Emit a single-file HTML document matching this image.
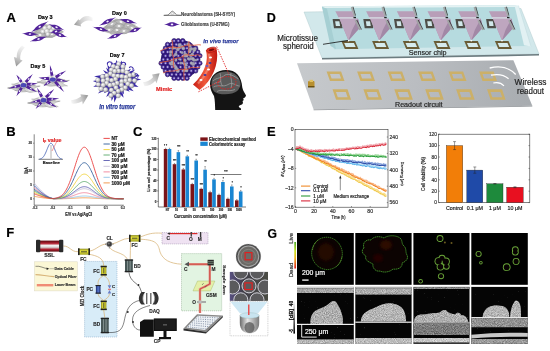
<!DOCTYPE html>
<html><head><meta charset="utf-8"><style>html,body{margin:0;padding:0;background:#fff;}svg{display:block;}</style></head>
<body><svg width="550" height="351" viewBox="0 0 550 351" font-family="Liberation Sans, Arial, sans-serif">
<rect width="550" height="351" fill="#fff"/>
<defs>
<radialGradient id="sph" cx="0.38" cy="0.35" r="0.7"><stop offset="0" stop-color="#ffffff"/><stop offset="0.55" stop-color="#cfcfcf"/><stop offset="1" stop-color="#8a8a8a"/></radialGradient>
<linearGradient id="arrowg" x1="0" y1="0" x2="1" y2="1"><stop offset="0" stop-color="#f4f4f4"/><stop offset="1" stop-color="#a8a8a8"/></linearGradient>
<linearGradient id="livedead" x1="0" y1="0" x2="0" y2="1"><stop offset="0" stop-color="#4caf2a"/><stop offset="0.35" stop-color="#c8e01e"/><stop offset="0.6" stop-color="#f0b81a"/><stop offset="1" stop-color="#e01818"/></linearGradient>
<linearGradient id="dbbar" x1="0" y1="0" x2="0" y2="1"><stop offset="0" stop-color="#ffffff"/><stop offset="1" stop-color="#000"/></linearGradient>
<linearGradient id="vessel" x1="0" y1="0" x2="1" y2="0"><stop offset="0" stop-color="#c81e14"/><stop offset="0.5" stop-color="#f05a3c"/><stop offset="1" stop-color="#c01810"/></linearGradient>
<radialGradient id="headg" cx="0.45" cy="0.35" r="0.7"><stop offset="0" stop-color="#6a6a6a"/><stop offset="0.6" stop-color="#2a2a2a"/><stop offset="1" stop-color="#0a0a0a"/></radialGradient>
<linearGradient id="cupg" x1="0" y1="0" x2="1" y2="0"><stop offset="0" stop-color="#6a6a6a"/><stop offset="0.4" stop-color="#e8e8e8"/><stop offset="1" stop-color="#7a7a7a"/></linearGradient>
<linearGradient id="ssl" x1="0" y1="0" x2="0" y2="1"><stop offset="0" stop-color="#5a0a10"/><stop offset="0.25" stop-color="#b02030"/><stop offset="0.45" stop-color="#f4f4f4"/><stop offset="0.6" stop-color="#d8d8d8"/><stop offset="0.8" stop-color="#b02030"/><stop offset="1" stop-color="#5a0a10"/></linearGradient>
<linearGradient id="fcg" x1="0" y1="0" x2="0" y2="1"><stop offset="0" stop-color="#8a8a20"/><stop offset="0.4" stop-color="#f4f040"/><stop offset="1" stop-color="#a0a020"/></linearGradient>
<linearGradient id="fcv" x1="0" y1="0" x2="1" y2="0"><stop offset="0" stop-color="#8a8a20"/><stop offset="0.4" stop-color="#f4f040"/><stop offset="1" stop-color="#a0a020"/></linearGradient>
<linearGradient id="bdg" x1="0" y1="0" x2="1" y2="0"><stop offset="0" stop-color="#3a4a4a"/><stop offset="0.5" stop-color="#a4b2b0"/><stop offset="1" stop-color="#3a4a4a"/></linearGradient>
<linearGradient id="pcg" x1="0" y1="0" x2="1" y2="0"><stop offset="0" stop-color="#1a2a6a"/><stop offset="0.5" stop-color="#5a7ad0"/><stop offset="1" stop-color="#1a2a6a"/></linearGradient>
</defs>
<text x="6.4" y="21.7" font-size="13" font-weight="bold" fill="#000" text-anchor="start" stroke="#000" stroke-width="0.18" >A</text>
<text x="37.9" y="18.8" font-size="5.6" font-weight="bold" fill="#000" text-anchor="start" textLength="14.7" lengthAdjust="spacingAndGlyphs" stroke="#000" stroke-width="0.18" >Day 3</text>
<text x="112" y="14.5" font-size="5.6" font-weight="bold" fill="#000" text-anchor="start" textLength="14.7" lengthAdjust="spacingAndGlyphs" stroke="#000" stroke-width="0.18" >Day 0</text>
<text x="30.5" y="68.1" font-size="5.6" font-weight="bold" fill="#000" text-anchor="start" textLength="14.7" lengthAdjust="spacingAndGlyphs" stroke="#000" stroke-width="0.18" >Day 5</text>
<text x="109.8" y="56.5" font-size="5.6" font-weight="bold" fill="#000" text-anchor="start" textLength="14.7" lengthAdjust="spacingAndGlyphs" stroke="#000" stroke-width="0.18" >Day 7</text>
<defs><linearGradient id="ag1" gradientUnits="userSpaceOnUse" x1="92" y1="18" x2="75" y2="25"><stop offset="0" stop-color="#f6f6f6"/><stop offset="0.6" stop-color="#cfcfcf"/><stop offset="1" stop-color="#9c9c9c"/></linearGradient></defs>
<path d="M 92.5 17.8 C 88.5 14.6 83 15.6 79.6 20.2 L 78.4 19.3 L 74 24.8 L 81.2 26.6 L 80.6 24.6 C 84 20.6 88.5 19.8 92.5 21.2 Z" fill="url(#ag1)"/>
<defs><linearGradient id="ag2" gradientUnits="userSpaceOnUse" x1="23" y1="46" x2="16" y2="65"><stop offset="0" stop-color="#f6f6f6"/><stop offset="0.6" stop-color="#cfcfcf"/><stop offset="1" stop-color="#9c9c9c"/></linearGradient></defs>
<path d="M 22 45.5 C 18.5 48.5 16.5 52.5 16.8 57.8 L 13.9 56.9 L 16.2 66.4 L 22.6 60.5 L 20.2 59.6 C 19.8 54.5 21.5 50.5 24.8 47.5 Z" fill="url(#ag2)"/>
<defs><linearGradient id="ag3" gradientUnits="userSpaceOnUse" x1="71" y1="102" x2="87" y2="97"><stop offset="0" stop-color="#f6f6f6"/><stop offset="0.6" stop-color="#cfcfcf"/><stop offset="1" stop-color="#9c9c9c"/></linearGradient></defs>
<path d="M 71 100.3 C 75 100 78.5 98.5 81 96.6 L 80.4 94.3 L 88.3 95.2 L 82.8 104.6 L 82.2 101.2 C 79 103 75.5 104 71.5 103.6 Z" fill="url(#ag3)"/>
<defs><linearGradient id="ag4" gradientUnits="userSpaceOnUse" x1="143" y1="85" x2="159" y2="74"><stop offset="0" stop-color="#f6f6f6"/><stop offset="0.6" stop-color="#cfcfcf"/><stop offset="1" stop-color="#9c9c9c"/></linearGradient></defs>
<path d="M 143 82.3 C 147 81.8 150.5 80 153 77.2 L 152.1 74.5 L 159.6 73.2 L 156.5 83.4 L 155.3 80.8 C 152.5 84 148.5 86.2 144.5 86.2 Z" fill="url(#ag4)"/>
<polygon points="103,27.5 116,18.5 127,21 139,27.5 126,34 111,34.5" fill="#b4b4b4"/>
<g transform="translate(112.00,24.00) rotate(-25.0)"><path d="M -8.00 0 C -4.00 -0.4 -3.20 -2.80 0 -2.80 C 3.20 -2.80 4.00 -0.4 8.00 0 C 4.00 0.4 3.20 2.80 0 2.80 C -3.20 2.80 -4.00 0.4 -8.00 0 Z" fill="#bababa" stroke="#888" stroke-width="0.3"/><ellipse cx="0" cy="0" rx="1.5" ry="0.9" fill="#f6f6f6"/></g>
<g transform="translate(121.00,22.00) rotate(8.0)"><path d="M -7.50 0 C -3.75 -0.4 -3.00 -2.80 0 -2.80 C 3.00 -2.80 3.75 -0.4 7.50 0 C 3.75 0.4 3.00 2.80 0 2.80 C -3.00 2.80 -3.75 0.4 -7.50 0 Z" fill="#bababa" stroke="#888" stroke-width="0.3"/><ellipse cx="0" cy="0" rx="1.5" ry="0.9" fill="#f6f6f6"/></g>
<g transform="translate(128.00,26.00) rotate(-8.0)"><path d="M -7.50 0 C -3.75 -0.4 -3.00 -2.80 0 -2.80 C 3.00 -2.80 3.75 -0.4 7.50 0 C 3.75 0.4 3.00 2.80 0 2.80 C -3.00 2.80 -3.75 0.4 -7.50 0 Z" fill="#bababa" stroke="#888" stroke-width="0.3"/><ellipse cx="0" cy="0" rx="1.5" ry="0.9" fill="#f6f6f6"/></g>
<g transform="translate(117.00,30.00) rotate(12.0)"><path d="M -8.00 0 C -4.00 -0.4 -3.20 -2.80 0 -2.80 C 3.20 -2.80 4.00 -0.4 8.00 0 C 4.00 0.4 3.20 2.80 0 2.80 C -3.20 2.80 -4.00 0.4 -8.00 0 Z" fill="#bababa" stroke="#888" stroke-width="0.3"/><ellipse cx="0" cy="0" rx="1.5" ry="0.9" fill="#f6f6f6"/></g>
<g transform="translate(124.00,31.00) rotate(-5.0)"><path d="M -7.00 0 C -3.50 -0.4 -2.80 -2.80 0 -2.80 C 2.80 -2.80 3.50 -0.4 7.00 0 C 3.50 0.4 2.80 2.80 0 2.80 C -2.80 2.80 -3.50 0.4 -7.00 0 Z" fill="#bababa" stroke="#888" stroke-width="0.3"/><ellipse cx="0" cy="0" rx="1.5" ry="0.9" fill="#f6f6f6"/></g>
<g transform="translate(132.00,28.00) rotate(18.0)"><path d="M -6.00 0 C -3.00 -0.4 -2.40 -2.80 0 -2.80 C 2.40 -2.80 3.00 -0.4 6.00 0 C 3.00 0.4 2.40 2.80 0 2.80 C -2.40 2.80 -3.00 0.4 -6.00 0 Z" fill="#bababa" stroke="#888" stroke-width="0.3"/><ellipse cx="0" cy="0" rx="1.5" ry="0.9" fill="#f6f6f6"/></g>
<g transform="translate(109.00,30.00) rotate(-12.0)"><path d="M -6.50 0 C -3.25 -0.4 -2.60 -2.80 0 -2.80 C 2.60 -2.80 3.25 -0.4 6.50 0 C 3.25 0.4 2.60 2.80 0 2.80 C -2.60 2.80 -3.25 0.4 -6.50 0 Z" fill="#bababa" stroke="#888" stroke-width="0.3"/><ellipse cx="0" cy="0" rx="1.5" ry="0.9" fill="#f6f6f6"/></g>
<g transform="translate(119.00,26.00) rotate(0.0)"><path d="M -6.00 0 C -3.00 -0.4 -2.40 -2.80 0 -2.80 C 2.40 -2.80 3.00 -0.4 6.00 0 C 3.00 0.4 2.40 2.80 0 2.80 C -2.40 2.80 -3.00 0.4 -6.00 0 Z" fill="#bababa" stroke="#888" stroke-width="0.3"/><ellipse cx="0" cy="0" rx="1.5" ry="0.9" fill="#f6f6f6"/></g>
<g transform="translate(107.50,21.50) rotate(-27.0)"><path d="M -9.50 0 C -4.75 -0.3 -3.80 -1.90 0 -1.90 C 3.80 -1.90 4.75 -0.3 9.50 0 C 4.75 0.3 3.80 1.90 0 1.90 C -3.80 1.90 -4.75 0.3 -9.50 0 Z" fill="#52239a"/><ellipse cx="0" cy="0" rx="1.3" ry="0.85" fill="#f4f0ff"/></g>
<g transform="translate(128.00,21.20) rotate(14.0)"><path d="M -9.50 0 C -4.75 -0.3 -3.80 -1.90 0 -1.90 C 3.80 -1.90 4.75 -0.3 9.50 0 C 4.75 0.3 3.80 1.90 0 1.90 C -3.80 1.90 -4.75 0.3 -9.50 0 Z" fill="#52239a"/><ellipse cx="0" cy="0" rx="1.3" ry="0.85" fill="#f4f0ff"/></g>
<g transform="translate(101.00,29.20) rotate(15.0)"><path d="M -9.00 0 C -4.50 -0.3 -3.60 -1.90 0 -1.90 C 3.60 -1.90 4.50 -0.3 9.00 0 C 4.50 0.3 3.60 1.90 0 1.90 C -3.60 1.90 -4.50 0.3 -9.00 0 Z" fill="#52239a"/><ellipse cx="0" cy="0" rx="1.3" ry="0.85" fill="#f4f0ff"/></g>
<g transform="translate(115.00,36.00) rotate(-20.0)"><path d="M -9.00 0 C -4.50 -0.3 -3.60 -1.90 0 -1.90 C 3.60 -1.90 4.50 -0.3 9.00 0 C 4.50 0.3 3.60 1.90 0 1.90 C -3.60 1.90 -4.50 0.3 -9.00 0 Z" fill="#52239a"/><ellipse cx="0" cy="0" rx="1.3" ry="0.85" fill="#f4f0ff"/></g>
<g transform="translate(135.00,30.00) rotate(-20.0)"><path d="M -7.50 0 C -3.75 -0.3 -3.00 -1.90 0 -1.90 C 3.00 -1.90 3.75 -0.3 7.50 0 C 3.75 0.3 3.00 1.90 0 1.90 C -3.00 1.90 -3.75 0.3 -7.50 0 Z" fill="#52239a"/><ellipse cx="0" cy="0" rx="1.3" ry="0.85" fill="#f4f0ff"/></g>
<polygon points="32,33 44,24 56,26 64,32 52,38 38,38" fill="#b4b4b4"/>
<g transform="translate(42.00,31.00) rotate(-15.0)"><path d="M -9.00 0 C -4.50 -0.4 -3.60 -2.80 0 -2.80 C 3.60 -2.80 4.50 -0.4 9.00 0 C 4.50 0.4 3.60 2.80 0 2.80 C -3.60 2.80 -4.50 0.4 -9.00 0 Z" fill="#bababa" stroke="#888" stroke-width="0.3"/><ellipse cx="0" cy="0" rx="1.5" ry="0.9" fill="#f6f6f6"/></g>
<g transform="translate(50.00,29.00) rotate(10.0)"><path d="M -8.00 0 C -4.00 -0.4 -3.20 -2.80 0 -2.80 C 3.20 -2.80 4.00 -0.4 8.00 0 C 4.00 0.4 3.20 2.80 0 2.80 C -3.20 2.80 -4.00 0.4 -8.00 0 Z" fill="#bababa" stroke="#888" stroke-width="0.3"/><ellipse cx="0" cy="0" rx="1.5" ry="0.9" fill="#f6f6f6"/></g>
<g transform="translate(40.00,35.00) rotate(5.0)"><path d="M -8.00 0 C -4.00 -0.4 -3.20 -2.80 0 -2.80 C 3.20 -2.80 4.00 -0.4 8.00 0 C 4.00 0.4 3.20 2.80 0 2.80 C -3.20 2.80 -4.00 0.4 -8.00 0 Z" fill="#bababa" stroke="#888" stroke-width="0.3"/><ellipse cx="0" cy="0" rx="1.5" ry="0.9" fill="#f6f6f6"/></g>
<g transform="translate(52.00,34.00) rotate(-10.0)"><path d="M -7.50 0 C -3.75 -0.4 -3.00 -2.80 0 -2.80 C 3.00 -2.80 3.75 -0.4 7.50 0 C 3.75 0.4 3.00 2.80 0 2.80 C -3.00 2.80 -3.75 0.4 -7.50 0 Z" fill="#bababa" stroke="#888" stroke-width="0.3"/><ellipse cx="0" cy="0" rx="1.5" ry="0.9" fill="#f6f6f6"/></g>
<circle cx="45" cy="28.5" r="2.5" fill="url(#sph)"/>
<circle cx="49.5" cy="27.5" r="2.4" fill="url(#sph)"/>
<circle cx="47" cy="31.5" r="2.6" fill="url(#sph)"/>
<circle cx="51.5" cy="31.5" r="2.3" fill="url(#sph)"/>
<circle cx="43" cy="32" r="2.2" fill="url(#sph)"/>
<circle cx="48" cy="34.5" r="2.2" fill="url(#sph)"/>
<circle cx="53.5" cy="28.5" r="2" fill="url(#sph)"/>
<g transform="translate(39.70,26.70) rotate(-33.0)"><path d="M -11.00 0 C -5.50 -0.3 -4.40 -1.90 0 -1.90 C 4.40 -1.90 5.50 -0.3 11.00 0 C 5.50 0.3 4.40 1.90 0 1.90 C -4.40 1.90 -5.50 0.3 -11.00 0 Z" fill="#52239a"/><ellipse cx="0" cy="0" rx="1.3" ry="0.85" fill="#f4f0ff"/></g>
<g transform="translate(30.00,34.00) rotate(3.0)"><path d="M -8.50 0 C -4.25 -0.3 -3.40 -1.90 0 -1.90 C 3.40 -1.90 4.25 -0.3 8.50 0 C 4.25 0.3 3.40 1.90 0 1.90 C -3.40 1.90 -4.25 0.3 -8.50 0 Z" fill="#52239a"/><ellipse cx="0" cy="0" rx="1.3" ry="0.85" fill="#f4f0ff"/></g>
<g transform="translate(56.50,27.20) rotate(20.0)"><path d="M -9.00 0 C -4.50 -0.3 -3.60 -1.90 0 -1.90 C 3.60 -1.90 4.50 -0.3 9.00 0 C 4.50 0.3 3.60 1.90 0 1.90 C -3.60 1.90 -4.50 0.3 -9.00 0 Z" fill="#52239a"/><ellipse cx="0" cy="0" rx="1.3" ry="0.85" fill="#f4f0ff"/></g>
<g transform="translate(60.00,35.00) rotate(16.0)"><path d="M -8.00 0 C -4.00 -0.3 -3.20 -1.90 0 -1.90 C 3.20 -1.90 4.00 -0.3 8.00 0 C 4.00 0.3 3.20 1.90 0 1.90 C -3.20 1.90 -4.00 0.3 -8.00 0 Z" fill="#52239a"/><ellipse cx="0" cy="0" rx="1.3" ry="0.85" fill="#f4f0ff"/></g>
<g transform="translate(38.50,39.00) rotate(-16.0)"><path d="M -9.50 0 C -4.75 -0.3 -3.80 -1.90 0 -1.90 C 3.80 -1.90 4.75 -0.3 9.50 0 C 4.75 0.3 3.80 1.90 0 1.90 C -3.80 1.90 -4.75 0.3 -9.50 0 Z" fill="#52239a"/><ellipse cx="0" cy="0" rx="1.3" ry="0.85" fill="#f4f0ff"/></g>
<g transform="translate(56.00,31.50) rotate(-12.0)"><path d="M -6.50 0 C -3.25 -0.3 -2.60 -1.90 0 -1.90 C 2.60 -1.90 3.25 -0.3 6.50 0 C 3.25 0.3 2.60 1.90 0 1.90 C -2.60 1.90 -3.25 0.3 -6.50 0 Z" fill="#52239a"/><ellipse cx="0" cy="0" rx="1.3" ry="0.85" fill="#f4f0ff"/></g>
<g transform="translate(23.50,87.30) rotate(-4.0)"><path d="M -16.00 0 C -8.00 -0.4 -6.40 -2.60 0 -2.60 C 6.40 -2.60 8.00 -0.4 16.00 0 C 8.00 0.4 6.40 2.60 0 2.60 C -6.40 2.60 -8.00 0.4 -16.00 0 Z" fill="#d4d4d4" stroke="#888" stroke-width="0.3"/><ellipse cx="0" cy="0" rx="1.5" ry="0.9" fill="#f6f6f6"/></g>
<g transform="translate(20.50,89.30) rotate(8.0)"><path d="M -13.00 0 C -6.50 -0.4 -5.20 -2.60 0 -2.60 C 5.20 -2.60 6.50 -0.4 13.00 0 C 6.50 0.4 5.20 2.60 0 2.60 C -5.20 2.60 -6.50 0.4 -13.00 0 Z" fill="#d4d4d4" stroke="#888" stroke-width="0.3"/><ellipse cx="0" cy="0" rx="1.5" ry="0.9" fill="#f6f6f6"/></g>
<g transform="translate(27.50,88.30) rotate(-10.0)"><path d="M -13.00 0 C -6.50 -0.4 -5.20 -2.60 0 -2.60 C 5.20 -2.60 6.50 -0.4 13.00 0 C 6.50 0.4 5.20 2.60 0 2.60 C -5.20 2.60 -6.50 0.4 -13.00 0 Z" fill="#d4d4d4" stroke="#888" stroke-width="0.3"/><ellipse cx="0" cy="0" rx="1.5" ry="0.9" fill="#f6f6f6"/></g>
<g transform="translate(23.50,84.80) rotate(3.0)"><path d="M -12.00 0 C -6.00 -0.4 -4.80 -2.60 0 -2.60 C 4.80 -2.60 6.00 -0.4 12.00 0 C 6.00 0.4 4.80 2.60 0 2.60 C -4.80 2.60 -6.00 0.4 -12.00 0 Z" fill="#d4d4d4" stroke="#888" stroke-width="0.3"/><ellipse cx="0" cy="0" rx="1.5" ry="0.9" fill="#f6f6f6"/></g>
<g transform="translate(17.50,85.80) rotate(-15.0)"><path d="M -9.00 0 C -4.50 -0.4 -3.60 -2.60 0 -2.60 C 3.60 -2.60 4.50 -0.4 9.00 0 C 4.50 0.4 3.60 2.60 0 2.60 C -3.60 2.60 -4.50 0.4 -9.00 0 Z" fill="#d4d4d4" stroke="#888" stroke-width="0.3"/><ellipse cx="0" cy="0" rx="1.5" ry="0.9" fill="#f6f6f6"/></g>
<g transform="translate(29.50,89.80) rotate(12.0)"><path d="M -9.00 0 C -4.50 -0.4 -3.60 -2.60 0 -2.60 C 3.60 -2.60 4.50 -0.4 9.00 0 C 4.50 0.4 3.60 2.60 0 2.60 C -3.60 2.60 -4.50 0.4 -9.00 0 Z" fill="#d4d4d4" stroke="#888" stroke-width="0.3"/><ellipse cx="0" cy="0" rx="1.5" ry="0.9" fill="#f6f6f6"/></g>
<circle cx="20.5" cy="83.8" r="2.5" fill="url(#sph)"/>
<circle cx="25.5" cy="82.8" r="2.5" fill="url(#sph)"/>
<circle cx="23.5" cy="86.3" r="2.7" fill="url(#sph)"/>
<circle cx="18.0" cy="86.8" r="2.2" fill="url(#sph)"/>
<circle cx="29.0" cy="85.8" r="2.2" fill="url(#sph)"/>
<ellipse cx="23.5" cy="85.3" rx="3" ry="2.2" fill="#3a36b0" opacity="0.9"/>
<g transform="translate(23.5,84.8) rotate(-125.4)"><path d="M 3.5 -1.4 C 6.1 -1.7 9.2 -0.6 12.3 0 C 9.2 0.6 6.1 1.7 3.5 1.4 Z" fill="#52239a"/><ellipse cx="6.7" cy="0" rx="1.1" ry="0.65" fill="#f4f0ff"/></g>
<g transform="translate(23.5,84.8) rotate(-49.0)"><path d="M 3.5 -1.4 C 7.1 -1.7 10.6 -0.6 14.2 0 C 10.6 0.6 7.1 1.7 3.5 1.4 Z" fill="#52239a"/><ellipse cx="7.8" cy="0" rx="1.1" ry="0.65" fill="#f4f0ff"/></g>
<g transform="translate(23.5,84.8) rotate(-5.6)"><path d="M 3.5 -1.4 C 7.2 -1.7 10.8 -0.6 14.4 0 C 10.8 0.6 7.2 1.7 3.5 1.4 Z" fill="#52239a"/><ellipse cx="7.9" cy="0" rx="1.1" ry="0.65" fill="#f4f0ff"/></g>
<g transform="translate(23.5,84.8) rotate(28.1)"><path d="M 3.5 -1.4 C 7.7 -1.7 11.5 -0.6 15.3 0 C 11.5 0.6 7.7 1.7 3.5 1.4 Z" fill="#52239a"/><ellipse cx="8.4" cy="0" rx="1.1" ry="0.65" fill="#f4f0ff"/></g>
<g transform="translate(23.5,84.8) rotate(166.4)"><path d="M 3.5 -1.4 C 7.7 -1.7 11.5 -0.6 15.3 0 C 11.5 0.6 7.7 1.7 3.5 1.4 Z" fill="#52239a"/><ellipse cx="8.4" cy="0" rx="1.1" ry="0.65" fill="#f4f0ff"/></g>
<g transform="translate(23.5,84.8) rotate(121.9)"><path d="M 3.5 -1.4 C 6.7 -1.7 10.1 -0.6 13.4 0 C 10.1 0.6 6.7 1.7 3.5 1.4 Z" fill="#52239a"/><ellipse cx="7.4" cy="0" rx="1.1" ry="0.65" fill="#f4f0ff"/></g>
<g transform="translate(52.80,81.60) rotate(-4.0)"><path d="M -16.00 0 C -8.00 -0.4 -6.40 -2.60 0 -2.60 C 6.40 -2.60 8.00 -0.4 16.00 0 C 8.00 0.4 6.40 2.60 0 2.60 C -6.40 2.60 -8.00 0.4 -16.00 0 Z" fill="#d4d4d4" stroke="#888" stroke-width="0.3"/><ellipse cx="0" cy="0" rx="1.5" ry="0.9" fill="#f6f6f6"/></g>
<g transform="translate(49.80,83.60) rotate(8.0)"><path d="M -13.00 0 C -6.50 -0.4 -5.20 -2.60 0 -2.60 C 5.20 -2.60 6.50 -0.4 13.00 0 C 6.50 0.4 5.20 2.60 0 2.60 C -5.20 2.60 -6.50 0.4 -13.00 0 Z" fill="#d4d4d4" stroke="#888" stroke-width="0.3"/><ellipse cx="0" cy="0" rx="1.5" ry="0.9" fill="#f6f6f6"/></g>
<g transform="translate(56.80,82.60) rotate(-10.0)"><path d="M -13.00 0 C -6.50 -0.4 -5.20 -2.60 0 -2.60 C 5.20 -2.60 6.50 -0.4 13.00 0 C 6.50 0.4 5.20 2.60 0 2.60 C -5.20 2.60 -6.50 0.4 -13.00 0 Z" fill="#d4d4d4" stroke="#888" stroke-width="0.3"/><ellipse cx="0" cy="0" rx="1.5" ry="0.9" fill="#f6f6f6"/></g>
<g transform="translate(52.80,79.10) rotate(3.0)"><path d="M -12.00 0 C -6.00 -0.4 -4.80 -2.60 0 -2.60 C 4.80 -2.60 6.00 -0.4 12.00 0 C 6.00 0.4 4.80 2.60 0 2.60 C -4.80 2.60 -6.00 0.4 -12.00 0 Z" fill="#d4d4d4" stroke="#888" stroke-width="0.3"/><ellipse cx="0" cy="0" rx="1.5" ry="0.9" fill="#f6f6f6"/></g>
<g transform="translate(46.80,80.10) rotate(-15.0)"><path d="M -9.00 0 C -4.50 -0.4 -3.60 -2.60 0 -2.60 C 3.60 -2.60 4.50 -0.4 9.00 0 C 4.50 0.4 3.60 2.60 0 2.60 C -3.60 2.60 -4.50 0.4 -9.00 0 Z" fill="#d4d4d4" stroke="#888" stroke-width="0.3"/><ellipse cx="0" cy="0" rx="1.5" ry="0.9" fill="#f6f6f6"/></g>
<g transform="translate(58.80,84.10) rotate(12.0)"><path d="M -9.00 0 C -4.50 -0.4 -3.60 -2.60 0 -2.60 C 3.60 -2.60 4.50 -0.4 9.00 0 C 4.50 0.4 3.60 2.60 0 2.60 C -3.60 2.60 -4.50 0.4 -9.00 0 Z" fill="#d4d4d4" stroke="#888" stroke-width="0.3"/><ellipse cx="0" cy="0" rx="1.5" ry="0.9" fill="#f6f6f6"/></g>
<circle cx="49.8" cy="78.1" r="2.5" fill="url(#sph)"/>
<circle cx="54.8" cy="77.1" r="2.5" fill="url(#sph)"/>
<circle cx="52.8" cy="80.6" r="2.7" fill="url(#sph)"/>
<circle cx="47.3" cy="81.1" r="2.2" fill="url(#sph)"/>
<circle cx="58.3" cy="80.1" r="2.2" fill="url(#sph)"/>
<ellipse cx="52.8" cy="79.6" rx="3" ry="2.2" fill="#3a36b0" opacity="0.9"/>
<g transform="translate(52.8,79.1) rotate(-101.5)"><path d="M 3.5 -1.4 C 7.2 -1.7 10.9 -0.6 14.5 0 C 10.9 0.6 7.2 1.7 3.5 1.4 Z" fill="#52239a"/><ellipse cx="8.0" cy="0" rx="1.1" ry="0.65" fill="#f4f0ff"/></g>
<g transform="translate(52.8,79.1) rotate(-32.2)"><path d="M 3.5 -1.4 C 8.0 -1.7 12.0 -0.6 16.0 0 C 12.0 0.6 8.0 1.7 3.5 1.4 Z" fill="#52239a"/><ellipse cx="8.8" cy="0" rx="1.1" ry="0.65" fill="#f4f0ff"/></g>
<g transform="translate(52.8,79.1) rotate(10.5)"><path d="M 3.5 -1.4 C 7.9 -1.7 11.9 -0.6 15.9 0 C 11.9 0.6 7.9 1.7 3.5 1.4 Z" fill="#52239a"/><ellipse cx="8.7" cy="0" rx="1.1" ry="0.65" fill="#f4f0ff"/></g>
<g transform="translate(52.8,79.1) rotate(48.5)"><path d="M 3.5 -1.4 C 8.6 -1.7 12.9 -0.6 17.2 0 C 12.9 0.6 8.6 1.7 3.5 1.4 Z" fill="#52239a"/><ellipse cx="9.5" cy="0" rx="1.1" ry="0.65" fill="#f4f0ff"/></g>
<g transform="translate(52.8,79.1) rotate(-174.4)"><path d="M 3.5 -1.4 C 7.2 -1.7 10.8 -0.6 14.4 0 C 10.8 0.6 7.2 1.7 3.5 1.4 Z" fill="#52239a"/><ellipse cx="7.9" cy="0" rx="1.1" ry="0.65" fill="#f4f0ff"/></g>
<g transform="translate(52.8,79.1) rotate(142.6)"><path d="M 3.5 -1.4 C 5.9 -1.7 8.8 -0.6 11.7 0 C 8.8 0.6 5.9 1.7 3.5 1.4 Z" fill="#52239a"/><ellipse cx="6.4" cy="0" rx="1.1" ry="0.65" fill="#f4f0ff"/></g>
<g transform="translate(43.50,102.30) rotate(-4.0)"><path d="M -16.00 0 C -8.00 -0.4 -6.40 -2.60 0 -2.60 C 6.40 -2.60 8.00 -0.4 16.00 0 C 8.00 0.4 6.40 2.60 0 2.60 C -6.40 2.60 -8.00 0.4 -16.00 0 Z" fill="#d4d4d4" stroke="#888" stroke-width="0.3"/><ellipse cx="0" cy="0" rx="1.5" ry="0.9" fill="#f6f6f6"/></g>
<g transform="translate(40.50,104.30) rotate(8.0)"><path d="M -13.00 0 C -6.50 -0.4 -5.20 -2.60 0 -2.60 C 5.20 -2.60 6.50 -0.4 13.00 0 C 6.50 0.4 5.20 2.60 0 2.60 C -5.20 2.60 -6.50 0.4 -13.00 0 Z" fill="#d4d4d4" stroke="#888" stroke-width="0.3"/><ellipse cx="0" cy="0" rx="1.5" ry="0.9" fill="#f6f6f6"/></g>
<g transform="translate(47.50,103.30) rotate(-10.0)"><path d="M -13.00 0 C -6.50 -0.4 -5.20 -2.60 0 -2.60 C 5.20 -2.60 6.50 -0.4 13.00 0 C 6.50 0.4 5.20 2.60 0 2.60 C -5.20 2.60 -6.50 0.4 -13.00 0 Z" fill="#d4d4d4" stroke="#888" stroke-width="0.3"/><ellipse cx="0" cy="0" rx="1.5" ry="0.9" fill="#f6f6f6"/></g>
<g transform="translate(43.50,99.80) rotate(3.0)"><path d="M -12.00 0 C -6.00 -0.4 -4.80 -2.60 0 -2.60 C 4.80 -2.60 6.00 -0.4 12.00 0 C 6.00 0.4 4.80 2.60 0 2.60 C -4.80 2.60 -6.00 0.4 -12.00 0 Z" fill="#d4d4d4" stroke="#888" stroke-width="0.3"/><ellipse cx="0" cy="0" rx="1.5" ry="0.9" fill="#f6f6f6"/></g>
<g transform="translate(37.50,100.80) rotate(-15.0)"><path d="M -9.00 0 C -4.50 -0.4 -3.60 -2.60 0 -2.60 C 3.60 -2.60 4.50 -0.4 9.00 0 C 4.50 0.4 3.60 2.60 0 2.60 C -3.60 2.60 -4.50 0.4 -9.00 0 Z" fill="#d4d4d4" stroke="#888" stroke-width="0.3"/><ellipse cx="0" cy="0" rx="1.5" ry="0.9" fill="#f6f6f6"/></g>
<g transform="translate(49.50,104.80) rotate(12.0)"><path d="M -9.00 0 C -4.50 -0.4 -3.60 -2.60 0 -2.60 C 3.60 -2.60 4.50 -0.4 9.00 0 C 4.50 0.4 3.60 2.60 0 2.60 C -3.60 2.60 -4.50 0.4 -9.00 0 Z" fill="#d4d4d4" stroke="#888" stroke-width="0.3"/><ellipse cx="0" cy="0" rx="1.5" ry="0.9" fill="#f6f6f6"/></g>
<circle cx="40.5" cy="98.8" r="2.5" fill="url(#sph)"/>
<circle cx="45.5" cy="97.8" r="2.5" fill="url(#sph)"/>
<circle cx="43.5" cy="101.3" r="2.7" fill="url(#sph)"/>
<circle cx="38.0" cy="101.8" r="2.2" fill="url(#sph)"/>
<circle cx="49.0" cy="100.8" r="2.2" fill="url(#sph)"/>
<ellipse cx="43.5" cy="100.3" rx="3" ry="2.2" fill="#3a36b0" opacity="0.9"/>
<g transform="translate(43.5,99.8) rotate(-118.2)"><path d="M 3.5 -1.4 C 6.9 -1.7 10.3 -0.6 13.7 0 C 10.3 0.6 6.9 1.7 3.5 1.4 Z" fill="#52239a"/><ellipse cx="7.6" cy="0" rx="1.1" ry="0.65" fill="#f4f0ff"/></g>
<g transform="translate(43.5,99.8) rotate(-45.3)"><path d="M 3.5 -1.4 C 7.6 -1.7 11.4 -0.6 15.2 0 C 11.4 0.6 7.6 1.7 3.5 1.4 Z" fill="#52239a"/><ellipse cx="8.4" cy="0" rx="1.1" ry="0.65" fill="#f4f0ff"/></g>
<g transform="translate(43.5,99.8) rotate(-5.1)"><path d="M 3.5 -1.4 C 7.9 -1.7 11.8 -0.6 15.8 0 C 11.8 0.6 7.9 1.7 3.5 1.4 Z" fill="#52239a"/><ellipse cx="8.7" cy="0" rx="1.1" ry="0.65" fill="#f4f0ff"/></g>
<g transform="translate(43.5,99.8) rotate(30.0)"><path d="M 3.5 -1.4 C 7.8 -1.7 11.7 -0.6 15.6 0 C 11.7 0.6 7.8 1.7 3.5 1.4 Z" fill="#52239a"/><ellipse cx="8.6" cy="0" rx="1.1" ry="0.65" fill="#f4f0ff"/></g>
<g transform="translate(43.5,99.8) rotate(168.3)"><path d="M 3.5 -1.4 C 6.9 -1.7 10.3 -0.6 13.8 0 C 10.3 0.6 6.9 1.7 3.5 1.4 Z" fill="#52239a"/><ellipse cx="7.6" cy="0" rx="1.1" ry="0.65" fill="#f4f0ff"/></g>
<g transform="translate(43.5,99.8) rotate(130.7)"><path d="M 3.5 -1.4 C 6.1 -1.7 9.1 -0.6 12.1 0 C 9.1 0.6 6.1 1.7 3.5 1.4 Z" fill="#52239a"/><ellipse cx="6.7" cy="0" rx="1.1" ry="0.65" fill="#f4f0ff"/></g>
<g transform="translate(137.5,79.3) rotate(-3)"><path d="M -2.5 -1.6 L 3.7 0.3 L -2.5 1.6 Z" fill="#3a2aa8"/></g>
<g transform="translate(135.9,85.5) rotate(15)"><path d="M -2.5 -1.6 L 2.9 0.7 L -2.5 1.6 Z" fill="#3a2aa8"/></g>
<g transform="translate(130.8,89.5) rotate(33)"><path d="M -2.5 -1.6 L 3.4 0.0 L -2.5 1.6 Z" fill="#3a2aa8"/></g>
<g transform="translate(127.7,90.3) rotate(42)"><path d="M -2.5 -1.6 L 2.5 -0.3 L -2.5 1.6 Z" fill="#3a2aa8"/></g>
<g transform="translate(123.3,91.9) rotate(61)"><path d="M -2.5 -1.6 L 2.6 0.7 L -2.5 1.6 Z" fill="#3a2aa8"/></g>
<g transform="translate(121.7,95.3) rotate(72)"><path d="M -2.5 -1.6 L 2.9 -1.1 L -2.5 1.6 Z" fill="#3a2aa8"/></g>
<g transform="translate(115.4,98.9) rotate(95)"><path d="M -2.5 -1.6 L 3.8 0.9 L -2.5 1.6 Z" fill="#3a2aa8"/></g>
<g transform="translate(111.9,98.3) rotate(106)"><path d="M -2.5 -1.6 L 2.6 -0.4 L -2.5 1.6 Z" fill="#3a2aa8"/></g>
<g transform="translate(108.5,95.2) rotate(120)"><path d="M -2.5 -1.6 L 2.7 1.1 L -2.5 1.6 Z" fill="#3a2aa8"/></g>
<g transform="translate(106.3,91.7) rotate(134)"><path d="M -2.5 -1.6 L 2.8 0.8 L -2.5 1.6 Z" fill="#3a2aa8"/></g>
<g transform="translate(101.2,91.1) rotate(146)"><path d="M -2.5 -1.6 L 4.1 -0.1 L -2.5 1.6 Z" fill="#3a2aa8"/></g>
<g transform="translate(96.2,85.9) rotate(166)"><path d="M -2.5 -1.6 L 3.1 -0.0 L -2.5 1.6 Z" fill="#3a2aa8"/></g>
<g transform="translate(95.5,81.7) rotate(177)"><path d="M -2.5 -1.6 L 2.6 0.9 L -2.5 1.6 Z" fill="#3a2aa8"/></g>
<g transform="translate(98.0,76.3) rotate(192)"><path d="M -2.5 -1.6 L 3.8 -0.7 L -2.5 1.6 Z" fill="#3a2aa8"/></g>
<g transform="translate(105.9,72.8) rotate(215)"><path d="M -2.5 -1.6 L 4.0 0.6 L -2.5 1.6 Z" fill="#3a2aa8"/></g>
<g transform="translate(107.9,70.5) rotate(228)"><path d="M -2.5 -1.6 L 3.5 0.6 L -2.5 1.6 Z" fill="#3a2aa8"/></g>
<g transform="translate(108.4,67.6) rotate(236)"><path d="M -2.5 -1.6 L 3.3 0.8 L -2.5 1.6 Z" fill="#3a2aa8"/></g>
<g transform="translate(111.4,63.4) rotate(252)"><path d="M -2.5 -1.6 L 2.0 0.9 L -2.5 1.6 Z" fill="#3a2aa8"/></g>
<g transform="translate(116.7,61.5) rotate(269)"><path d="M -2.5 -1.6 L 1.6 -0.1 L -2.5 1.6 Z" fill="#3a2aa8"/></g>
<g transform="translate(121.4,62.5) rotate(284)"><path d="M -2.5 -1.6 L 2.1 -0.3 L -2.5 1.6 Z" fill="#3a2aa8"/></g>
<g transform="translate(124.3,65.1) rotate(295)"><path d="M -2.5 -1.6 L 1.3 0.5 L -2.5 1.6 Z" fill="#3a2aa8"/></g>
<g transform="translate(128.5,70.8) rotate(320)"><path d="M -2.5 -1.6 L 3.3 -0.0 L -2.5 1.6 Z" fill="#3a2aa8"/></g>
<g transform="translate(132.2,71.9) rotate(331)"><path d="M -2.5 -1.6 L 3.8 -0.7 L -2.5 1.6 Z" fill="#3a2aa8"/></g>
<g transform="translate(136.4,75.7) rotate(346)"><path d="M -2.5 -1.6 L 3.4 0.3 L -2.5 1.6 Z" fill="#3a2aa8"/></g>
<circle cx="105.3" cy="82.3" r="8.250000000000002" fill="#3a2aa8"/>
<circle cx="117.0" cy="70.6" r="7.8" fill="#3a2aa8"/>
<circle cx="127.8" cy="80.5" r="8.250000000000002" fill="#3a2aa8"/>
<circle cx="115.2" cy="90.4" r="6.8999999999999995" fill="#3a2aa8"/>
<circle cx="117.0" cy="80.5" r="6.8999999999999995" fill="#3a2aa8"/>
<circle cx="118.6" cy="64.1" r="2.45" fill="url(#sph)" stroke="#7a7a8a" stroke-width="0.25"/>
<circle cx="113.3" cy="66.5" r="2.45" fill="url(#sph)" stroke="#7a7a8a" stroke-width="0.25"/>
<circle cx="122.9" cy="66.7" r="2.45" fill="url(#sph)" stroke="#7a7a8a" stroke-width="0.25"/>
<circle cx="117.2" cy="67.6" r="2.45" fill="url(#sph)" stroke="#7a7a8a" stroke-width="0.25"/>
<circle cx="111.3" cy="69.9" r="2.45" fill="url(#sph)" stroke="#7a7a8a" stroke-width="0.25"/>
<circle cx="122.8" cy="71.0" r="2.45" fill="url(#sph)" stroke="#7a7a8a" stroke-width="0.25"/>
<circle cx="118.6" cy="71.1" r="2.45" fill="url(#sph)" stroke="#7a7a8a" stroke-width="0.25"/>
<circle cx="114.8" cy="71.3" r="2.45" fill="url(#sph)" stroke="#7a7a8a" stroke-width="0.25"/>
<circle cx="126.9" cy="72.6" r="2.45" fill="url(#sph)" stroke="#7a7a8a" stroke-width="0.25"/>
<circle cx="110.4" cy="73.7" r="2.45" fill="url(#sph)" stroke="#7a7a8a" stroke-width="0.25"/>
<circle cx="133.5" cy="74.7" r="2.45" fill="url(#sph)" stroke="#7a7a8a" stroke-width="0.25"/>
<circle cx="129.7" cy="75.5" r="2.45" fill="url(#sph)" stroke="#7a7a8a" stroke-width="0.25"/>
<circle cx="113.8" cy="75.6" r="2.45" fill="url(#sph)" stroke="#7a7a8a" stroke-width="0.25"/>
<circle cx="106.8" cy="75.7" r="2.45" fill="url(#sph)" stroke="#7a7a8a" stroke-width="0.25"/>
<circle cx="117.8" cy="76.1" r="2.45" fill="url(#sph)" stroke="#7a7a8a" stroke-width="0.25"/>
<circle cx="121.9" cy="76.5" r="2.45" fill="url(#sph)" stroke="#7a7a8a" stroke-width="0.25"/>
<circle cx="102.6" cy="76.7" r="2.45" fill="url(#sph)" stroke="#7a7a8a" stroke-width="0.25"/>
<circle cx="126.0" cy="77.2" r="2.45" fill="url(#sph)" stroke="#7a7a8a" stroke-width="0.25"/>
<circle cx="115.5" cy="79.2" r="2.45" fill="url(#sph)" stroke="#7a7a8a" stroke-width="0.25"/>
<circle cx="107.5" cy="79.5" r="2.45" fill="url(#sph)" stroke="#7a7a8a" stroke-width="0.25"/>
<circle cx="97.9" cy="80.1" r="2.45" fill="url(#sph)" stroke="#7a7a8a" stroke-width="0.25"/>
<circle cx="129.6" cy="80.3" r="2.45" fill="url(#sph)" stroke="#7a7a8a" stroke-width="0.25"/>
<circle cx="111.7" cy="80.4" r="2.45" fill="url(#sph)" stroke="#7a7a8a" stroke-width="0.25"/>
<circle cx="134.6" cy="80.6" r="2.45" fill="url(#sph)" stroke="#7a7a8a" stroke-width="0.25"/>
<circle cx="103.1" cy="80.8" r="2.45" fill="url(#sph)" stroke="#7a7a8a" stroke-width="0.25"/>
<circle cx="125.5" cy="81.0" r="2.45" fill="url(#sph)" stroke="#7a7a8a" stroke-width="0.25"/>
<circle cx="121.7" cy="81.4" r="2.45" fill="url(#sph)" stroke="#7a7a8a" stroke-width="0.25"/>
<circle cx="117.1" cy="83.2" r="2.45" fill="url(#sph)" stroke="#7a7a8a" stroke-width="0.25"/>
<circle cx="106.7" cy="83.2" r="2.45" fill="url(#sph)" stroke="#7a7a8a" stroke-width="0.25"/>
<circle cx="127.8" cy="84.0" r="2.45" fill="url(#sph)" stroke="#7a7a8a" stroke-width="0.25"/>
<circle cx="113.6" cy="84.6" r="2.45" fill="url(#sph)" stroke="#7a7a8a" stroke-width="0.25"/>
<circle cx="98.3" cy="84.6" r="2.45" fill="url(#sph)" stroke="#7a7a8a" stroke-width="0.25"/>
<circle cx="109.9" cy="85.3" r="2.45" fill="url(#sph)" stroke="#7a7a8a" stroke-width="0.25"/>
<circle cx="121.5" cy="85.3" r="2.45" fill="url(#sph)" stroke="#7a7a8a" stroke-width="0.25"/>
<circle cx="103.2" cy="85.3" r="2.45" fill="url(#sph)" stroke="#7a7a8a" stroke-width="0.25"/>
<circle cx="131.5" cy="85.7" r="2.45" fill="url(#sph)" stroke="#7a7a8a" stroke-width="0.25"/>
<circle cx="125.3" cy="87.7" r="2.45" fill="url(#sph)" stroke="#7a7a8a" stroke-width="0.25"/>
<circle cx="116.0" cy="87.8" r="2.45" fill="url(#sph)" stroke="#7a7a8a" stroke-width="0.25"/>
<circle cx="101.1" cy="89.0" r="2.45" fill="url(#sph)" stroke="#7a7a8a" stroke-width="0.25"/>
<circle cx="121.8" cy="89.6" r="2.45" fill="url(#sph)" stroke="#7a7a8a" stroke-width="0.25"/>
<circle cx="105.6" cy="89.7" r="2.45" fill="url(#sph)" stroke="#7a7a8a" stroke-width="0.25"/>
<circle cx="111.4" cy="90.2" r="2.45" fill="url(#sph)" stroke="#7a7a8a" stroke-width="0.25"/>
<circle cx="118.2" cy="91.1" r="2.45" fill="url(#sph)" stroke="#7a7a8a" stroke-width="0.25"/>
<circle cx="114.2" cy="93.1" r="2.45" fill="url(#sph)" stroke="#7a7a8a" stroke-width="0.25"/>
<circle cx="111.0" cy="95.4" r="2.45" fill="url(#sph)" stroke="#7a7a8a" stroke-width="0.25"/>
<circle cx="118.2" cy="95.6" r="2.45" fill="url(#sph)" stroke="#7a7a8a" stroke-width="0.25"/>
<g transform="translate(123.5,64.5) rotate(200)"><path d="M -2.6 0 A 2.6 2.6 0 0 0 2.6 0 L 1.6 0 A 1.6 1.6 0 0 1 -1.6 0 Z" fill="#3a2aa8"/></g>
<g transform="translate(131,69) rotate(210)"><path d="M -2.6 0 A 2.6 2.6 0 0 0 2.6 0 L 1.6 0 A 1.6 1.6 0 0 1 -1.6 0 Z" fill="#3a2aa8"/></g>
<g transform="translate(109.5,64) rotate(160)"><path d="M -2.6 0 A 2.6 2.6 0 0 0 2.6 0 L 1.6 0 A 1.6 1.6 0 0 1 -1.6 0 Z" fill="#3a2aa8"/></g>
<g transform="translate(136,76) rotate(230)"><path d="M -2.6 0 A 2.6 2.6 0 0 0 2.6 0 L 1.6 0 A 1.6 1.6 0 0 1 -1.6 0 Z" fill="#3a2aa8"/></g>
<text x="99.2" y="109.1" font-size="6.4" font-weight="bold" fill="#2a3a9a" text-anchor="start" textLength="36" lengthAdjust="spacingAndGlyphs" font-style="italic" stroke="#2a3a9a" stroke-width="0.25" >In vitro tumor</text>
<path d="M 163.8 15.4 L 168 15.1 C 169.8 13.8 170.8 11.4 172.4 11.2 C 174 11.4 175 13.8 176.8 15.1 L 181 15.4 Z" fill="#f4f4f4" stroke="#6a6a6a" stroke-width="0.85" stroke-linejoin="round"/>
<ellipse cx="172.4" cy="13.6" rx="1.5" ry="0.9" fill="#fff" stroke="#888" stroke-width="0.4"/>
<text x="181.1" y="15.9" font-size="5.0" font-weight="bold" fill="#333" text-anchor="start" textLength="54" lengthAdjust="spacingAndGlyphs" stroke="#333" stroke-width="0.1" >Neuroblastoma (SH-SY5Y)</text>
<g transform="translate(172.00,24.40) rotate(0.0)"><path d="M -8.00 0 C -4.00 -0.3 -3.20 -2.10 0 -2.10 C 3.20 -2.10 4.00 -0.3 8.00 0 C 4.00 0.3 3.20 2.10 0 2.10 C -3.20 2.10 -4.00 0.3 -8.00 0 Z" fill="#52239a"/><ellipse cx="0" cy="0" rx="1.3" ry="0.85" fill="#f4f0ff"/></g>
<text x="181.1" y="26.2" font-size="5.0" font-weight="bold" fill="#333" text-anchor="start" textLength="48.3" lengthAdjust="spacingAndGlyphs" stroke="#333" stroke-width="0.1" >Glioblastoma (U-87MG)</text>
<circle cx="180.5" cy="59.5" r="19.5" fill="#2e1a78"/>
<circle cx="174.1" cy="40.8" r="2.3" fill="#46299c" stroke="#24125e" stroke-width="0.6"/>
<circle cx="174.1" cy="40.8" r="0.9" fill="#b8b4dc"/>
<circle cx="178.3" cy="40.8" r="2.3" fill="#46299c" stroke="#24125e" stroke-width="0.6"/>
<circle cx="178.3" cy="40.8" r="0.9" fill="#b8b4dc"/>
<circle cx="182.7" cy="40.8" r="2.3" fill="#46299c" stroke="#24125e" stroke-width="0.6"/>
<circle cx="182.7" cy="40.8" r="0.9" fill="#b8b4dc"/>
<circle cx="167.6" cy="44.5" r="2.3" fill="#46299c" stroke="#24125e" stroke-width="0.6"/>
<circle cx="167.6" cy="44.5" r="0.9" fill="#b8b4dc"/>
<circle cx="171.9" cy="44.5" r="2.3" fill="#46299c" stroke="#24125e" stroke-width="0.6"/>
<circle cx="171.9" cy="44.5" r="0.9" fill="#b8b4dc"/>
<circle cx="176.2" cy="44.5" r="2.3" fill="#46299c" stroke="#24125e" stroke-width="0.6"/>
<circle cx="176.2" cy="44.5" r="0.9" fill="#b8b4dc"/>
<circle cx="180.5" cy="44.5" r="2.3" fill="#46299c" stroke="#24125e" stroke-width="0.6"/>
<circle cx="180.5" cy="44.5" r="0.9" fill="#b8b4dc"/>
<circle cx="184.8" cy="44.5" r="2.3" fill="#46299c" stroke="#24125e" stroke-width="0.6"/>
<circle cx="184.8" cy="44.5" r="0.9" fill="#b8b4dc"/>
<circle cx="189.1" cy="44.5" r="2.3" fill="#46299c" stroke="#24125e" stroke-width="0.6"/>
<circle cx="189.1" cy="44.5" r="0.9" fill="#b8b4dc"/>
<circle cx="165.5" cy="48.2" r="2.3" fill="#46299c" stroke="#24125e" stroke-width="0.6"/>
<circle cx="165.5" cy="48.2" r="0.9" fill="#b8b4dc"/>
<circle cx="169.8" cy="48.2" r="2.3" fill="#46299c" stroke="#24125e" stroke-width="0.6"/>
<circle cx="169.8" cy="48.2" r="0.9" fill="#b8b4dc"/>
<circle cx="174.1" cy="48.2" r="2.3" fill="#46299c" stroke="#24125e" stroke-width="0.6"/>
<circle cx="174.1" cy="48.2" r="0.9" fill="#b8b4dc"/>
<circle cx="178.3" cy="48.2" r="2.3" fill="#46299c" stroke="#24125e" stroke-width="0.6"/>
<circle cx="178.3" cy="48.2" r="0.9" fill="#b8b4dc"/>
<circle cx="182.7" cy="48.2" r="2.3" fill="#46299c" stroke="#24125e" stroke-width="0.6"/>
<circle cx="182.7" cy="48.2" r="0.9" fill="#b8b4dc"/>
<circle cx="187.0" cy="48.2" r="2.3" fill="#46299c" stroke="#24125e" stroke-width="0.6"/>
<circle cx="187.0" cy="48.2" r="0.9" fill="#b8b4dc"/>
<circle cx="191.2" cy="48.2" r="2.3" fill="#46299c" stroke="#24125e" stroke-width="0.6"/>
<circle cx="191.2" cy="48.2" r="0.9" fill="#b8b4dc"/>
<circle cx="195.6" cy="48.2" r="2.3" fill="#46299c" stroke="#24125e" stroke-width="0.6"/>
<circle cx="195.6" cy="48.2" r="0.9" fill="#b8b4dc"/>
<circle cx="163.3" cy="52.0" r="2.3" fill="#46299c" stroke="#24125e" stroke-width="0.6"/>
<circle cx="163.3" cy="52.0" r="0.9" fill="#b8b4dc"/>
<circle cx="167.6" cy="52.0" r="2.3" fill="#46299c" stroke="#24125e" stroke-width="0.6"/>
<circle cx="167.6" cy="52.0" r="0.9" fill="#b8b4dc"/>
<circle cx="171.9" cy="52.0" r="2.3" fill="#46299c" stroke="#24125e" stroke-width="0.6"/>
<circle cx="171.9" cy="52.0" r="0.9" fill="#b8b4dc"/>
<circle cx="176.2" cy="52.0" r="2.3" fill="#46299c" stroke="#24125e" stroke-width="0.6"/>
<circle cx="176.2" cy="52.0" r="0.9" fill="#b8b4dc"/>
<circle cx="180.5" cy="52.0" r="2.3" fill="#46299c" stroke="#24125e" stroke-width="0.6"/>
<circle cx="180.5" cy="52.0" r="0.9" fill="#b8b4dc"/>
<circle cx="184.8" cy="52.0" r="2.3" fill="#46299c" stroke="#24125e" stroke-width="0.6"/>
<circle cx="184.8" cy="52.0" r="0.9" fill="#b8b4dc"/>
<circle cx="189.1" cy="52.0" r="2.3" fill="#46299c" stroke="#24125e" stroke-width="0.6"/>
<circle cx="189.1" cy="52.0" r="0.9" fill="#b8b4dc"/>
<circle cx="193.4" cy="52.0" r="2.3" fill="#46299c" stroke="#24125e" stroke-width="0.6"/>
<circle cx="193.4" cy="52.0" r="0.9" fill="#b8b4dc"/>
<circle cx="197.7" cy="52.0" r="2.3" fill="#46299c" stroke="#24125e" stroke-width="0.6"/>
<circle cx="197.7" cy="52.0" r="0.9" fill="#b8b4dc"/>
<circle cx="165.5" cy="55.8" r="2.3" fill="#46299c" stroke="#24125e" stroke-width="0.6"/>
<circle cx="165.5" cy="55.8" r="0.9" fill="#b8b4dc"/>
<circle cx="169.8" cy="55.8" r="2.3" fill="#46299c" stroke="#24125e" stroke-width="0.6"/>
<circle cx="169.8" cy="55.8" r="0.9" fill="#b8b4dc"/>
<circle cx="174.1" cy="55.8" r="2.3" fill="#46299c" stroke="#24125e" stroke-width="0.6"/>
<circle cx="174.1" cy="55.8" r="0.9" fill="#b8b4dc"/>
<circle cx="178.3" cy="55.8" r="2.3" fill="#46299c" stroke="#24125e" stroke-width="0.6"/>
<circle cx="178.3" cy="55.8" r="0.9" fill="#b8b4dc"/>
<circle cx="182.7" cy="55.8" r="2.3" fill="#46299c" stroke="#24125e" stroke-width="0.6"/>
<circle cx="182.7" cy="55.8" r="0.9" fill="#b8b4dc"/>
<circle cx="187.0" cy="55.8" r="2.3" fill="#46299c" stroke="#24125e" stroke-width="0.6"/>
<circle cx="187.0" cy="55.8" r="0.9" fill="#b8b4dc"/>
<circle cx="191.2" cy="55.8" r="2.3" fill="#46299c" stroke="#24125e" stroke-width="0.6"/>
<circle cx="191.2" cy="55.8" r="0.9" fill="#b8b4dc"/>
<circle cx="195.6" cy="55.8" r="2.3" fill="#46299c" stroke="#24125e" stroke-width="0.6"/>
<circle cx="195.6" cy="55.8" r="0.9" fill="#b8b4dc"/>
<circle cx="199.8" cy="55.8" r="2.3" fill="#46299c" stroke="#24125e" stroke-width="0.6"/>
<circle cx="199.8" cy="55.8" r="0.9" fill="#b8b4dc"/>
<circle cx="163.3" cy="59.5" r="2.3" fill="#46299c" stroke="#24125e" stroke-width="0.6"/>
<circle cx="163.3" cy="59.5" r="0.9" fill="#b8b4dc"/>
<circle cx="167.6" cy="59.5" r="2.3" fill="#46299c" stroke="#24125e" stroke-width="0.6"/>
<circle cx="167.6" cy="59.5" r="0.9" fill="#b8b4dc"/>
<circle cx="171.9" cy="59.5" r="2.3" fill="#46299c" stroke="#24125e" stroke-width="0.6"/>
<circle cx="171.9" cy="59.5" r="0.9" fill="#b8b4dc"/>
<circle cx="176.2" cy="59.5" r="2.3" fill="#46299c" stroke="#24125e" stroke-width="0.6"/>
<circle cx="176.2" cy="59.5" r="0.9" fill="#b8b4dc"/>
<circle cx="180.5" cy="59.5" r="2.3" fill="#46299c" stroke="#24125e" stroke-width="0.6"/>
<circle cx="180.5" cy="59.5" r="0.9" fill="#b8b4dc"/>
<circle cx="184.8" cy="59.5" r="2.3" fill="#46299c" stroke="#24125e" stroke-width="0.6"/>
<circle cx="184.8" cy="59.5" r="0.9" fill="#b8b4dc"/>
<circle cx="189.1" cy="59.5" r="2.3" fill="#46299c" stroke="#24125e" stroke-width="0.6"/>
<circle cx="189.1" cy="59.5" r="0.9" fill="#b8b4dc"/>
<circle cx="193.4" cy="59.5" r="2.3" fill="#46299c" stroke="#24125e" stroke-width="0.6"/>
<circle cx="193.4" cy="59.5" r="0.9" fill="#b8b4dc"/>
<circle cx="197.7" cy="59.5" r="2.3" fill="#46299c" stroke="#24125e" stroke-width="0.6"/>
<circle cx="197.7" cy="59.5" r="0.9" fill="#b8b4dc"/>
<circle cx="161.2" cy="63.2" r="2.3" fill="#46299c" stroke="#24125e" stroke-width="0.6"/>
<circle cx="161.2" cy="63.2" r="0.9" fill="#b8b4dc"/>
<circle cx="165.5" cy="63.2" r="2.3" fill="#46299c" stroke="#24125e" stroke-width="0.6"/>
<circle cx="165.5" cy="63.2" r="0.9" fill="#b8b4dc"/>
<circle cx="169.8" cy="63.2" r="2.3" fill="#46299c" stroke="#24125e" stroke-width="0.6"/>
<circle cx="169.8" cy="63.2" r="0.9" fill="#b8b4dc"/>
<circle cx="174.1" cy="63.2" r="2.3" fill="#46299c" stroke="#24125e" stroke-width="0.6"/>
<circle cx="174.1" cy="63.2" r="0.9" fill="#b8b4dc"/>
<circle cx="178.3" cy="63.2" r="2.3" fill="#46299c" stroke="#24125e" stroke-width="0.6"/>
<circle cx="178.3" cy="63.2" r="0.9" fill="#b8b4dc"/>
<circle cx="182.7" cy="63.2" r="2.3" fill="#46299c" stroke="#24125e" stroke-width="0.6"/>
<circle cx="182.7" cy="63.2" r="0.9" fill="#b8b4dc"/>
<circle cx="187.0" cy="63.2" r="2.3" fill="#46299c" stroke="#24125e" stroke-width="0.6"/>
<circle cx="187.0" cy="63.2" r="0.9" fill="#b8b4dc"/>
<circle cx="191.2" cy="63.2" r="2.3" fill="#46299c" stroke="#24125e" stroke-width="0.6"/>
<circle cx="191.2" cy="63.2" r="0.9" fill="#b8b4dc"/>
<circle cx="195.6" cy="63.2" r="2.3" fill="#46299c" stroke="#24125e" stroke-width="0.6"/>
<circle cx="195.6" cy="63.2" r="0.9" fill="#b8b4dc"/>
<circle cx="199.8" cy="63.2" r="2.3" fill="#46299c" stroke="#24125e" stroke-width="0.6"/>
<circle cx="199.8" cy="63.2" r="0.9" fill="#b8b4dc"/>
<circle cx="163.3" cy="67.0" r="2.3" fill="#46299c" stroke="#24125e" stroke-width="0.6"/>
<circle cx="163.3" cy="67.0" r="0.9" fill="#b8b4dc"/>
<circle cx="167.6" cy="67.0" r="2.3" fill="#46299c" stroke="#24125e" stroke-width="0.6"/>
<circle cx="167.6" cy="67.0" r="0.9" fill="#b8b4dc"/>
<circle cx="171.9" cy="67.0" r="2.3" fill="#46299c" stroke="#24125e" stroke-width="0.6"/>
<circle cx="171.9" cy="67.0" r="0.9" fill="#b8b4dc"/>
<circle cx="176.2" cy="67.0" r="2.3" fill="#46299c" stroke="#24125e" stroke-width="0.6"/>
<circle cx="176.2" cy="67.0" r="0.9" fill="#b8b4dc"/>
<circle cx="180.5" cy="67.0" r="2.3" fill="#46299c" stroke="#24125e" stroke-width="0.6"/>
<circle cx="180.5" cy="67.0" r="0.9" fill="#b8b4dc"/>
<circle cx="184.8" cy="67.0" r="2.3" fill="#46299c" stroke="#24125e" stroke-width="0.6"/>
<circle cx="184.8" cy="67.0" r="0.9" fill="#b8b4dc"/>
<circle cx="189.1" cy="67.0" r="2.3" fill="#46299c" stroke="#24125e" stroke-width="0.6"/>
<circle cx="189.1" cy="67.0" r="0.9" fill="#b8b4dc"/>
<circle cx="193.4" cy="67.0" r="2.3" fill="#46299c" stroke="#24125e" stroke-width="0.6"/>
<circle cx="193.4" cy="67.0" r="0.9" fill="#b8b4dc"/>
<circle cx="197.7" cy="67.0" r="2.3" fill="#46299c" stroke="#24125e" stroke-width="0.6"/>
<circle cx="197.7" cy="67.0" r="0.9" fill="#b8b4dc"/>
<circle cx="165.5" cy="70.8" r="2.3" fill="#46299c" stroke="#24125e" stroke-width="0.6"/>
<circle cx="165.5" cy="70.8" r="0.9" fill="#b8b4dc"/>
<circle cx="169.8" cy="70.8" r="2.3" fill="#46299c" stroke="#24125e" stroke-width="0.6"/>
<circle cx="169.8" cy="70.8" r="0.9" fill="#b8b4dc"/>
<circle cx="174.1" cy="70.8" r="2.3" fill="#46299c" stroke="#24125e" stroke-width="0.6"/>
<circle cx="174.1" cy="70.8" r="0.9" fill="#b8b4dc"/>
<circle cx="178.3" cy="70.8" r="2.3" fill="#46299c" stroke="#24125e" stroke-width="0.6"/>
<circle cx="178.3" cy="70.8" r="0.9" fill="#b8b4dc"/>
<circle cx="182.7" cy="70.8" r="2.3" fill="#46299c" stroke="#24125e" stroke-width="0.6"/>
<circle cx="182.7" cy="70.8" r="0.9" fill="#b8b4dc"/>
<circle cx="187.0" cy="70.8" r="2.3" fill="#46299c" stroke="#24125e" stroke-width="0.6"/>
<circle cx="187.0" cy="70.8" r="0.9" fill="#b8b4dc"/>
<circle cx="191.2" cy="70.8" r="2.3" fill="#46299c" stroke="#24125e" stroke-width="0.6"/>
<circle cx="191.2" cy="70.8" r="0.9" fill="#b8b4dc"/>
<circle cx="195.6" cy="70.8" r="2.3" fill="#46299c" stroke="#24125e" stroke-width="0.6"/>
<circle cx="195.6" cy="70.8" r="0.9" fill="#b8b4dc"/>
<circle cx="167.6" cy="74.5" r="2.3" fill="#46299c" stroke="#24125e" stroke-width="0.6"/>
<circle cx="167.6" cy="74.5" r="0.9" fill="#b8b4dc"/>
<circle cx="171.9" cy="74.5" r="2.3" fill="#46299c" stroke="#24125e" stroke-width="0.6"/>
<circle cx="171.9" cy="74.5" r="0.9" fill="#b8b4dc"/>
<circle cx="176.2" cy="74.5" r="2.3" fill="#46299c" stroke="#24125e" stroke-width="0.6"/>
<circle cx="176.2" cy="74.5" r="0.9" fill="#b8b4dc"/>
<circle cx="180.5" cy="74.5" r="2.3" fill="#46299c" stroke="#24125e" stroke-width="0.6"/>
<circle cx="180.5" cy="74.5" r="0.9" fill="#b8b4dc"/>
<circle cx="184.8" cy="74.5" r="2.3" fill="#46299c" stroke="#24125e" stroke-width="0.6"/>
<circle cx="184.8" cy="74.5" r="0.9" fill="#b8b4dc"/>
<circle cx="189.1" cy="74.5" r="2.3" fill="#46299c" stroke="#24125e" stroke-width="0.6"/>
<circle cx="189.1" cy="74.5" r="0.9" fill="#b8b4dc"/>
<circle cx="174.1" cy="78.2" r="2.3" fill="#46299c" stroke="#24125e" stroke-width="0.6"/>
<circle cx="174.1" cy="78.2" r="0.9" fill="#b8b4dc"/>
<circle cx="178.3" cy="78.2" r="2.3" fill="#46299c" stroke="#24125e" stroke-width="0.6"/>
<circle cx="178.3" cy="78.2" r="0.9" fill="#b8b4dc"/>
<circle cx="182.7" cy="78.2" r="2.3" fill="#46299c" stroke="#24125e" stroke-width="0.6"/>
<circle cx="182.7" cy="78.2" r="0.9" fill="#b8b4dc"/>
<circle cx="187.0" cy="78.2" r="2.3" fill="#46299c" stroke="#24125e" stroke-width="0.6"/>
<circle cx="187.0" cy="78.2" r="0.9" fill="#b8b4dc"/>
<circle cx="179.3" cy="45.0" r="1.8" fill="#b0b0b8" stroke="#8a8a98" stroke-width="0.3" opacity="0.9"/>
<circle cx="175.8" cy="68.1" r="1.8" fill="#b0b0b8" stroke="#8a8a98" stroke-width="0.3" opacity="0.9"/>
<circle cx="189.5" cy="50.9" r="1.7" fill="#b0b0b8" stroke="#8a8a98" stroke-width="0.3" opacity="0.9"/>
<circle cx="190.2" cy="49.3" r="1.6" fill="#b0b0b8" stroke="#8a8a98" stroke-width="0.3" opacity="0.9"/>
<circle cx="174.8" cy="65.8" r="1.5" fill="#b0b0b8" stroke="#8a8a98" stroke-width="0.3" opacity="0.9"/>
<circle cx="193.2" cy="63.9" r="1.9" fill="#b0b0b8" stroke="#8a8a98" stroke-width="0.3" opacity="0.9"/>
<circle cx="192.0" cy="49.1" r="1.3" fill="#b0b0b8" stroke="#8a8a98" stroke-width="0.3" opacity="0.9"/>
<circle cx="182.0" cy="46.4" r="1.4" fill="#b0b0b8" stroke="#8a8a98" stroke-width="0.3" opacity="0.9"/>
<circle cx="185.2" cy="54.3" r="1.7" fill="#b0b0b8" stroke="#8a8a98" stroke-width="0.3" opacity="0.9"/>
<circle cx="194.0" cy="60.2" r="1.4" fill="#b0b0b8" stroke="#8a8a98" stroke-width="0.3" opacity="0.9"/>
<circle cx="184.5" cy="70.6" r="1.4" fill="#b0b0b8" stroke="#8a8a98" stroke-width="0.3" opacity="0.9"/>
<circle cx="172.5" cy="48.4" r="1.2" fill="#b0b0b8" stroke="#8a8a98" stroke-width="0.3" opacity="0.9"/>
<circle cx="190.9" cy="58.6" r="1.6" fill="#b0b0b8" stroke="#8a8a98" stroke-width="0.3" opacity="0.9"/>
<circle cx="184.8" cy="64.0" r="1.8" fill="#b0b0b8" stroke="#8a8a98" stroke-width="0.3" opacity="0.9"/>
<circle cx="177.8" cy="49.5" r="1.8" fill="#b0b0b8" stroke="#8a8a98" stroke-width="0.3" opacity="0.9"/>
<circle cx="177.5" cy="69.0" r="1.2" fill="#b0b0b8" stroke="#8a8a98" stroke-width="0.3" opacity="0.9"/>
<circle cx="171.2" cy="63.8" r="1.8" fill="#b0b0b8" stroke="#8a8a98" stroke-width="0.3" opacity="0.9"/>
<circle cx="189.6" cy="51.5" r="1.5" fill="#b0b0b8" stroke="#8a8a98" stroke-width="0.3" opacity="0.9"/>
<circle cx="180.8" cy="63.1" r="1.4" fill="#b0b0b8" stroke="#8a8a98" stroke-width="0.3" opacity="0.9"/>
<circle cx="189.9" cy="46.0" r="1.6" fill="#b0b0b8" stroke="#8a8a98" stroke-width="0.3" opacity="0.9"/>
<circle cx="190.3" cy="55.5" r="1.2" fill="#b0b0b8" stroke="#8a8a98" stroke-width="0.3" opacity="0.9"/>
<circle cx="175.8" cy="60.4" r="1.2" fill="#b0b0b8" stroke="#8a8a98" stroke-width="0.3" opacity="0.9"/>
<circle cx="173.2" cy="64.2" r="1.4" fill="#b0b0b8" stroke="#8a8a98" stroke-width="0.3" opacity="0.9"/>
<circle cx="177.7" cy="70.8" r="1.9" fill="#b0b0b8" stroke="#8a8a98" stroke-width="0.3" opacity="0.9"/>
<circle cx="179.2" cy="59.2" r="1.0" fill="#b0b0b8" stroke="#8a8a98" stroke-width="0.3" opacity="0.9"/>
<circle cx="185.1" cy="55.8" r="1.6" fill="#b0b0b8" stroke="#8a8a98" stroke-width="0.3" opacity="0.9"/>
<circle cx="175.7" cy="54.4" r="1.7" fill="#b0b0b8" stroke="#8a8a98" stroke-width="0.3" opacity="0.9"/>
<circle cx="188.3" cy="58.7" r="1.4" fill="#b0b0b8" stroke="#8a8a98" stroke-width="0.3" opacity="0.9"/>
<circle cx="196.0" cy="60.1" r="1.2" fill="#b0b0b8" stroke="#8a8a98" stroke-width="0.3" opacity="0.9"/>
<circle cx="185.0" cy="60.6" r="1.6" fill="#b0b0b8" stroke="#8a8a98" stroke-width="0.3" opacity="0.9"/>
<circle cx="172.1" cy="62.0" r="1.6" fill="#b0b0b8" stroke="#8a8a98" stroke-width="0.3" opacity="0.9"/>
<circle cx="188.0" cy="44.1" r="1.6" fill="#b0b0b8" stroke="#8a8a98" stroke-width="0.3" opacity="0.9"/>
<circle cx="186.1" cy="68.0" r="1.2" fill="#b0b0b8" stroke="#8a8a98" stroke-width="0.3" opacity="0.9"/>
<circle cx="192.9" cy="58.7" r="1.6" fill="#b0b0b8" stroke="#8a8a98" stroke-width="0.3" opacity="0.9"/>
<circle cx="186.3" cy="65.2" r="1.3" fill="#b0b0b8" stroke="#8a8a98" stroke-width="0.3" opacity="0.9"/>
<circle cx="179.6" cy="47.6" r="1.6" fill="#b0b0b8" stroke="#8a8a98" stroke-width="0.3" opacity="0.9"/>
<circle cx="183.4" cy="48.5" r="1.7" fill="#b0b0b8" stroke="#8a8a98" stroke-width="0.3" opacity="0.9"/>
<circle cx="186.6" cy="55.5" r="1.8" fill="#b0b0b8" stroke="#8a8a98" stroke-width="0.3" opacity="0.9"/>
<circle cx="182.1" cy="52.6" r="1.4" fill="#b0b0b8" stroke="#8a8a98" stroke-width="0.3" opacity="0.9"/>
<circle cx="173.3" cy="47.7" r="1.3" fill="#b0b0b8" stroke="#8a8a98" stroke-width="0.3" opacity="0.9"/>
<circle cx="170.7" cy="52.0" r="1.7" fill="#b0b0b8" stroke="#8a8a98" stroke-width="0.3" opacity="0.9"/>
<circle cx="192.3" cy="54.4" r="1.6" fill="#b0b0b8" stroke="#8a8a98" stroke-width="0.3" opacity="0.9"/>
<circle cx="186.4" cy="70.4" r="1.7" fill="#b0b0b8" stroke="#8a8a98" stroke-width="0.3" opacity="0.9"/>
<circle cx="175.3" cy="48.0" r="1.2" fill="#b0b0b8" stroke="#8a8a98" stroke-width="0.3" opacity="0.9"/>
<circle cx="194.6" cy="49.1" r="1.9" fill="#b0b0b8" stroke="#8a8a98" stroke-width="0.3" opacity="0.9"/>
<circle cx="170.5" cy="54.9" r="1.3" fill="#b0b0b8" stroke="#8a8a98" stroke-width="0.3" opacity="0.9"/>
<circle cx="194.3" cy="50.5" r="1.3" fill="#b0b0b8" stroke="#8a8a98" stroke-width="0.3" opacity="0.9"/>
<circle cx="191.4" cy="63.0" r="1.5" fill="#b0b0b8" stroke="#8a8a98" stroke-width="0.3" opacity="0.9"/>
<path d="M 160 51 C 165 49 170 46 175 47.5 C 180 49 186 44 191 45 C 195 46 198 44 201 45" fill="none" stroke="#e8603c" stroke-width="0.8"/>
<path d="M 159.5 63 C 164 61 168 62 172 60 C 176 57 180 59 183 56 C 187 53 191 57 196 55 C 198 54 200 56 201.5 56" fill="none" stroke="#e8603c" stroke-width="0.8"/>
<path d="M 163 73 C 168 70 173 72 178 70 C 183 68 186 71 190 68 C 194 66 197 69 200 67" fill="none" stroke="#e8603c" stroke-width="0.8"/>
<path d="M 172 40 C 174 46 171 51 173 56 C 175 60 172 64 174 68" fill="none" stroke="#e8603c" stroke-width="0.8"/>
<path d="M 189 41 C 188 46 190 50 188 55" fill="none" stroke="#e8603c" stroke-width="0.8"/>
<path d="M 183 56 C 183 62 186 66 184 71 C 183 75 185 78 184 81" fill="none" stroke="#e8603c" stroke-width="0.8"/>
<path d="M 205.8 50 C 209 60 205 73 193 84.5 L 199.5 90 C 212.5 80.5 219 64 216.8 50 Z" fill="url(#vessel)"/>
<path d="M 209 54 C 211 63 207.5 74 198 83.5" fill="none" stroke="#f4a088" stroke-width="2.2" opacity="0.55"/>
<ellipse cx="211.5" cy="49.8" rx="5" ry="2.4" transform="rotate(-12 211.5 49.8)" fill="#e83a28" stroke="#a01010" stroke-width="0.6"/>
<ellipse cx="211.5" cy="49.8" rx="3" ry="1.2" transform="rotate(-12 211.5 49.8)" fill="#7a0a0a"/>
<ellipse cx="210" cy="63" rx="1.5" ry="1.1" fill="#3a3aa0"/>
<ellipse cx="208.5" cy="69.5" rx="1.5" ry="1.1" fill="#ffffff"/>
<ellipse cx="205" cy="75" rx="1.5" ry="1.1" fill="#3a3aa0"/>
<ellipse cx="210.5" cy="57.5" rx="1.5" ry="1.1" fill="#ffffff"/>
<ellipse cx="201" cy="80" rx="1.5" ry="1.1" fill="#ffffff"/>
<ellipse cx="207" cy="66" rx="1.5" ry="1.1" fill="#6a5ac0"/>
<path d="M 226 70 C 217 70 210 76 210 84 C 210 89 212 93 214 96 C 215 100 215 105 215.2 110 L 241 110 L 240.8 108.3 C 238.5 107 238 106 240.5 105 C 243 104.6 243.5 102.5 242.5 101 C 244 100.5 244 99.5 243 98.5 C 244.5 97.8 246 96.5 246 95.4 C 245 93.5 243 91 242.3 87.5 C 241.5 76 236 70 226 70 Z" fill="#141414"/>
<path d="M 211.5 83 C 211.5 75.5 218 71.5 226 71.5 C 234 71.5 240 76.5 240.5 84 C 240.5 88 237.5 92 232 93.5 C 226 95 218 94.5 214 91.5 C 212 89 211.5 86 211.5 83 Z" fill="#5a5a5a"/>
<path d="M 213 81 C 217 77 221 79 225 75 C 229 73 234 76 238.5 79" fill="none" stroke="#b0b0b0" stroke-width="0.6"/>
<path d="M 213.5 87 C 219 84 223 88 229 84 C 233 82 236 86 239.5 86" fill="none" stroke="#b0b0b0" stroke-width="0.6"/>
<path d="M 217 91.5 C 222 88.5 228 92.5 235 89.5" fill="none" stroke="#b0b0b0" stroke-width="0.6"/>
<path d="M 220 73 C 221.5 78 219.5 82 222.5 86" fill="none" stroke="#b0b0b0" stroke-width="0.6"/>
<path d="M 231 73 C 230 78 233 82 231 88" fill="none" stroke="#b0b0b0" stroke-width="0.6"/>
<path d="M 214 84 C 216 82 219 83 221 81" fill="none" stroke="#b0b0b0" stroke-width="0.6"/>
<path d="M 218 82 C 220 76 230 75 235 79 C 238 84 234 89 226 89 C 220 89 217 86 218 82 Z" fill="none" stroke="#e02020" stroke-width="0.9" stroke-dasharray="1.4 1"/>
<path d="M 216.6 46.5 L 228.7 73.6" stroke="#e02a2a" stroke-width="0.9" stroke-dasharray="1.5 1.1"/>
<path d="M 198.4 91.8 L 220.3 80.9" stroke="#e02a2a" stroke-width="0.9" stroke-dasharray="1.5 1.1"/>
<text x="203.3" y="42.7" font-size="6.0" font-weight="bold" fill="#2a3a9a" text-anchor="start" textLength="35.1" lengthAdjust="spacingAndGlyphs" font-style="italic" stroke="#2a3a9a" stroke-width="0.25" >In vivo tumor</text>
<text x="156" y="91.2" font-size="5.8" font-weight="bold" fill="#e02020" text-anchor="start" textLength="16.3" lengthAdjust="spacingAndGlyphs" stroke="#e02020" stroke-width="0.18" >Mimic</text>
<text x="6.2" y="136.1" font-size="13" font-weight="bold" fill="#000" text-anchor="start" stroke="#000" stroke-width="0.18" >B</text>
<path d="M 34.2 134.3 L 34.2 205.2 L 123.8 205.2" fill="none" stroke="#333" stroke-width="0.6"/>
<line x1="33.0" y1="198.8" x2="34.2" y2="198.8" stroke="#333" stroke-width="0.5"/>
<text x="32.0" y="199.9" font-size="3.2" font-weight="bold" fill="#444" text-anchor="end" stroke="#444" stroke-width="0.18" >0</text>
<line x1="33.0" y1="184.9" x2="34.2" y2="184.9" stroke="#333" stroke-width="0.5"/>
<text x="32.0" y="186.0" font-size="3.2" font-weight="bold" fill="#444" text-anchor="end" stroke="#444" stroke-width="0.18" >5</text>
<line x1="33.0" y1="171.0" x2="34.2" y2="171.0" stroke="#333" stroke-width="0.5"/>
<text x="32.0" y="172.1" font-size="3.2" font-weight="bold" fill="#444" text-anchor="end" stroke="#444" stroke-width="0.18" >10</text>
<line x1="33.0" y1="157.1" x2="34.2" y2="157.1" stroke="#333" stroke-width="0.5"/>
<text x="32.0" y="158.20000000000002" font-size="3.2" font-weight="bold" fill="#444" text-anchor="end" stroke="#444" stroke-width="0.18" >15</text>
<line x1="33.0" y1="143.2" x2="34.2" y2="143.2" stroke="#333" stroke-width="0.5"/>
<text x="32.0" y="144.3" font-size="3.2" font-weight="bold" fill="#444" text-anchor="end" stroke="#444" stroke-width="0.18" >20</text>
<line x1="34.9" y1="205.2" x2="34.9" y2="206.29999999999998" stroke="#333" stroke-width="0.5"/>
<text x="34.9" y="209.2" font-size="3.0" font-weight="bold" fill="#444" text-anchor="middle" stroke="#444" stroke-width="0.18" >-0.3</text>
<line x1="52.7" y1="205.2" x2="52.7" y2="206.29999999999998" stroke="#333" stroke-width="0.5"/>
<text x="52.7" y="209.2" font-size="3.0" font-weight="bold" fill="#444" text-anchor="middle" stroke="#444" stroke-width="0.18" >-0.2</text>
<line x1="70.2" y1="205.2" x2="70.2" y2="206.29999999999998" stroke="#333" stroke-width="0.5"/>
<text x="70.2" y="209.2" font-size="3.0" font-weight="bold" fill="#444" text-anchor="middle" stroke="#444" stroke-width="0.18" >-0.1</text>
<line x1="88.0" y1="205.2" x2="88.0" y2="206.29999999999998" stroke="#333" stroke-width="0.5"/>
<text x="88.0" y="209.2" font-size="3.0" font-weight="bold" fill="#444" text-anchor="middle" stroke="#444" stroke-width="0.18" >0.0</text>
<line x1="105.8" y1="205.2" x2="105.8" y2="206.29999999999998" stroke="#333" stroke-width="0.5"/>
<text x="105.8" y="209.2" font-size="3.0" font-weight="bold" fill="#444" text-anchor="middle" stroke="#444" stroke-width="0.18" >0.1</text>
<line x1="122.8" y1="205.2" x2="122.8" y2="206.29999999999998" stroke="#333" stroke-width="0.5"/>
<text x="122.8" y="209.2" font-size="3.0" font-weight="bold" fill="#444" text-anchor="middle" stroke="#444" stroke-width="0.18" >0.2</text>
<text x="65.3" y="216.4" font-size="4.8" font-weight="bold" fill="#222" text-anchor="start" textLength="26.7" lengthAdjust="spacingAndGlyphs" stroke="#222" stroke-width="0.18" >E/V vs Ag/AgCl</text>
<text x="27.9" y="173.8" font-size="4.6" font-weight="bold" fill="#222" text-anchor="start" textLength="6.4" lengthAdjust="spacingAndGlyphs" stroke="#222" stroke-width="0.18" transform="rotate(-90 27.9 173.8)">I/μA</text>
<polyline points="34.2,196.30 34.8,196.42 35.4,196.54 36.0,196.65 36.6,196.76 37.2,196.87 37.8,196.98 38.4,197.09 39.0,197.19 39.6,197.29 40.2,197.39 40.8,197.48 41.4,197.58 42.0,197.67 42.6,197.75 43.2,197.84 43.8,197.92 44.4,198.00 45.0,198.08 45.6,198.15 46.2,198.22 46.8,198.29 47.4,198.35 48.0,198.42 48.6,198.47 49.2,198.53 49.8,198.58 50.4,198.62 51.0,198.66 51.6,198.70 52.2,198.73 52.8,198.76 53.4,198.78 54.0,198.79 54.6,198.79 55.2,198.79 55.8,198.79 56.4,198.78 57.0,198.78 57.6,198.78 58.2,198.77 58.8,198.77 59.4,198.76 60.0,198.76 60.6,198.75 61.2,198.74 61.8,198.73 62.4,198.72 63.0,198.71 63.6,198.70 64.2,198.68 64.8,198.67 65.4,198.65 66.0,198.63 66.6,198.61 67.2,198.59 67.8,198.56 68.4,198.54 69.0,198.51 69.6,198.48 70.2,198.45 70.8,198.42 71.4,198.39 72.0,198.35 72.6,198.32 73.2,198.28 73.8,198.24 74.4,198.21 75.0,198.17 75.6,198.13 76.2,198.09 76.8,198.06 77.4,198.02 78.0,197.99 78.6,197.96 79.2,197.93 79.8,197.90 80.4,197.88 81.0,197.86 81.6,197.84 82.2,197.82 82.8,197.81 83.4,197.80 84.0,197.80 84.6,197.80 85.2,197.80 85.8,197.81 86.4,197.82 87.0,197.84 87.6,197.86 88.2,197.88 88.8,197.90 89.4,197.93 90.0,197.96 90.6,197.99 91.2,198.02 91.8,198.06 92.4,198.09 93.0,198.13 93.6,198.17 94.2,198.21 94.8,198.24 95.4,198.28 96.0,198.32 96.6,198.35 97.2,198.39 97.8,198.42 98.4,198.45 99.0,198.48 99.6,198.51 100.2,198.54 100.8,198.56 101.4,198.59 102.0,198.61 102.6,198.63 103.2,198.65 103.8,198.67 104.4,198.68 105.0,198.70 105.6,198.71 106.2,198.72 106.8,198.73 107.4,198.74 108.0,198.75 108.6,198.76 109.2,198.76 109.8,198.77 110.4,198.77 111.0,198.78 111.6,198.78 112.2,198.78 112.8,198.79 113.4,198.79 114.0,198.79 114.6,198.79 115.2,198.79 115.8,198.79 116.4,198.80 117.0,198.80 117.6,198.80 118.2,198.80 118.8,198.80 119.4,198.80 120.0,198.80 120.6,198.80 121.2,198.80 121.8,198.80 122.4,198.80 123.0,198.80 123.6,198.80" fill="none" stroke="#f09040" stroke-width="0.85"/>
<polyline points="34.2,184.80 34.8,185.47 35.4,186.12 36.0,186.76 36.6,187.39 37.2,188.01 37.8,188.61 38.4,189.20 39.0,189.78 39.6,190.34 40.2,190.89 40.8,191.42 41.4,191.94 42.0,192.45 42.6,192.94 43.2,193.42 43.8,193.88 44.4,194.33 45.0,194.76 45.6,195.17 46.2,195.57 46.8,195.95 47.4,196.31 48.0,196.65 48.6,196.97 49.2,197.27 49.8,197.55 50.4,197.81 51.0,198.05 51.6,198.26 52.2,198.44 52.8,198.59 53.4,198.70 54.0,198.77 54.6,198.77 55.2,198.77 55.8,198.76 56.4,198.76 57.0,198.75 57.6,198.74 58.2,198.73 58.8,198.71 59.4,198.70 60.0,198.68 60.6,198.66 61.2,198.64 61.8,198.61 62.4,198.58 63.0,198.55 63.6,198.51 64.2,198.47 64.8,198.43 65.4,198.38 66.0,198.33 66.6,198.27 67.2,198.21 67.8,198.14 68.4,198.07 69.0,197.99 69.6,197.91 70.2,197.83 70.8,197.74 71.4,197.64 72.0,197.55 72.6,197.45 73.2,197.35 73.8,197.24 74.4,197.14 75.0,197.03 75.6,196.93 76.2,196.82 76.8,196.72 77.4,196.63 78.0,196.53 78.6,196.44 79.2,196.36 79.8,196.29 80.4,196.22 81.0,196.16 81.6,196.11 82.2,196.06 82.8,196.03 83.4,196.01 84.0,196.00 84.6,196.00 85.2,196.01 85.8,196.03 86.4,196.06 87.0,196.11 87.6,196.16 88.2,196.22 88.8,196.29 89.4,196.36 90.0,196.44 90.6,196.53 91.2,196.63 91.8,196.72 92.4,196.82 93.0,196.93 93.6,197.03 94.2,197.14 94.8,197.24 95.4,197.35 96.0,197.45 96.6,197.55 97.2,197.64 97.8,197.74 98.4,197.83 99.0,197.91 99.6,197.99 100.2,198.07 100.8,198.14 101.4,198.21 102.0,198.27 102.6,198.33 103.2,198.38 103.8,198.43 104.4,198.47 105.0,198.51 105.6,198.55 106.2,198.58 106.8,198.61 107.4,198.64 108.0,198.66 108.6,198.68 109.2,198.70 109.8,198.71 110.4,198.73 111.0,198.74 111.6,198.75 112.2,198.76 112.8,198.76 113.4,198.77 114.0,198.77 114.6,198.78 115.2,198.78 115.8,198.79 116.4,198.79 117.0,198.79 117.6,198.79 118.2,198.79 118.8,198.79 119.4,198.80 120.0,198.80 120.6,198.80 121.2,198.80 121.8,198.80 122.4,198.80 123.0,198.80 123.6,198.80" fill="none" stroke="#90c4e8" stroke-width="0.85"/>
<polyline points="34.2,187.80 34.8,188.32 35.4,188.84 36.0,189.34 36.6,189.83 37.2,190.32 37.8,190.79 38.4,191.26 39.0,191.71 39.6,192.15 40.2,192.58 40.8,193.00 41.4,193.41 42.0,193.81 42.6,194.20 43.2,194.57 43.8,194.94 44.4,195.29 45.0,195.62 45.6,195.95 46.2,196.26 46.8,196.56 47.4,196.84 48.0,197.11 48.6,197.36 49.2,197.59 49.8,197.81 50.4,198.01 51.0,198.20 51.6,198.36 52.2,198.50 52.8,198.61 53.4,198.70 54.0,198.75 54.6,198.74 55.2,198.73 55.8,198.72 56.4,198.70 57.0,198.68 57.6,198.66 58.2,198.64 58.8,198.61 59.4,198.57 60.0,198.54 60.6,198.49 61.2,198.44 61.8,198.39 62.4,198.32 63.0,198.25 63.6,198.17 64.2,198.09 64.8,197.99 65.4,197.89 66.0,197.77 66.6,197.65 67.2,197.51 67.8,197.36 68.4,197.21 69.0,197.04 69.6,196.87 70.2,196.68 70.8,196.48 71.4,196.28 72.0,196.07 72.6,195.85 73.2,195.63 73.8,195.40 74.4,195.18 75.0,194.95 75.6,194.72 76.2,194.50 76.8,194.28 77.4,194.06 78.0,193.86 78.6,193.67 79.2,193.49 79.8,193.32 80.4,193.17 81.0,193.04 81.6,192.93 82.2,192.84 82.8,192.77 83.4,192.73 84.0,192.70 84.6,192.70 85.2,192.73 85.8,192.77 86.4,192.84 87.0,192.93 87.6,193.04 88.2,193.17 88.8,193.32 89.4,193.49 90.0,193.67 90.6,193.86 91.2,194.06 91.8,194.28 92.4,194.50 93.0,194.72 93.6,194.95 94.2,195.18 94.8,195.40 95.4,195.63 96.0,195.85 96.6,196.07 97.2,196.28 97.8,196.48 98.4,196.68 99.0,196.87 99.6,197.04 100.2,197.21 100.8,197.36 101.4,197.51 102.0,197.65 102.6,197.77 103.2,197.89 103.8,197.99 104.4,198.09 105.0,198.17 105.6,198.25 106.2,198.32 106.8,198.39 107.4,198.44 108.0,198.49 108.6,198.54 109.2,198.57 109.8,198.61 110.4,198.64 111.0,198.66 111.6,198.68 112.2,198.70 112.8,198.72 113.4,198.73 114.0,198.74 114.6,198.75 115.2,198.76 115.8,198.77 116.4,198.77 117.0,198.78 117.6,198.78 118.2,198.79 118.8,198.79 119.4,198.79 120.0,198.79 120.6,198.79 121.2,198.80 121.8,198.80 122.4,198.80 123.0,198.80 123.6,198.80" fill="none" stroke="#f08098" stroke-width="0.85"/>
<polyline points="34.2,182.80 34.8,183.56 35.4,184.31 36.0,185.04 36.6,185.76 37.2,186.46 37.8,187.15 38.4,187.83 39.0,188.49 39.6,189.13 40.2,189.76 40.8,190.37 41.4,190.96 42.0,191.54 42.6,192.11 43.2,192.65 43.8,193.18 44.4,193.69 45.0,194.18 45.6,194.65 46.2,195.10 46.8,195.53 47.4,195.95 48.0,196.33 48.6,196.70 49.2,197.04 49.8,197.36 50.4,197.66 51.0,197.92 51.6,198.15 52.2,198.36 52.8,198.52 53.4,198.64 54.0,198.71 54.6,198.71 55.2,198.69 55.8,198.67 56.4,198.64 57.0,198.61 57.6,198.57 58.2,198.53 58.8,198.48 59.4,198.43 60.0,198.36 60.6,198.29 61.2,198.21 61.8,198.11 62.4,198.01 63.0,197.89 63.6,197.76 64.2,197.62 64.8,197.46 65.4,197.29 66.0,197.10 66.6,196.89 67.2,196.66 67.8,196.42 68.4,196.16 69.0,195.89 69.6,195.60 70.2,195.29 70.8,194.97 71.4,194.63 72.0,194.28 72.6,193.92 73.2,193.55 73.8,193.18 74.4,192.80 75.0,192.42 75.6,192.04 76.2,191.67 76.8,191.31 77.4,190.96 78.0,190.62 78.6,190.30 79.2,190.00 79.8,189.73 80.4,189.48 81.0,189.27 81.6,189.08 82.2,188.93 82.8,188.82 83.4,188.74 84.0,188.70 84.6,188.70 85.2,188.74 85.8,188.82 86.4,188.93 87.0,189.08 87.6,189.27 88.2,189.48 88.8,189.73 89.4,190.00 90.0,190.30 90.6,190.62 91.2,190.96 91.8,191.31 92.4,191.67 93.0,192.04 93.6,192.42 94.2,192.80 94.8,193.18 95.4,193.55 96.0,193.92 96.6,194.28 97.2,194.63 97.8,194.97 98.4,195.29 99.0,195.60 99.6,195.89 100.2,196.16 100.8,196.42 101.4,196.66 102.0,196.89 102.6,197.10 103.2,197.29 103.8,197.46 104.4,197.62 105.0,197.76 105.6,197.89 106.2,198.01 106.8,198.11 107.4,198.21 108.0,198.29 108.6,198.36 109.2,198.43 109.8,198.48 110.4,198.53 111.0,198.57 111.6,198.61 112.2,198.64 112.8,198.67 113.4,198.69 114.0,198.71 114.6,198.72 115.2,198.74 115.8,198.75 116.4,198.76 117.0,198.77 117.6,198.77 118.2,198.78 118.8,198.78 119.4,198.79 120.0,198.79 120.6,198.79 121.2,198.79 121.8,198.79 122.4,198.80 123.0,198.80 123.6,198.80" fill="none" stroke="#c4bcd6" stroke-width="0.85"/>
<polyline points="34.2,185.80 34.8,186.42 35.4,187.03 36.0,187.62 36.6,188.20 37.2,188.78 37.8,189.34 38.4,189.88 39.0,190.42 39.6,190.94 40.2,191.45 40.8,191.95 41.4,192.43 42.0,192.90 42.6,193.36 43.2,193.80 43.8,194.23 44.4,194.65 45.0,195.04 45.6,195.43 46.2,195.79 46.8,196.14 47.4,196.48 48.0,196.79 48.6,197.09 49.2,197.37 49.8,197.63 50.4,197.86 51.0,198.07 51.6,198.26 52.2,198.42 52.8,198.55 53.4,198.65 54.0,198.70 54.6,198.69 55.2,198.67 55.8,198.64 56.4,198.61 57.0,198.57 57.6,198.53 58.2,198.48 58.8,198.42 59.4,198.35 60.0,198.28 60.6,198.19 61.2,198.09 61.8,197.98 62.4,197.85 63.0,197.71 63.6,197.56 64.2,197.39 64.8,197.20 65.4,196.99 66.0,196.76 66.6,196.51 67.2,196.24 67.8,195.95 68.4,195.64 69.0,195.31 69.6,194.96 70.2,194.59 70.8,194.21 71.4,193.80 72.0,193.38 72.6,192.95 73.2,192.51 73.8,192.06 74.4,191.61 75.0,191.16 75.6,190.71 76.2,190.26 76.8,189.83 77.4,189.40 78.0,189.00 78.6,188.62 79.2,188.26 79.8,187.93 80.4,187.64 81.0,187.38 81.6,187.16 82.2,186.98 82.8,186.84 83.4,186.75 84.0,186.71 84.6,186.71 85.2,186.75 85.8,186.84 86.4,186.98 87.0,187.16 87.6,187.38 88.2,187.64 88.8,187.93 89.4,188.26 90.0,188.62 90.6,189.00 91.2,189.40 91.8,189.83 92.4,190.26 93.0,190.71 93.6,191.16 94.2,191.61 94.8,192.06 95.4,192.51 96.0,192.95 96.6,193.38 97.2,193.80 97.8,194.21 98.4,194.59 99.0,194.96 99.6,195.31 100.2,195.64 100.8,195.95 101.4,196.24 102.0,196.51 102.6,196.76 103.2,196.99 103.8,197.20 104.4,197.39 105.0,197.56 105.6,197.71 106.2,197.85 106.8,197.98 107.4,198.09 108.0,198.19 108.6,198.28 109.2,198.35 109.8,198.42 110.4,198.48 111.0,198.53 111.6,198.57 112.2,198.61 112.8,198.64 113.4,198.67 114.0,198.69 114.6,198.71 115.2,198.72 115.8,198.74 116.4,198.75 117.0,198.76 117.6,198.77 118.2,198.77 118.8,198.78 119.4,198.78 120.0,198.79 120.6,198.79 121.2,198.79 121.8,198.79 122.4,198.79 123.0,198.80 123.6,198.80" fill="none" stroke="#5a5ab0" stroke-width="0.85"/>
<polyline points="34.2,190.80 34.8,191.18 35.4,191.55 36.0,191.92 36.6,192.28 37.2,192.63 37.8,192.98 38.4,193.31 39.0,193.64 39.6,193.96 40.2,194.28 40.8,194.58 41.4,194.88 42.0,195.17 42.6,195.45 43.2,195.72 43.8,195.99 44.4,196.24 45.0,196.49 45.6,196.72 46.2,196.95 46.8,197.16 47.4,197.36 48.0,197.56 48.6,197.74 49.2,197.90 49.8,198.06 50.4,198.20 51.0,198.33 51.6,198.44 52.2,198.53 52.8,198.60 53.4,198.65 54.0,198.66 54.6,198.64 55.2,198.61 55.8,198.57 56.4,198.52 57.0,198.47 57.6,198.41 58.2,198.34 58.8,198.25 59.4,198.16 60.0,198.05 60.6,197.93 61.2,197.78 61.8,197.63 62.4,197.45 63.0,197.25 63.6,197.03 64.2,196.78 64.8,196.51 65.4,196.21 66.0,195.88 66.6,195.53 67.2,195.14 67.8,194.73 68.4,194.29 69.0,193.81 69.6,193.31 70.2,192.79 70.8,192.23 71.4,191.66 72.0,191.06 72.6,190.44 73.2,189.81 73.8,189.17 74.4,188.52 75.0,187.87 75.6,187.23 76.2,186.59 76.8,185.97 77.4,185.37 78.0,184.79 78.6,184.24 79.2,183.73 79.8,183.26 80.4,182.84 81.0,182.47 81.6,182.16 82.2,181.90 82.8,181.71 83.4,181.57 84.0,181.51 84.6,181.51 85.2,181.57 85.8,181.71 86.4,181.90 87.0,182.16 87.6,182.47 88.2,182.84 88.8,183.26 89.4,183.73 90.0,184.24 90.6,184.79 91.2,185.37 91.8,185.97 92.4,186.59 93.0,187.23 93.6,187.87 94.2,188.52 94.8,189.17 95.4,189.81 96.0,190.44 96.6,191.06 97.2,191.66 97.8,192.23 98.4,192.79 99.0,193.31 99.6,193.81 100.2,194.29 100.8,194.73 101.4,195.14 102.0,195.53 102.6,195.88 103.2,196.21 103.8,196.51 104.4,196.78 105.0,197.03 105.6,197.25 106.2,197.45 106.8,197.63 107.4,197.78 108.0,197.93 108.6,198.05 109.2,198.16 109.8,198.25 110.4,198.34 111.0,198.41 111.6,198.47 112.2,198.52 112.8,198.57 113.4,198.61 114.0,198.64 114.6,198.67 115.2,198.69 115.8,198.71 116.4,198.73 117.0,198.74 117.6,198.75 118.2,198.76 118.8,198.77 119.4,198.78 120.0,198.78 120.6,198.78 121.2,198.79 121.8,198.79 122.4,198.79 123.0,198.79 123.6,198.80" fill="none" stroke="#5aa86a" stroke-width="0.85"/>
<polyline points="34.2,192.30 34.8,192.61 35.4,192.91 36.0,193.21 36.6,193.50 37.2,193.79 37.8,194.07 38.4,194.34 39.0,194.61 39.6,194.87 40.2,195.13 40.8,195.37 41.4,195.62 42.0,195.85 42.6,196.08 43.2,196.30 43.8,196.51 44.4,196.72 45.0,196.92 45.6,197.11 46.2,197.29 46.8,197.46 47.4,197.63 48.0,197.78 48.6,197.92 49.2,198.06 49.8,198.18 50.4,198.29 51.0,198.39 51.6,198.47 52.2,198.53 52.8,198.58 53.4,198.61 54.0,198.61 54.6,198.57 55.2,198.53 55.8,198.47 56.4,198.41 57.0,198.33 57.6,198.24 58.2,198.14 58.8,198.02 59.4,197.88 60.0,197.73 60.6,197.55 61.2,197.35 61.8,197.12 62.4,196.87 63.0,196.58 63.6,196.27 64.2,195.91 64.8,195.53 65.4,195.10 66.0,194.63 66.6,194.13 67.2,193.58 67.8,192.99 68.4,192.35 69.0,191.68 69.6,190.97 70.2,190.21 70.8,189.42 71.4,188.60 72.0,187.75 72.6,186.87 73.2,185.97 73.8,185.05 74.4,184.13 75.0,183.20 75.6,182.28 76.2,181.37 76.8,180.48 77.4,179.62 78.0,178.80 78.6,178.02 79.2,177.29 79.8,176.62 80.4,176.02 81.0,175.49 81.6,175.04 82.2,174.67 82.8,174.39 83.4,174.21 84.0,174.11 84.6,174.11 85.2,174.21 85.8,174.39 86.4,174.67 87.0,175.04 87.6,175.49 88.2,176.02 88.8,176.62 89.4,177.29 90.0,178.02 90.6,178.80 91.2,179.62 91.8,180.48 92.4,181.37 93.0,182.28 93.6,183.20 94.2,184.13 94.8,185.05 95.4,185.97 96.0,186.87 96.6,187.75 97.2,188.60 97.8,189.42 98.4,190.21 99.0,190.97 99.6,191.68 100.2,192.35 100.8,192.99 101.4,193.58 102.0,194.13 102.6,194.63 103.2,195.10 103.8,195.53 104.4,195.91 105.0,196.27 105.6,196.58 106.2,196.87 106.8,197.12 107.4,197.35 108.0,197.55 108.6,197.73 109.2,197.88 109.8,198.02 110.4,198.14 111.0,198.24 111.6,198.33 112.2,198.41 112.8,198.47 113.4,198.53 114.0,198.57 114.6,198.61 115.2,198.65 115.8,198.67 116.4,198.70 117.0,198.72 117.6,198.73 118.2,198.74 118.8,198.76 119.4,198.76 120.0,198.77 120.6,198.78 121.2,198.78 121.8,198.79 122.4,198.79 123.0,198.79 123.6,198.79" fill="none" stroke="#f0d030" stroke-width="0.85"/>
<polyline points="34.2,189.30 34.8,189.75 35.4,190.20 36.0,190.63 36.6,191.06 37.2,191.47 37.8,191.88 38.4,192.28 39.0,192.68 39.6,193.06 40.2,193.43 40.8,193.79 41.4,194.15 42.0,194.49 42.6,194.82 43.2,195.15 43.8,195.46 44.4,195.76 45.0,196.05 45.6,196.33 46.2,196.59 46.8,196.84 47.4,197.08 48.0,197.31 48.6,197.52 49.2,197.71 49.8,197.89 50.4,198.05 51.0,198.19 51.6,198.31 52.2,198.41 52.8,198.48 53.4,198.52 54.0,198.52 54.6,198.47 55.2,198.40 55.8,198.32 56.4,198.22 57.0,198.11 57.6,197.98 58.2,197.83 58.8,197.66 59.4,197.46 60.0,197.23 60.6,196.98 61.2,196.68 61.8,196.35 62.4,195.98 63.0,195.56 63.6,195.10 64.2,194.58 64.8,194.01 65.4,193.39 66.0,192.71 66.6,191.97 67.2,191.17 67.8,190.30 68.4,189.38 69.0,188.39 69.6,187.35 70.2,186.25 70.8,185.09 71.4,183.89 72.0,182.64 72.6,181.36 73.2,180.04 73.8,178.71 74.4,177.36 75.0,176.00 75.6,174.66 76.2,173.33 76.8,172.03 77.4,170.77 78.0,169.56 78.6,168.42 79.2,167.36 79.8,166.38 80.4,165.50 81.0,164.73 81.6,164.07 82.2,163.54 82.8,163.13 83.4,162.86 84.0,162.72 84.6,162.72 85.2,162.86 85.8,163.13 86.4,163.54 87.0,164.07 87.6,164.73 88.2,165.50 88.8,166.38 89.4,167.36 90.0,168.42 90.6,169.56 91.2,170.77 91.8,172.03 92.4,173.33 93.0,174.66 93.6,176.00 94.2,177.36 94.8,178.71 95.4,180.04 96.0,181.36 96.6,182.64 97.2,183.89 97.8,185.09 98.4,186.25 99.0,187.35 99.6,188.39 100.2,189.38 100.8,190.30 101.4,191.17 102.0,191.97 102.6,192.71 103.2,193.39 103.8,194.01 104.4,194.58 105.0,195.10 105.6,195.56 106.2,195.98 106.8,196.35 107.4,196.68 108.0,196.98 108.6,197.23 109.2,197.46 109.8,197.66 110.4,197.83 111.0,197.98 111.6,198.11 112.2,198.22 112.8,198.32 113.4,198.40 114.0,198.47 114.6,198.53 115.2,198.57 115.8,198.61 116.4,198.65 117.0,198.68 117.6,198.70 118.2,198.72 118.8,198.74 119.4,198.75 120.0,198.76 120.6,198.77 121.2,198.77 121.8,198.78 122.4,198.78 123.0,198.79 123.6,198.79" fill="none" stroke="#2a5a98" stroke-width="0.85"/>
<polyline points="34.2,193.80 34.8,194.04 35.4,194.27 36.0,194.50 36.6,194.72 37.2,194.94 37.8,195.16 38.4,195.37 39.0,195.58 39.6,195.78 40.2,195.97 40.8,196.16 41.4,196.35 42.0,196.53 42.6,196.70 43.2,196.87 43.8,197.04 44.4,197.19 45.0,197.34 45.6,197.49 46.2,197.62 46.8,197.75 47.4,197.87 48.0,197.99 48.6,198.09 49.2,198.18 49.8,198.26 50.4,198.33 51.0,198.39 51.6,198.43 52.2,198.46 52.8,198.46 53.4,198.45 54.0,198.40 54.6,198.32 55.2,198.23 55.8,198.11 56.4,197.98 57.0,197.82 57.6,197.63 58.2,197.42 58.8,197.17 59.4,196.89 60.0,196.56 60.6,196.19 61.2,195.77 61.8,195.30 62.4,194.77 63.0,194.17 63.6,193.51 64.2,192.77 64.8,191.96 65.4,191.07 66.0,190.10 66.6,189.04 67.2,187.89 67.8,186.66 68.4,185.34 69.0,183.93 69.6,182.43 70.2,180.86 70.8,179.21 71.4,177.49 72.0,175.71 72.6,173.87 73.2,171.99 73.8,170.08 74.4,168.15 75.0,166.21 75.6,164.29 76.2,162.39 76.8,160.53 77.4,158.73 78.0,157.01 78.6,155.38 79.2,153.86 79.8,152.46 80.4,151.21 81.0,150.10 81.6,149.16 82.2,148.40 82.8,147.81 83.4,147.42 84.0,147.22 84.6,147.22 85.2,147.42 85.8,147.81 86.4,148.40 87.0,149.16 87.6,150.10 88.2,151.21 88.8,152.46 89.4,153.86 90.0,155.38 90.6,157.01 91.2,158.73 91.8,160.53 92.4,162.39 93.0,164.29 93.6,166.21 94.2,168.15 94.8,170.08 95.4,171.99 96.0,173.87 96.6,175.71 97.2,177.49 97.8,179.21 98.4,180.86 99.0,182.43 99.6,183.93 100.2,185.34 100.8,186.66 101.4,187.89 102.0,189.04 102.6,190.10 103.2,191.07 103.8,191.96 104.4,192.77 105.0,193.51 105.6,194.17 106.2,194.77 106.8,195.30 107.4,195.77 108.0,196.19 108.6,196.56 109.2,196.89 109.8,197.17 110.4,197.42 111.0,197.63 111.6,197.82 112.2,197.98 112.8,198.11 113.4,198.23 114.0,198.32 114.6,198.41 115.2,198.48 115.8,198.54 116.4,198.58 117.0,198.62 117.6,198.66 118.2,198.69 118.8,198.71 119.4,198.73 120.0,198.74 120.6,198.75 121.2,198.76 121.8,198.77 122.4,198.78 123.0,198.78 123.6,198.79" fill="none" stroke="#e83838" stroke-width="0.85"/>
<line x1="38.5" y1="159.3" x2="63" y2="159.3" stroke="#222" stroke-width="0.6"/>
<rect x="50.2" y="145" width="1.6" height="14.3" fill="#d0d0d0"/>
<polyline points="39.5,159.08 40.0,158.98 40.5,158.84 41.0,158.66 41.5,158.42 42.0,158.11 42.5,157.72 43.0,157.23 43.5,156.64 44.0,155.93 44.5,155.11 45.0,154.17 45.5,153.13 46.0,151.99 46.5,150.78 47.0,149.53 47.5,148.29 48.0,147.09 48.5,145.98 49.0,145.00 49.5,144.20 50.0,143.62 50.5,143.28 51.0,143.21 51.5,143.39 52.0,143.83 52.5,144.50 53.0,145.37 53.5,146.41 54.0,147.56 54.5,148.79 55.0,150.04 55.5,151.27 56.0,152.45 56.5,153.56 57.0,154.56 57.5,155.45 58.0,156.23 58.5,156.89 59.0,157.44 59.5,157.88 60.0,158.24 60.5,158.52 61.0,158.74 61.5,158.90 62.0,159.02" fill="none" stroke="#3a5ab0" stroke-width="0.75"/>
<line x1="52" y1="151" x2="56.5" y2="142" stroke="#e83838" stroke-width="0.5"/>
<text x="42.8" y="141.5" font-size="5.0" font-weight="bold" fill="#e02828" text-anchor="start" textLength="18.7" lengthAdjust="spacingAndGlyphs" stroke="#e02828" stroke-width="0.18" >I<tspan font-size="3" dy="0.8">p</tspan><tspan dy="-0.8"> value</tspan></text>
<text x="42.8" y="164.2" font-size="4.2" font-weight="bold" fill="#222" text-anchor="start" textLength="17" lengthAdjust="spacingAndGlyphs" stroke="#222" stroke-width="0.18" >Baseline</text>
<line x1="103.5" y1="138.4" x2="109.8" y2="138.4" stroke="#e83838" stroke-width="0.9"/>
<text x="111.4" y="140.1" font-size="4.7" font-weight="bold" fill="#1a1a1a" text-anchor="start" stroke="#1a1a1a" stroke-width="0.2">NT</text>
<line x1="103.5" y1="144.0" x2="109.8" y2="144.0" stroke="#2a5a98" stroke-width="0.9"/>
<text x="111.4" y="145.7" font-size="4.7" font-weight="bold" fill="#1a1a1a" text-anchor="start" stroke="#1a1a1a" stroke-width="0.2">30 μM</text>
<line x1="103.5" y1="149.6" x2="109.8" y2="149.6" stroke="#f0d030" stroke-width="0.9"/>
<text x="111.4" y="151.29999999999998" font-size="4.7" font-weight="bold" fill="#1a1a1a" text-anchor="start" stroke="#1a1a1a" stroke-width="0.2">50 μM</text>
<line x1="103.5" y1="155.0" x2="109.8" y2="155.0" stroke="#5aa86a" stroke-width="0.9"/>
<text x="111.4" y="156.7" font-size="4.7" font-weight="bold" fill="#1a1a1a" text-anchor="start" stroke="#1a1a1a" stroke-width="0.2">70 μM</text>
<line x1="103.5" y1="160.5" x2="109.8" y2="160.5" stroke="#5a5ab0" stroke-width="0.9"/>
<text x="111.4" y="162.2" font-size="4.7" font-weight="bold" fill="#1a1a1a" text-anchor="start" stroke="#1a1a1a" stroke-width="0.2">100 μM</text>
<line x1="103.5" y1="166.3" x2="109.8" y2="166.3" stroke="#c8c0d8" stroke-width="0.9"/>
<text x="111.4" y="168.0" font-size="4.7" font-weight="bold" fill="#1a1a1a" text-anchor="start" stroke="#1a1a1a" stroke-width="0.2">300 μM</text>
<line x1="103.5" y1="171.9" x2="109.8" y2="171.9" stroke="#f08098" stroke-width="0.9"/>
<text x="111.4" y="173.6" font-size="4.7" font-weight="bold" fill="#1a1a1a" text-anchor="start" stroke="#1a1a1a" stroke-width="0.2">500 μM</text>
<line x1="103.5" y1="177.3" x2="109.8" y2="177.3" stroke="#90c4e8" stroke-width="0.9"/>
<text x="111.4" y="179.0" font-size="4.7" font-weight="bold" fill="#1a1a1a" text-anchor="start" stroke="#1a1a1a" stroke-width="0.2">700 μM</text>
<line x1="103.5" y1="182.9" x2="109.8" y2="182.9" stroke="#f09040" stroke-width="0.9"/>
<text x="111.4" y="184.6" font-size="4.7" font-weight="bold" fill="#1a1a1a" text-anchor="start" stroke="#1a1a1a" stroke-width="0.2">1000 μM</text>
<text x="133.0" y="136.4" font-size="13" font-weight="bold" fill="#000" text-anchor="start" stroke="#000" stroke-width="0.18" >C</text>
<path d="M 158.3 137.7 L 158.3 207.0 L 246 207.0" fill="none" stroke="#222" stroke-width="0.6"/>
<line x1="157.10000000000002" y1="201.4" x2="158.3" y2="201.4" stroke="#222" stroke-width="0.5"/>
<text x="156.5" y="202.5" font-size="3.0" font-weight="bold" fill="#333" text-anchor="end" stroke="#333" stroke-width="0.18" >0</text>
<line x1="157.10000000000002" y1="190.9" x2="158.3" y2="190.9" stroke="#222" stroke-width="0.5"/>
<text x="156.5" y="192.02" font-size="3.0" font-weight="bold" fill="#333" text-anchor="end" stroke="#333" stroke-width="0.18" >20</text>
<line x1="157.10000000000002" y1="180.4" x2="158.3" y2="180.4" stroke="#222" stroke-width="0.5"/>
<text x="156.5" y="181.54" font-size="3.0" font-weight="bold" fill="#333" text-anchor="end" stroke="#333" stroke-width="0.18" >40</text>
<line x1="157.10000000000002" y1="170.0" x2="158.3" y2="170.0" stroke="#222" stroke-width="0.5"/>
<text x="156.5" y="171.06" font-size="3.0" font-weight="bold" fill="#333" text-anchor="end" stroke="#333" stroke-width="0.18" >60</text>
<line x1="157.10000000000002" y1="159.5" x2="158.3" y2="159.5" stroke="#222" stroke-width="0.5"/>
<text x="156.5" y="160.58" font-size="3.0" font-weight="bold" fill="#333" text-anchor="end" stroke="#333" stroke-width="0.18" >80</text>
<line x1="157.10000000000002" y1="149.0" x2="158.3" y2="149.0" stroke="#222" stroke-width="0.5"/>
<text x="156.5" y="150.1" font-size="3.0" font-weight="bold" fill="#333" text-anchor="end" stroke="#333" stroke-width="0.18" >100</text>
<line x1="157.10000000000002" y1="138.5" x2="158.3" y2="138.5" stroke="#222" stroke-width="0.5"/>
<text x="156.5" y="139.62" font-size="3.0" font-weight="bold" fill="#333" text-anchor="end" stroke="#333" stroke-width="0.18" >120</text>
<rect x="163.80" y="149.00" width="3.6" height="58.00" fill="#7b1418"/>
<rect x="167.70" y="149.00" width="3.6" height="58.00" fill="#1a86d2"/>
<path d="M 165.60 148.21 L 165.60 149.00 M 164.90 148.21 L 166.30 148.21" stroke="#222" stroke-width="0.35"/>
<path d="M 169.50 148.21 L 169.50 149.00 M 168.80 148.21 L 170.20 148.21" stroke="#222" stroke-width="0.35"/>
<text x="167.60000000000002" y="210.9" font-size="2.6" font-weight="bold" fill="#333" text-anchor="middle" stroke="#333" stroke-width="0.18" >NT</text>
<rect x="172.70" y="164.20" width="3.6" height="42.80" fill="#7b1418"/>
<rect x="176.60" y="152.14" width="3.6" height="54.86" fill="#1a86d2"/>
<path d="M 174.50 163.41 L 174.50 164.20 M 173.80 163.41 L 175.20 163.41" stroke="#222" stroke-width="0.35"/>
<path d="M 178.40 150.57 L 178.40 152.14 M 177.70 150.57 L 179.10 150.57" stroke="#222" stroke-width="0.35"/>
<text x="176.50000000000003" y="210.9" font-size="2.6" font-weight="bold" fill="#333" text-anchor="middle" stroke="#333" stroke-width="0.18" >10</text>
<rect x="181.60" y="169.44" width="3.6" height="37.56" fill="#7b1418"/>
<rect x="185.50" y="156.34" width="3.6" height="50.66" fill="#1a86d2"/>
<path d="M 183.40 168.39 L 183.40 169.44 M 182.70 168.39 L 184.10 168.39" stroke="#222" stroke-width="0.35"/>
<path d="M 187.30 155.29 L 187.30 156.34 M 186.60 155.29 L 188.00 155.29" stroke="#222" stroke-width="0.35"/>
<text x="185.40000000000003" y="210.9" font-size="2.6" font-weight="bold" fill="#333" text-anchor="middle" stroke="#333" stroke-width="0.18" >30</text>
<rect x="190.50" y="184.11" width="3.6" height="22.89" fill="#7b1418"/>
<rect x="194.40" y="160.53" width="3.6" height="46.47" fill="#1a86d2"/>
<path d="M 192.30 183.32 L 192.30 184.11 M 191.60 183.32 L 193.00 183.32" stroke="#222" stroke-width="0.35"/>
<path d="M 196.20 159.22 L 196.20 160.53 M 195.50 159.22 L 196.90 159.22" stroke="#222" stroke-width="0.35"/>
<text x="194.3" y="210.9" font-size="2.6" font-weight="bold" fill="#333" text-anchor="middle" stroke="#333" stroke-width="0.18" >50</text>
<rect x="199.40" y="188.82" width="3.6" height="18.18" fill="#7b1418"/>
<rect x="203.30" y="169.70" width="3.6" height="37.30" fill="#1a86d2"/>
<path d="M 201.20 188.04 L 201.20 188.82 M 200.50 188.04 L 201.90 188.04" stroke="#222" stroke-width="0.35"/>
<path d="M 205.10 166.55 L 205.10 169.70 M 204.40 166.55 L 205.80 166.55" stroke="#222" stroke-width="0.35"/>
<text x="203.20000000000002" y="210.9" font-size="2.6" font-weight="bold" fill="#333" text-anchor="middle" stroke="#333" stroke-width="0.18" >70</text>
<rect x="208.30" y="192.23" width="3.6" height="14.77" fill="#7b1418"/>
<rect x="212.20" y="179.39" width="3.6" height="27.61" fill="#1a86d2"/>
<path d="M 210.10 191.18 L 210.10 192.23 M 209.40 191.18 L 210.80 191.18" stroke="#222" stroke-width="0.35"/>
<path d="M 214.00 178.34 L 214.00 179.39 M 213.30 178.34 L 214.70 178.34" stroke="#222" stroke-width="0.35"/>
<text x="212.10000000000002" y="210.9" font-size="2.6" font-weight="bold" fill="#333" text-anchor="middle" stroke="#333" stroke-width="0.18" >100</text>
<rect x="217.20" y="194.85" width="3.6" height="12.15" fill="#7b1418"/>
<rect x="221.10" y="182.01" width="3.6" height="24.99" fill="#1a86d2"/>
<path d="M 219.00 194.06 L 219.00 194.85 M 218.30 194.06 L 219.70 194.06" stroke="#222" stroke-width="0.35"/>
<path d="M 222.90 180.44 L 222.90 182.01 M 222.20 180.44 L 223.60 180.44" stroke="#222" stroke-width="0.35"/>
<text x="221.00000000000003" y="210.9" font-size="2.6" font-weight="bold" fill="#333" text-anchor="middle" stroke="#333" stroke-width="0.18" >300</text>
<rect x="226.10" y="198.78" width="3.6" height="8.22" fill="#7b1418"/>
<rect x="230.00" y="186.47" width="3.6" height="20.53" fill="#1a86d2"/>
<path d="M 227.90 197.99 L 227.90 198.78 M 227.20 197.99 L 228.60 197.99" stroke="#222" stroke-width="0.35"/>
<path d="M 231.80 184.89 L 231.80 186.47 M 231.10 184.89 L 232.50 184.89" stroke="#222" stroke-width="0.35"/>
<text x="229.90000000000003" y="210.9" font-size="2.6" font-weight="bold" fill="#333" text-anchor="middle" stroke="#333" stroke-width="0.18" >500</text>
<rect x="235.00" y="200.35" width="3.6" height="6.65" fill="#7b1418"/>
<rect x="238.90" y="191.44" width="3.6" height="15.56" fill="#1a86d2"/>
<path d="M 236.80 199.57 L 236.80 200.35 M 236.10 199.57 L 237.50 199.57" stroke="#222" stroke-width="0.35"/>
<path d="M 240.70 190.40 L 240.70 191.44 M 240.00 190.40 L 241.40 190.40" stroke="#222" stroke-width="0.35"/>
<text x="238.8" y="210.9" font-size="2.6" font-weight="bold" fill="#333" text-anchor="middle" stroke="#333" stroke-width="0.18" >1000</text>
<text x="165.5" y="147" font-size="2.8" font-weight="bold" fill="#333" text-anchor="middle" stroke="#333" stroke-width="0.18" >* *</text>
<text x="178.8" y="148.4" font-size="2.8" font-weight="bold" fill="#333" text-anchor="middle" stroke="#333" stroke-width="0.18" >***</text>
<text x="174.6" y="161.5" font-size="2.8" font-weight="bold" fill="#333" text-anchor="middle" stroke="#333" stroke-width="0.18" >***</text>
<text x="187.7" y="152.8" font-size="2.8" font-weight="bold" fill="#333" text-anchor="middle" stroke="#333" stroke-width="0.18" >**</text>
<text x="183.5" y="166.8" font-size="2.8" font-weight="bold" fill="#333" text-anchor="middle" stroke="#333" stroke-width="0.18" >***</text>
<text x="196.6" y="157.4" font-size="2.8" font-weight="bold" fill="#333" text-anchor="middle" stroke="#333" stroke-width="0.18" >**</text>
<text x="192.4" y="181.4" font-size="2.8" font-weight="bold" fill="#333" text-anchor="middle" stroke="#333" stroke-width="0.18" >***</text>
<text x="205.5" y="163" font-size="2.8" font-weight="bold" fill="#333" text-anchor="middle" stroke="#333" stroke-width="0.18" >**</text>
<text x="201.3" y="186.2" font-size="2.8" font-weight="bold" fill="#333" text-anchor="middle" stroke="#333" stroke-width="0.18" >***</text>
<text x="214.4" y="176.6" font-size="2.8" font-weight="bold" fill="#333" text-anchor="middle" stroke="#333" stroke-width="0.18" >*</text>
<text x="223.3" y="179.6" font-size="2.8" font-weight="bold" fill="#333" text-anchor="middle" stroke="#333" stroke-width="0.18" >*</text>
<text x="232.2" y="184.3" font-size="2.8" font-weight="bold" fill="#333" text-anchor="middle" stroke="#333" stroke-width="0.18" >*</text>
<text x="241.1" y="189.2" font-size="2.8" font-weight="bold" fill="#333" text-anchor="middle" stroke="#333" stroke-width="0.18" >*</text>
<line x1="210.6" y1="174.5" x2="241.5" y2="174.5" stroke="#222" stroke-width="0.6"/>
<text x="226" y="173.2" font-size="2.8" font-weight="bold" fill="#333" text-anchor="middle" stroke="#333" stroke-width="0.18" >***</text>
<text x="200.6" y="218.0" font-size="4.8" font-weight="bold" fill="#222" text-anchor="middle" textLength="52.5" lengthAdjust="spacingAndGlyphs" stroke="#222" stroke-width="0.18" >Curcumin concentration (μM)</text>
<text x="149.6" y="170.2" font-size="4.0" font-weight="bold" fill="#222" text-anchor="middle" textLength="43" lengthAdjust="spacingAndGlyphs" stroke="#222" stroke-width="0.18" transform="rotate(-90 149.6 170.2)">Live cell percentage (%)</text>
<rect x="200.3" y="137.4" width="7.4" height="3.4" fill="#7b1418"/>
<rect x="200.3" y="141.7" width="7.4" height="4.2" fill="#1a86d2"/>
<text x="209" y="141.4" font-size="4.6" font-weight="bold" fill="#222" text-anchor="start" textLength="47.1" lengthAdjust="spacingAndGlyphs" stroke="#222" stroke-width="0.18" >Electrochemical method</text>
<text x="209" y="145.9" font-size="4.6" font-weight="bold" fill="#222" text-anchor="start" textLength="36.3" lengthAdjust="spacingAndGlyphs" stroke="#222" stroke-width="0.18" >Colorimetric assay</text>
<text x="266.8" y="21.5" font-size="12.6" font-weight="bold" fill="#000" text-anchor="start" stroke="#000" stroke-width="0.18" >D</text>
<defs><linearGradient id="boardg" gradientUnits="userSpaceOnUse" x1="300" y1="70" x2="530" y2="100"><stop offset="0" stop-color="#c6c9cc"/><stop offset="0.5" stop-color="#babdc1"/><stop offset="1" stop-color="#a8acb0"/></linearGradient></defs>
<polygon points="297,63.3 513.4,60.2 532.3,105.8 313.6,109.4" fill="url(#boardg)"/>
<polygon points="313.6,109.4 532.3,105.8 532.3,106.6 313.6,110.3" fill="#8a8e92"/>
<path d="M 326.6,71.5 341.1,71.5 344.5,81.0 330.0,81.0 Z M 329.99,74.00 339.49,74.00 341.11,78.50 331.61,78.50 Z" fill="#ccb068" fill-rule="evenodd"/>
<path d="M 332.5,89.3 347.5,89.3 351.1,99.8 336.1,99.8 Z M 335.99,91.90 345.79,91.90 347.61,97.20 337.81,97.20 Z" fill="#ccb068" fill-rule="evenodd"/>
<path d="M 357.1,71.5 371.6,71.5 375.0,81.0 360.5,81.0 Z M 360.49,74.00 369.99,74.00 371.61,78.50 362.11,78.50 Z" fill="#ccb068" fill-rule="evenodd"/>
<path d="M 363.4,89.3 378.4,89.3 382.0,99.8 367.0,99.8 Z M 366.89,91.90 376.69,91.90 378.51,97.20 368.71,97.20 Z" fill="#ccb068" fill-rule="evenodd"/>
<path d="M 387.6,71.5 402.1,71.5 405.5,81.0 391.0,81.0 Z M 390.99,74.00 400.49,74.00 402.11,78.50 392.61,78.50 Z" fill="#ccb068" fill-rule="evenodd"/>
<path d="M 394.3,89.3 409.3,89.3 412.90000000000003,99.8 397.90000000000003,99.8 Z M 397.79,91.90 407.59,91.90 409.41,97.20 399.61,97.20 Z" fill="#ccb068" fill-rule="evenodd"/>
<path d="M 418.1,71.5 432.6,71.5 436.0,81.0 421.5,81.0 Z M 421.49,74.00 430.99,74.00 432.61,78.50 423.11,78.50 Z" fill="#ccb068" fill-rule="evenodd"/>
<path d="M 425.2,89.3 440.2,89.3 443.8,99.8 428.8,99.8 Z M 428.69,91.90 438.49,91.90 440.31,97.20 430.51,97.20 Z" fill="#ccb068" fill-rule="evenodd"/>
<path d="M 448.6,71.5 463.1,71.5 466.5,81.0 452.0,81.0 Z M 451.99,74.00 461.49,74.00 463.11,78.50 453.61,78.50 Z" fill="#ccb068" fill-rule="evenodd"/>
<path d="M 456.1,89.3 471.1,89.3 474.70000000000005,99.8 459.70000000000005,99.8 Z M 459.59,91.90 469.39,91.90 471.21,97.20 461.41,97.20 Z" fill="#ccb068" fill-rule="evenodd"/>
<path d="M 479.1,71.5 493.6,71.5 497.0,81.0 482.5,81.0 Z M 482.49,74.00 491.99,74.00 493.61,78.50 484.11,78.50 Z" fill="#ccb068" fill-rule="evenodd"/>
<path d="M 487.0,89.3 502.0,89.3 505.6,99.8 490.6,99.8 Z M 490.49,91.90 500.29,91.90 502.11,97.20 492.31,97.20 Z" fill="#ccb068" fill-rule="evenodd"/>
<rect x="308" y="81" width="6.5" height="6" rx="1" fill="#b89030"/><rect x="309.5" y="79.8" width="3.5" height="2.2" fill="#e0c060"/><rect x="308" y="86" width="6.5" height="1.5" fill="#6a5010"/>
<path d="M 489.7 68 Q 506 64 515.7 74.5" fill="none" stroke="#ffffff" stroke-width="1.3"/>
<path d="M 491 75.2 Q 502 73 508.6 78.8" fill="none" stroke="#ffffff" stroke-width="1.2"/>
<path d="M 493.3 83 Q 500 81.5 504 85.8" fill="none" stroke="#ffffff" stroke-width="1.1"/>
<text x="514.6" y="84.5" font-size="8.2" font-weight="normal" fill="#222" text-anchor="start" textLength="31.9" lengthAdjust="spacingAndGlyphs" stroke="#222" stroke-width="0.18" >Wireless</text>
<text x="517" y="93.6" font-size="8.2" font-weight="normal" fill="#222" text-anchor="start" textLength="27" lengthAdjust="spacingAndGlyphs" stroke="#222" stroke-width="0.18" >readout</text>
<text x="395" y="106.6" font-size="7.2" font-weight="normal" fill="#222" text-anchor="start" textLength="47.5" lengthAdjust="spacingAndGlyphs" stroke="#222" stroke-width="0.18" >Readout circuit</text>
<polygon points="304,12 521,8.5 539,54 322,58" fill="#d2e8eb" stroke="#a8c4c8" stroke-width="0.4"/>
<polygon points="322,58 539,54 539,55.6 322,59.6" fill="#6c7c80"/>
<polygon points="322,6.2 516,5.2 530,46 334,49.2" fill="#b6dbdf"/>
<polygon points="322,6.2 516,5.2 517,7 323.6,8" fill="#e4f2f3"/>
<polygon points="321.9,6.7 327,8.8 336,49 330.5,46" fill="#a6cfd3"/>
<polygon points="514.5,5.2 518.5,5.6 531,46.5 524,45.2" fill="#e2f1f3"/>
<line x1="518.5" y1="5.6" x2="531" y2="46.5" stroke="#b8d4d8" stroke-width="0.4"/>
<polygon points="332.6,19.0 341.20000000000005,19.0 342.6,28.3 334.0,28.3" fill="#4e4e48"/><polygon points="335.13,21.20 339.33,21.20 340.07,26.10 335.87,26.10" fill="#d0e8ea"/>
<polygon points="350.8,7.2 352.6,6.8 355.2,15.8 353.4,16.6" fill="#a4a8a8"/>
<polygon points="352.6,6.8 353.4,6.8 355.9,15.6 355.2,15.8" fill="#3a3a3a"/>
<polygon points="335.4,11.2 352.0,11.2 354.2,17.6 338.5,17.6" fill="#b89eb8"/>
<polygon points="338.5,17.6 354.2,17.6 354.5,18.8 339.0,18.8" fill="#e8e0ea"/>
<polygon points="339.5,18.8 358.0,18.8 360.0,27.5 348.5,40.4" fill="#b094b2"/>
<polygon points="339.5,18.8 358.0,18.8 348.5,40.4" fill="#bea6bf"/>
<polygon points="358.0,18.8 360.0,27.5 348.5,40.4 352.0,30" fill="#a288a6"/>
<polygon points="353.5,16.8 356.0,16.8 356.0,18.2 353.5,18.2" fill="#222"/>
<polygon points="354.6,20.6 356.4,20.1 361.2,29.6 359.4,30.3" fill="#a0a4a4"/>
<polygon points="356.4,20.1 357.2,20.1 361.9,29.4 361.2,29.6" fill="#333"/>
<polygon points="341.4,41.1 355.0,41.1 358.4,49.0 344.79999999999995,49.0" fill="#6a5c36"/><polygon points="344.12,43.00 353.92,43.00 355.68,47.10 345.88,47.10" fill="#d6ecee"/>
<circle cx="348.5" cy="40.6" r="0.9" fill="#ffffff"/>
<polygon points="363.3,19.0 371.90000000000003,19.0 373.3,28.3 364.7,28.3" fill="#4e4e48"/><polygon points="365.83,21.20 370.03,21.20 370.77,26.10 366.57,26.10" fill="#d0e8ea"/>
<polygon points="381.5,7.2 383.3,6.8 385.9,15.8 384.09999999999997,16.6" fill="#a4a8a8"/>
<polygon points="383.3,6.8 384.09999999999997,6.8 386.59999999999997,15.6 385.9,15.8" fill="#3a3a3a"/>
<polygon points="366.09999999999997,11.2 382.7,11.2 384.9,17.6 369.2,17.6" fill="#b89eb8"/>
<polygon points="369.2,17.6 384.9,17.6 385.2,18.8 369.7,18.8" fill="#e8e0ea"/>
<polygon points="370.2,18.8 388.7,18.8 390.7,27.5 379.2,40.4" fill="#b094b2"/>
<polygon points="370.2,18.8 388.7,18.8 379.2,40.4" fill="#bea6bf"/>
<polygon points="388.7,18.8 390.7,27.5 379.2,40.4 382.7,30" fill="#a288a6"/>
<polygon points="384.2,16.8 386.7,16.8 386.7,18.2 384.2,18.2" fill="#222"/>
<polygon points="385.3,20.6 387.09999999999997,20.1 391.9,29.6 390.09999999999997,30.3" fill="#a0a4a4"/>
<polygon points="387.09999999999997,20.1 387.9,20.1 392.59999999999997,29.4 391.9,29.6" fill="#333"/>
<polygon points="372.09999999999997,41.1 385.7,41.1 389.09999999999997,49.0 375.49999999999994,49.0" fill="#6a5c36"/><polygon points="374.82,43.00 384.62,43.00 386.38,47.10 376.58,47.10" fill="#d6ecee"/>
<circle cx="379.2" cy="40.6" r="0.9" fill="#ffffff"/>
<polygon points="394.0,19.0 402.6,19.0 404.0,28.3 395.4,28.3" fill="#4e4e48"/><polygon points="396.53,21.20 400.73,21.20 401.47,26.10 397.27,26.10" fill="#d0e8ea"/>
<polygon points="412.2,7.2 414.0,6.8 416.59999999999997,15.8 414.79999999999995,16.6" fill="#a4a8a8"/>
<polygon points="414.0,6.8 414.79999999999995,6.8 417.29999999999995,15.6 416.59999999999997,15.8" fill="#3a3a3a"/>
<polygon points="396.79999999999995,11.2 413.4,11.2 415.59999999999997,17.6 399.9,17.6" fill="#b89eb8"/>
<polygon points="399.9,17.6 415.59999999999997,17.6 415.9,18.8 400.4,18.8" fill="#e8e0ea"/>
<polygon points="400.9,18.8 419.4,18.8 421.4,27.5 409.9,40.4" fill="#b094b2"/>
<polygon points="400.9,18.8 419.4,18.8 409.9,40.4" fill="#bea6bf"/>
<polygon points="419.4,18.8 421.4,27.5 409.9,40.4 413.4,30" fill="#a288a6"/>
<polygon points="414.9,16.8 417.4,16.8 417.4,18.2 414.9,18.2" fill="#222"/>
<polygon points="416.0,20.6 417.79999999999995,20.1 422.59999999999997,29.6 420.79999999999995,30.3" fill="#a0a4a4"/>
<polygon points="417.79999999999995,20.1 418.59999999999997,20.1 423.29999999999995,29.4 422.59999999999997,29.6" fill="#333"/>
<polygon points="402.79999999999995,41.1 416.4,41.1 419.79999999999995,49.0 406.19999999999993,49.0" fill="#6a5c36"/><polygon points="405.52,43.00 415.32,43.00 417.08,47.10 407.28,47.10" fill="#d6ecee"/>
<circle cx="409.9" cy="40.6" r="0.9" fill="#ffffff"/>
<polygon points="424.70000000000005,19.0 433.30000000000007,19.0 434.70000000000005,28.3 426.1,28.3" fill="#4e4e48"/><polygon points="427.23,21.20 431.43,21.20 432.17,26.10 427.97,26.10" fill="#d0e8ea"/>
<polygon points="442.90000000000003,7.2 444.70000000000005,6.8 447.3,15.8 445.5,16.6" fill="#a4a8a8"/>
<polygon points="444.70000000000005,6.8 445.5,6.8 448.0,15.6 447.3,15.8" fill="#3a3a3a"/>
<polygon points="427.5,11.2 444.1,11.2 446.3,17.6 430.6,17.6" fill="#b89eb8"/>
<polygon points="430.6,17.6 446.3,17.6 446.6,18.8 431.1,18.8" fill="#e8e0ea"/>
<polygon points="431.6,18.8 450.1,18.8 452.1,27.5 440.6,40.4" fill="#b094b2"/>
<polygon points="431.6,18.8 450.1,18.8 440.6,40.4" fill="#bea6bf"/>
<polygon points="450.1,18.8 452.1,27.5 440.6,40.4 444.1,30" fill="#a288a6"/>
<polygon points="445.6,16.8 448.1,16.8 448.1,18.2 445.6,18.2" fill="#222"/>
<polygon points="446.70000000000005,20.6 448.5,20.1 453.3,29.6 451.5,30.3" fill="#a0a4a4"/>
<polygon points="448.5,20.1 449.3,20.1 454.0,29.4 453.3,29.6" fill="#333"/>
<polygon points="433.5,41.1 447.1,41.1 450.5,49.0 436.9,49.0" fill="#6a5c36"/><polygon points="436.22,43.00 446.02,43.00 447.78,47.10 437.98,47.10" fill="#d6ecee"/>
<circle cx="440.6" cy="40.6" r="0.9" fill="#ffffff"/>
<polygon points="455.40000000000003,19.0 464.00000000000006,19.0 465.40000000000003,28.3 456.8,28.3" fill="#4e4e48"/><polygon points="457.93,21.20 462.13,21.20 462.87,26.10 458.67,26.10" fill="#d0e8ea"/>
<polygon points="473.6,7.2 475.40000000000003,6.8 478.0,15.8 476.2,16.6" fill="#a4a8a8"/>
<polygon points="475.40000000000003,6.8 476.2,6.8 478.7,15.6 478.0,15.8" fill="#3a3a3a"/>
<polygon points="458.2,11.2 474.8,11.2 477.0,17.6 461.3,17.6" fill="#b89eb8"/>
<polygon points="461.3,17.6 477.0,17.6 477.3,18.8 461.8,18.8" fill="#e8e0ea"/>
<polygon points="462.3,18.8 480.8,18.8 482.8,27.5 471.3,40.4" fill="#b094b2"/>
<polygon points="462.3,18.8 480.8,18.8 471.3,40.4" fill="#bea6bf"/>
<polygon points="480.8,18.8 482.8,27.5 471.3,40.4 474.8,30" fill="#a288a6"/>
<polygon points="476.3,16.8 478.8,16.8 478.8,18.2 476.3,18.2" fill="#222"/>
<polygon points="477.40000000000003,20.6 479.2,20.1 484.0,29.6 482.2,30.3" fill="#a0a4a4"/>
<polygon points="479.2,20.1 480.0,20.1 484.7,29.4 484.0,29.6" fill="#333"/>
<polygon points="464.2,41.1 477.8,41.1 481.2,49.0 467.59999999999997,49.0" fill="#6a5c36"/><polygon points="466.92,43.00 476.72,43.00 478.48,47.10 468.68,47.10" fill="#d6ecee"/>
<circle cx="471.3" cy="40.6" r="0.9" fill="#ffffff"/>
<polygon points="486.1,19.0 494.70000000000005,19.0 496.1,28.3 487.5,28.3" fill="#4e4e48"/><polygon points="488.63,21.20 492.83,21.20 493.57,26.10 489.37,26.10" fill="#d0e8ea"/>
<polygon points="504.3,7.2 506.1,6.8 508.7,15.8 506.9,16.6" fill="#a4a8a8"/>
<polygon points="506.1,6.8 506.9,6.8 509.4,15.6 508.7,15.8" fill="#3a3a3a"/>
<polygon points="488.9,11.2 505.5,11.2 507.7,17.6 492.0,17.6" fill="#b89eb8"/>
<polygon points="492.0,17.6 507.7,17.6 508.0,18.8 492.5,18.8" fill="#e8e0ea"/>
<polygon points="493.0,18.8 511.5,18.8 513.5,27.5 502.0,40.4" fill="#b094b2"/>
<polygon points="493.0,18.8 511.5,18.8 502.0,40.4" fill="#bea6bf"/>
<polygon points="511.5,18.8 513.5,27.5 502.0,40.4 505.5,30" fill="#a288a6"/>
<polygon points="507.0,16.8 509.5,16.8 509.5,18.2 507.0,18.2" fill="#222"/>
<polygon points="508.1,20.6 509.9,20.1 514.7,29.6 512.9,30.3" fill="#a0a4a4"/>
<polygon points="509.9,20.1 510.7,20.1 515.4,29.4 514.7,29.6" fill="#333"/>
<polygon points="494.9,41.1 508.5,41.1 511.9,49.0 498.29999999999995,49.0" fill="#6a5c36"/><polygon points="497.62,43.00 507.42,43.00 509.18,47.10 499.38,47.10" fill="#d6ecee"/>
<circle cx="502.0" cy="40.6" r="0.9" fill="#ffffff"/>
<line x1="323" y1="44.3" x2="348" y2="40.4" stroke="#111" stroke-width="0.8"/>
<text x="277.3" y="41.3" font-size="8.2" font-weight="normal" fill="#222" text-anchor="start" textLength="40.7" lengthAdjust="spacingAndGlyphs" stroke="#222" stroke-width="0.18" >Microtissue</text>
<text x="283" y="49.4" font-size="8.2" font-weight="normal" fill="#222" text-anchor="start" textLength="30.6" lengthAdjust="spacingAndGlyphs" stroke="#222" stroke-width="0.18" >spheroid</text>
<text x="408.8" y="55.3" font-size="7.4" font-weight="normal" fill="#222" text-anchor="start" textLength="37.8" lengthAdjust="spacingAndGlyphs" stroke="#222" stroke-width="0.18" >Sensor chip</text>
<text x="267.0" y="136.3" font-size="13" font-weight="bold" fill="#000" text-anchor="start" stroke="#000" stroke-width="0.18" >E</text>
<rect x="295.0" y="129.6" width="93.0" height="77.6" fill="none" stroke="#333" stroke-width="0.6"/>
<line x1="295.0" y1="129.6" x2="296.2" y2="129.6" stroke="#333" stroke-width="0.5"/>
<text x="293.7" y="131.4" font-size="5.2" font-weight="normal" fill="#333" text-anchor="end" stroke="#333" stroke-width="0.18" >0</text>
<line x1="295.0" y1="149.0" x2="296.2" y2="149.0" stroke="#333" stroke-width="0.5"/>
<text x="293.7" y="150.8" font-size="5.2" font-weight="normal" fill="#333" text-anchor="end" stroke="#333" stroke-width="0.18" >−4</text>
<line x1="295.0" y1="168.4" x2="296.2" y2="168.4" stroke="#333" stroke-width="0.5"/>
<text x="293.7" y="170.2" font-size="5.2" font-weight="normal" fill="#333" text-anchor="end" stroke="#333" stroke-width="0.18" >−8</text>
<line x1="295.0" y1="187.8" x2="296.2" y2="187.8" stroke="#333" stroke-width="0.5"/>
<text x="293.7" y="189.6" font-size="5.2" font-weight="normal" fill="#333" text-anchor="end" stroke="#333" stroke-width="0.18" >−12</text>
<line x1="295.0" y1="207.2" x2="296.2" y2="207.2" stroke="#333" stroke-width="0.5"/>
<text x="293.7" y="209.0" font-size="5.2" font-weight="normal" fill="#333" text-anchor="end" stroke="#333" stroke-width="0.18" >−16</text>
<line x1="295.4" y1="207.2" x2="295.4" y2="206.0" stroke="#333" stroke-width="0.5"/>
<text x="295.4" y="212.79999999999998" font-size="5.2" font-weight="normal" fill="#333" text-anchor="middle" stroke="#333" stroke-width="0.18" >0</text>
<line x1="314.1" y1="207.2" x2="314.1" y2="206.0" stroke="#333" stroke-width="0.5"/>
<text x="314.09999999999997" y="212.79999999999998" font-size="5.2" font-weight="normal" fill="#333" text-anchor="middle" stroke="#333" stroke-width="0.18" >20</text>
<line x1="332.8" y1="207.2" x2="332.8" y2="206.0" stroke="#333" stroke-width="0.5"/>
<text x="332.79999999999995" y="212.79999999999998" font-size="5.2" font-weight="normal" fill="#333" text-anchor="middle" stroke="#333" stroke-width="0.18" >40</text>
<line x1="351.5" y1="207.2" x2="351.5" y2="206.0" stroke="#333" stroke-width="0.5"/>
<text x="351.5" y="212.79999999999998" font-size="5.2" font-weight="normal" fill="#333" text-anchor="middle" stroke="#333" stroke-width="0.18" >60</text>
<line x1="370.2" y1="207.2" x2="370.2" y2="206.0" stroke="#333" stroke-width="0.5"/>
<text x="370.2" y="212.79999999999998" font-size="5.2" font-weight="normal" fill="#333" text-anchor="middle" stroke="#333" stroke-width="0.18" >80</text>
<line x1="386.8" y1="137.0" x2="388.0" y2="137.0" stroke="#333" stroke-width="0.5"/>
<text x="389.6" y="138.8" font-size="5.0" font-weight="normal" fill="#333" text-anchor="start" stroke="#333" stroke-width="0.18" >240</text>
<line x1="386.8" y1="153.4" x2="388.0" y2="153.4" stroke="#333" stroke-width="0.5"/>
<text x="389.6" y="155.20000000000002" font-size="5.0" font-weight="normal" fill="#333" text-anchor="start" stroke="#333" stroke-width="0.18" >320</text>
<line x1="386.8" y1="169.8" x2="388.0" y2="169.8" stroke="#333" stroke-width="0.5"/>
<text x="389.6" y="171.60000000000002" font-size="5.0" font-weight="normal" fill="#333" text-anchor="start" stroke="#333" stroke-width="0.18" >400</text>
<line x1="386.8" y1="186.2" x2="388.0" y2="186.2" stroke="#333" stroke-width="0.5"/>
<text x="389.6" y="188.0" font-size="5.0" font-weight="normal" fill="#333" text-anchor="start" stroke="#333" stroke-width="0.18" >480</text>
<line x1="386.8" y1="202.6" x2="388.0" y2="202.6" stroke="#333" stroke-width="0.5"/>
<text x="389.6" y="204.4" font-size="5.0" font-weight="normal" fill="#333" text-anchor="start" stroke="#333" stroke-width="0.18" >560</text>
<text x="331.5" y="218.6" font-size="5.0" font-weight="normal" fill="#222" text-anchor="start" textLength="14" lengthAdjust="spacingAndGlyphs" stroke="#222" stroke-width="0.18" >Time (h)</text>
<text x="284.0" y="166.2" font-size="4.2" font-weight="normal" fill="#222" text-anchor="middle" textLength="21.5" lengthAdjust="spacingAndGlyphs" font-style="italic" stroke="#222" stroke-width="0.18" transform="rotate(-90 284.0 166.2)">δV<tspan font-size="2.8" dy="0.8">c,Norm</tspan><tspan dy="-0.8"> (μV)</tspan></text>
<text x="400.9" y="173.7" font-size="4.2" font-weight="normal" fill="#222" text-anchor="middle" textLength="24" lengthAdjust="spacingAndGlyphs" stroke="#222" stroke-width="0.18" transform="rotate(90 400.9 173.7)">Diameter<tspan font-size="2.8" dy="0.8">3d</tspan><tspan dy="-0.8"> (μm)</tspan></text>
<polyline points="295.4,147.48 296.1,147.66 296.7,147.93 297.4,148.07 298.0,148.69 298.7,148.79 299.3,150.35 300.0,150.10 300.6,149.79 301.3,150.54 301.9,150.54 302.6,151.96 303.3,151.82 303.9,152.46 304.6,152.40 305.2,152.71 305.9,153.81 306.5,153.88 307.2,154.14 307.8,153.62 308.5,154.17 309.1,155.34 309.8,154.81 310.5,156.05 311.1,155.75 311.8,156.76 312.4,157.27 313.1,156.44 313.7,157.68 314.4,158.01 315.0,157.32 315.7,157.81 316.3,158.95 317.0,158.38 317.7,159.30 318.3,159.45 319.0,160.44 319.6,159.78 320.3,160.47 320.9,160.44 321.6,160.88 322.2,162.03 322.9,162.29 323.5,162.90 324.2,163.27 324.9,163.73 325.5,163.75 326.2,163.69 326.8,164.85 327.5,164.27 328.1,165.08 328.8,165.46 329.4,165.12 330.1,165.92 330.7,166.49 331.4,166.61 332.1,166.65 332.7,167.87 333.4,166.97 334.0,168.61 334.7,167.96 335.3,168.18 336.0,169.65 336.6,168.95 337.3,169.86 337.9,169.92 338.6,171.04 339.3,171.33 339.9,171.49 340.6,170.78 341.2,172.16 341.9,171.74 342.5,171.85 343.2,172.18 343.8,173.34 344.5,173.67 345.1,173.78 345.8,173.78 346.5,175.03 347.1,174.51 347.8,174.79 348.4,175.05 349.1,176.51 349.7,175.62 350.4,177.12 351.0,177.13 351.7,177.11 352.3,177.03 353.0,178.16 353.7,177.71 354.3,178.57 355.0,179.23 355.6,179.57 356.3,180.10 356.9,180.58 357.6,180.83 358.2,180.44 358.9,180.37 359.5,181.85 360.2,182.35 360.9,181.42 361.5,182.38 362.2,182.89 362.8,183.47 363.5,183.33 364.1,183.36 364.8,184.20 365.4,184.59 366.1,185.44 366.7,184.61 367.4,186.16 368.0,185.87 368.7,185.75 369.4,187.06 370.0,186.58 370.7,186.63 371.3,187.41 372.0,187.54 372.6,188.81 373.3,188.71 373.9,189.44 374.6,188.84 375.2,189.93 375.9,190.06 376.6,189.66 377.2,190.21 377.9,190.38 378.5,191.44 379.2,191.73 379.8,191.75 380.5,192.44 381.1,193.04 381.8,193.23 382.4,193.92 383.1,193.95 383.8,193.47 384.4,193.85 385.1,194.65 385.7,195.16 386.4,195.73" fill="none" stroke="#f8dc80" stroke-width="1.6" opacity="0.9" stroke-linejoin="round"/>
<polyline points="295.4,149.09 296.1,149.22 296.7,148.97 297.4,149.22 298.0,150.15 298.7,150.00 299.3,150.36 300.0,150.80 300.6,151.18 301.3,151.41 301.9,152.21 302.6,152.16 303.3,153.00 303.9,153.11 304.6,153.12 305.2,153.56 305.9,154.36 306.5,153.95 307.2,154.64 307.8,155.06 308.5,156.07 309.1,155.79 309.8,156.48 310.5,156.33 311.1,156.92 311.8,156.85 312.4,157.39 313.1,157.56 313.7,158.43 314.4,158.43 315.0,158.67 315.7,158.90 316.3,159.81 317.0,159.58 317.7,159.89 318.3,160.45 319.0,160.45 319.6,160.82 320.3,161.68 320.9,162.01 321.6,162.77 322.2,162.34 322.9,162.57 323.5,163.45 324.2,163.54 324.9,163.85 325.5,164.18 326.2,165.18 326.8,164.81 327.5,165.39 328.1,165.64 328.8,166.27 329.4,166.37 330.1,166.54 330.7,167.05 331.4,167.29 332.1,168.45 332.7,168.64 333.4,168.65 334.0,168.75 334.7,169.60 335.3,169.40 336.0,169.81 336.6,170.84 337.3,170.68 337.9,171.31 338.6,171.86 339.3,172.11 339.9,172.24 340.6,172.74 341.2,173.07 341.9,173.60 342.5,173.45 343.2,173.89 343.8,173.96 344.5,174.33 345.1,175.09 345.8,174.66 346.5,176.05 347.1,175.93 347.8,176.42 348.4,176.61 349.1,177.30 349.7,176.81 350.4,177.68 351.0,178.42 351.7,178.09 352.3,179.04 353.0,178.86 353.7,179.45 354.3,179.51 355.0,179.41 355.6,179.92 356.3,180.73 356.9,180.62 357.6,181.16 358.2,181.82 358.9,182.43 359.5,182.25 360.2,182.63 360.9,182.51 361.5,182.85 362.2,183.61 362.8,184.25 363.5,183.97 364.1,185.35 364.8,185.57 365.4,185.38 366.1,185.67 366.7,186.56 367.4,186.34 368.0,186.38 368.7,187.32 369.4,187.60 370.0,188.19 370.7,188.45 371.3,188.01 372.0,189.04 372.6,188.71 373.3,189.11 373.9,189.82 374.6,190.56 375.2,190.06 375.9,190.97 376.6,191.41 377.2,191.87 377.9,191.44 378.5,192.35 379.2,192.94 379.8,193.06 380.5,193.82 381.1,193.58 381.8,194.13 382.4,194.65 383.1,194.43 383.8,194.72 384.4,196.01 385.1,195.75 385.7,196.40 386.4,195.97" fill="none" stroke="#f0c848" stroke-width="1.1" opacity="1.0" stroke-linejoin="round"/>
<polyline points="295.4,147.81 296.1,148.57 296.7,148.90 297.4,149.33 298.0,149.03 298.7,149.91 299.3,150.01 300.0,150.46 300.6,150.67 301.3,151.05 301.9,151.28 302.6,152.11 303.3,151.96 303.9,152.66 304.6,152.82 305.2,153.32 305.9,153.70 306.5,153.86 307.2,154.26 307.8,154.68 308.5,154.73 309.1,155.19 309.8,155.97 310.5,156.14 311.1,156.33 311.8,156.32 312.4,156.68 313.1,157.29 313.7,158.05 314.4,157.80 315.0,158.42 315.7,158.65 316.3,158.89 317.0,159.29 317.7,159.75 318.3,159.76 319.0,160.52 319.6,160.85 320.3,160.84 320.9,161.70 321.6,161.96 322.2,161.89 322.9,162.83 323.5,162.58 324.2,163.03 324.9,163.58 325.5,164.04 326.2,164.00 326.8,164.24 327.5,165.18 328.1,165.26 328.8,165.55 329.4,165.94 330.1,166.41 330.7,166.89 331.4,166.90 332.1,167.07 332.7,167.99 333.4,168.21 334.0,168.10 334.7,168.46 335.3,168.91 336.0,169.75 336.6,169.55 337.3,169.70 337.9,170.03 338.6,170.60 339.3,171.45 339.9,171.18 340.6,172.01 341.2,172.02 341.9,172.13 342.5,172.66 343.2,173.45 343.8,173.67 344.5,173.53 345.1,174.47 345.8,174.46 346.5,174.96 347.1,175.50 347.8,175.48 348.4,176.28 349.1,176.57 349.7,176.70 350.4,177.29 351.0,177.64 351.7,177.59 352.3,177.80 353.0,178.04 353.7,178.96 354.3,179.07 355.0,179.51 355.6,179.63 356.3,180.06 356.9,180.06 357.6,180.84 358.2,181.43 358.9,181.28 359.5,182.05 360.2,182.02 360.9,182.46 361.5,182.49 362.2,183.11 362.8,183.40 363.5,184.03 364.1,184.15 364.8,184.72 365.4,184.68 366.1,185.21 366.7,185.85 367.4,186.11 368.0,186.35 368.7,186.41 369.4,187.19 370.0,187.12 370.7,187.51 371.3,188.30 372.0,188.19 372.6,188.98 373.3,189.30 373.9,189.28 374.6,189.90 375.2,189.75 375.9,190.40 376.6,190.87 377.2,190.84 377.9,191.78 378.5,191.59 379.2,192.45 379.8,192.72 380.5,192.44 381.1,193.00 381.8,193.70 382.4,194.13 383.1,193.81 383.8,194.39 384.4,194.61 385.1,195.49 385.7,195.45 386.4,196.01" fill="none" stroke="#ffffff" stroke-width="0.35" opacity="0.55" stroke-linejoin="round"/>
<polyline points="295.4,148.00 296.1,148.18 296.7,148.10 297.4,148.77 298.0,149.03 298.7,149.68 299.3,149.04 300.0,149.60 300.6,149.69 301.3,150.50 301.9,150.24 302.6,151.01 303.3,151.21 303.9,151.55 304.6,151.63 305.2,152.40 305.9,153.12 306.5,153.51 307.2,153.59 307.8,154.12 308.5,153.27 309.1,154.14 309.8,154.06 310.5,155.40 311.1,155.07 311.8,154.81 312.4,155.49 313.1,156.05 313.7,156.31 314.4,157.12 315.0,157.35 315.7,157.65 316.3,157.67 317.0,157.96 317.7,157.60 318.3,158.89 319.0,159.06 319.6,159.34 320.3,159.80 320.9,159.94 321.6,160.32 322.2,160.29 322.9,161.21 323.5,160.31 324.2,161.37 324.9,160.91 325.5,161.55 326.2,161.88 326.8,162.46 327.5,162.13 328.1,163.56 328.8,163.12 329.4,163.94 330.1,163.73 330.7,163.96 331.4,165.04 332.1,165.29 332.7,165.84 333.4,165.87 334.0,166.39 334.7,166.25 335.3,165.79 336.0,166.92 336.6,167.30 337.3,167.40 337.9,167.95 338.6,167.65 339.3,167.98 339.9,169.04 340.6,169.24 341.2,168.97 341.9,168.91 342.5,169.62 343.2,170.22 343.8,169.79 344.5,171.41 345.1,171.64 345.8,170.98 346.5,171.79 347.1,172.59 347.8,172.21 348.4,171.92 349.1,172.87 349.7,173.41 350.4,174.06 351.0,174.40 351.7,173.59 352.3,174.45 353.0,174.15 353.7,175.66 354.3,175.71 355.0,176.28 355.6,176.12 356.3,176.88 356.9,176.92 357.6,177.03 358.2,177.47 358.9,178.12 359.5,178.45 360.2,177.49 360.9,178.87 361.5,178.74 362.2,179.19 362.8,179.32 363.5,180.24 364.1,180.23 364.8,180.82 365.4,180.54 366.1,180.33 366.7,181.08 367.4,181.03 368.0,182.22 368.7,182.79 369.4,182.39 370.0,182.77 370.7,182.96 371.3,183.53 372.0,183.51 372.6,183.68 373.3,183.73 373.9,184.86 374.6,184.98 375.2,184.77 375.9,185.90 376.6,186.35 377.2,186.39 377.9,187.01 378.5,186.38 379.2,186.63 379.8,187.62 380.5,188.18 381.1,188.55 381.8,188.64 382.4,189.17 383.1,189.01 383.8,189.11 384.4,189.87 385.1,190.43 385.7,189.87 386.4,191.06" fill="none" stroke="#f8b080" stroke-width="1.6" opacity="0.9" stroke-linejoin="round"/>
<polyline points="295.4,148.96 296.1,149.17 296.7,149.37 297.4,150.00 298.0,149.94 298.7,150.37 299.3,150.17 300.0,150.70 300.6,150.61 301.3,151.20 301.9,151.39 302.6,151.91 303.3,152.37 303.9,152.25 304.6,152.74 305.2,152.70 305.9,153.27 306.5,153.61 307.2,154.43 307.8,154.10 308.5,154.91 309.1,155.51 309.8,155.89 310.5,156.08 311.1,156.28 311.8,156.11 312.4,156.87 313.1,157.44 313.7,156.93 314.4,157.48 315.0,158.40 315.7,158.68 316.3,158.90 317.0,158.94 317.7,158.66 318.3,158.87 319.0,159.57 319.6,160.32 320.3,160.40 320.9,160.78 321.6,161.13 322.2,161.81 322.9,161.45 323.5,161.47 324.2,161.90 324.9,162.94 325.5,162.74 326.2,163.47 326.8,163.15 327.5,163.77 328.1,163.50 328.8,163.98 329.4,165.07 330.1,165.15 330.7,164.76 331.4,165.60 332.1,165.94 332.7,166.23 333.4,166.16 334.0,166.27 334.7,167.05 335.3,166.85 336.0,167.59 336.6,168.48 337.3,167.96 337.9,168.72 338.6,169.46 339.3,168.69 339.9,170.10 340.6,169.77 341.2,170.19 341.9,170.03 342.5,170.91 343.2,171.43 343.8,171.66 344.5,172.06 345.1,171.95 345.8,172.49 346.5,172.34 347.1,173.24 347.8,173.42 348.4,173.85 349.1,173.30 349.7,173.78 350.4,174.07 351.0,174.65 351.7,175.21 352.3,175.82 353.0,175.33 353.7,176.03 354.3,176.87 355.0,177.02 355.6,177.41 356.3,177.00 356.9,177.10 357.6,178.22 358.2,177.83 358.9,178.69 359.5,178.58 360.2,178.68 360.9,179.27 361.5,179.37 362.2,180.17 362.8,180.90 363.5,180.63 364.1,180.85 364.8,181.62 365.4,181.69 366.1,182.09 366.7,182.73 367.4,182.71 368.0,182.93 368.7,183.13 369.4,183.18 370.0,183.84 370.7,183.47 371.3,183.97 372.0,184.15 372.6,184.73 373.3,185.06 373.9,185.53 374.6,185.53 375.2,186.34 375.9,186.38 376.6,186.59 377.2,187.08 377.9,187.67 378.5,188.22 379.2,188.51 379.8,188.51 380.5,188.56 381.1,188.65 381.8,189.02 382.4,189.80 383.1,189.38 383.8,190.45 384.4,190.25 385.1,191.30 385.7,190.82 386.4,191.22" fill="none" stroke="#f08020" stroke-width="1.1" opacity="1.0" stroke-linejoin="round"/>
<polyline points="295.4,147.68 296.1,148.03 296.7,148.50 297.4,148.69 298.0,149.08 298.7,149.48 299.3,150.10 300.0,150.17 300.6,150.19 301.3,151.00 301.9,150.74 302.6,151.38 303.3,151.81 303.9,152.42 304.6,152.43 305.2,152.90 305.9,152.84 306.5,152.96 307.2,153.26 307.8,153.79 308.5,154.28 309.1,154.80 309.8,154.66 310.5,155.07 311.1,155.25 311.8,155.83 312.4,155.74 313.1,156.57 313.7,156.80 314.4,157.14 315.0,157.17 315.7,157.27 316.3,158.14 317.0,158.09 317.7,158.29 318.3,159.02 319.0,159.46 319.6,159.37 320.3,159.48 320.9,159.75 321.6,160.17 322.2,160.72 322.9,161.02 323.5,161.25 324.2,161.27 324.9,162.04 325.5,162.37 326.2,162.42 326.8,162.45 327.5,163.36 328.1,163.79 328.8,164.04 329.4,164.00 330.1,164.27 330.7,164.91 331.4,165.21 332.1,165.20 332.7,165.47 333.4,165.74 334.0,166.02 334.7,166.85 335.3,166.83 336.0,166.86 336.6,167.08 337.3,167.88 337.9,167.78 338.6,168.24 339.3,168.33 339.9,169.18 340.6,169.13 341.2,169.32 341.9,169.91 342.5,170.51 343.2,170.75 343.8,171.09 344.5,171.44 345.1,171.71 345.8,171.65 346.5,172.36 347.1,172.16 347.8,172.48 348.4,172.73 349.1,173.05 349.7,173.43 350.4,173.57 351.0,173.85 351.7,174.42 352.3,174.46 353.0,175.44 353.7,175.75 354.3,176.09 355.0,176.28 355.6,176.46 356.3,176.70 356.9,176.84 357.6,177.10 358.2,177.92 358.9,177.98 359.5,178.18 360.2,178.62 360.9,179.12 361.5,179.06 362.2,179.54 362.8,179.61 363.5,180.06 364.1,180.01 364.8,180.33 365.4,181.32 366.1,181.09 366.7,181.43 367.4,182.07 368.0,182.51 368.7,182.54 369.4,182.94 370.0,182.95 370.7,183.12 371.3,183.85 372.0,184.23 372.6,184.37 373.3,184.53 373.9,184.76 374.6,185.24 375.2,185.76 375.9,186.04 376.6,185.95 377.2,186.51 377.9,187.18 378.5,187.20 379.2,187.65 379.8,187.63 380.5,188.40 381.1,188.55 381.8,189.00 382.4,189.01 383.1,188.92 383.8,189.57 384.4,190.00 385.1,189.89 385.7,190.85 386.4,190.95" fill="none" stroke="#ffffff" stroke-width="0.35" opacity="0.55" stroke-linejoin="round"/>
<polyline points="295.4,147.22 296.1,148.54 296.7,147.74 297.4,148.51 298.0,149.21 298.7,149.12 299.3,149.06 300.0,149.39 300.6,149.44 301.3,150.30 301.9,150.30 302.6,149.50 303.3,150.45 303.9,150.64 304.6,151.39 305.2,151.35 305.9,150.66 306.5,151.25 307.2,151.73 307.8,152.57 308.5,152.34 309.1,152.04 309.8,152.73 310.5,152.75 311.1,152.55 311.8,153.13 312.4,153.37 313.1,154.41 313.7,154.66 314.4,153.85 315.0,154.51 315.7,154.06 316.3,154.30 317.0,154.36 317.7,155.26 318.3,154.59 319.0,155.10 319.6,155.09 320.3,156.28 320.9,155.60 321.6,156.26 322.2,155.69 322.9,155.83 323.5,157.07 324.2,156.96 324.9,157.34 325.5,157.25 326.2,157.68 326.8,157.34 327.5,158.25 328.1,158.36 328.8,158.15 329.4,158.84 330.1,158.60 330.7,158.08 331.4,158.27 332.1,159.38 332.7,159.80 333.4,158.88 334.0,158.87 334.7,159.54 335.3,160.34 336.0,160.38 336.6,159.63 337.3,159.78 337.9,161.19 338.6,161.16 339.3,161.00 339.9,161.33 340.6,160.77 341.2,161.39 341.9,160.94 342.5,161.89 343.2,161.49 343.8,160.97 344.5,161.44 345.1,162.37 345.8,162.44 346.5,161.82 347.1,162.28 347.8,162.39 348.4,162.34 349.1,162.30 349.7,161.88 350.4,162.97 351.0,162.62 351.7,163.14 352.3,162.85 353.0,162.70 353.7,163.61 354.3,163.24 355.0,163.03 355.6,164.08 356.3,163.14 356.9,163.72 357.6,163.71 358.2,163.66 358.9,163.51 359.5,164.62 360.2,164.11 360.9,164.84 361.5,164.47 362.2,164.62 362.8,165.16 363.5,164.89 364.1,164.78 364.8,164.60 365.4,164.33 366.1,165.19 366.7,165.07 367.4,164.92 368.0,164.72 368.7,164.80 369.4,164.85 370.0,165.88 370.7,166.16 371.3,165.22 372.0,166.48 372.6,166.08 373.3,165.79 373.9,166.17 374.6,166.46 375.2,165.83 375.9,166.78 376.6,166.54 377.2,166.26 377.9,167.30 378.5,167.11 379.2,167.02 379.8,167.02 380.5,167.60 381.1,167.37 381.8,168.00 382.4,168.07 383.1,167.82 383.8,168.19 384.4,167.17 385.1,168.23 385.7,168.31 386.4,167.72" fill="none" stroke="#a8d8f4" stroke-width="1.6" opacity="0.9" stroke-linejoin="round"/>
<polyline points="295.4,148.33 296.1,149.12 296.7,148.68 297.4,149.15 298.0,149.65 298.7,149.60 299.3,150.27 300.0,150.48 300.6,149.99 301.3,150.73 301.9,150.42 302.6,151.49 303.3,151.76 303.9,152.09 304.6,151.52 305.2,151.95 305.9,152.82 306.5,153.01 307.2,152.33 307.8,152.94 308.5,152.73 309.1,153.92 309.8,153.51 310.5,154.29 311.1,153.81 311.8,154.17 312.4,154.40 313.1,155.08 313.7,154.46 314.4,155.64 315.0,155.87 315.7,155.32 316.3,156.19 317.0,156.39 317.7,156.11 318.3,156.07 319.0,155.96 319.6,156.34 320.3,157.27 320.9,156.78 321.6,156.72 322.2,157.74 322.9,157.18 323.5,157.93 324.2,158.06 324.9,158.58 325.5,157.88 326.2,158.34 326.8,158.06 327.5,158.75 328.1,159.28 328.8,159.39 329.4,159.51 330.1,158.89 330.7,159.93 331.4,160.24 332.1,160.11 332.7,160.61 333.4,160.38 334.0,160.33 334.7,160.47 335.3,161.20 336.0,161.42 336.6,161.18 337.3,161.13 337.9,161.59 338.6,161.61 339.3,161.40 339.9,162.40 340.6,162.36 341.2,162.19 341.9,162.24 342.5,161.92 343.2,162.42 343.8,162.40 344.5,162.78 345.1,162.45 345.8,162.49 346.5,163.23 347.1,163.54 347.8,163.47 348.4,163.45 349.1,162.93 349.7,163.76 350.4,163.43 351.0,163.52 351.7,163.25 352.3,164.33 353.0,163.67 353.7,164.27 354.3,164.65 355.0,164.13 355.6,163.98 356.3,164.39 356.9,165.11 357.6,164.13 358.2,164.92 358.9,164.72 359.5,164.72 360.2,165.36 360.9,165.29 361.5,165.48 362.2,165.85 362.8,165.99 363.5,165.33 364.1,165.79 364.8,165.35 365.4,166.39 366.1,166.21 366.7,166.45 367.4,165.66 368.0,165.94 368.7,165.92 369.4,166.47 370.0,167.04 370.7,166.78 371.3,167.10 372.0,167.43 372.6,166.90 373.3,167.32 373.9,167.64 374.6,167.27 375.2,166.87 375.9,166.96 376.6,167.62 377.2,168.14 377.9,167.47 378.5,168.33 379.2,167.93 379.8,168.56 380.5,167.61 381.1,168.23 381.8,168.45 382.4,168.74 383.1,168.52 383.8,168.13 384.4,168.86 385.1,169.21 385.7,168.96 386.4,168.59" fill="none" stroke="#5ab4ec" stroke-width="1.1" opacity="1.0" stroke-linejoin="round"/>
<polyline points="295.4,148.12 296.1,148.15 296.7,148.16 297.4,148.85 298.0,148.70 298.7,149.14 299.3,149.67 300.0,149.97 300.6,149.51 301.3,150.10 301.9,150.35 302.6,150.21 303.3,150.70 303.9,150.99 304.6,151.38 305.2,151.25 305.9,151.86 306.5,151.92 307.2,151.92 307.8,152.27 308.5,152.86 309.1,153.04 309.8,152.88 310.5,153.08 311.1,153.80 311.8,153.33 312.4,154.23 313.1,154.43 313.7,154.72 314.4,154.65 315.0,154.69 315.7,154.68 316.3,155.39 317.0,155.15 317.7,155.79 318.3,155.60 319.0,156.03 319.6,156.12 320.3,156.54 320.9,156.19 321.6,156.83 322.2,156.51 322.9,157.02 323.5,157.00 324.2,157.14 324.9,157.43 325.5,157.31 326.2,157.45 326.8,158.12 327.5,158.25 328.1,158.01 328.8,158.76 329.4,158.72 330.1,158.90 330.7,158.64 331.4,159.47 332.1,159.24 332.7,159.33 333.4,159.53 334.0,160.27 334.7,159.72 335.3,160.38 336.0,160.14 336.6,160.46 337.3,160.83 337.9,160.68 338.6,160.98 339.3,161.42 339.9,161.22 340.6,161.50 341.2,161.44 341.9,161.62 342.5,161.57 343.2,162.17 343.8,162.01 344.5,162.49 345.1,161.98 345.8,162.09 346.5,162.14 347.1,162.86 347.8,162.58 348.4,162.72 349.1,163.10 349.7,163.13 350.4,162.63 351.0,162.83 351.7,163.41 352.3,163.05 353.0,163.28 353.7,163.59 354.3,163.49 355.0,163.91 355.6,163.98 356.3,164.28 356.9,163.88 357.6,164.04 358.2,164.01 358.9,164.30 359.5,164.45 360.2,164.65 360.9,164.42 361.5,164.80 362.2,164.72 362.8,164.70 363.5,165.04 364.1,164.95 364.8,165.54 365.4,165.48 366.1,165.13 366.7,165.77 367.4,165.94 368.0,166.08 368.7,165.59 369.4,166.20 370.0,166.03 370.7,166.15 371.3,165.96 372.0,166.32 372.6,166.38 373.3,166.87 373.9,166.37 374.6,166.49 375.2,166.70 375.9,166.64 376.6,166.91 377.2,166.93 377.9,166.92 378.5,167.20 379.2,167.77 379.8,167.20 380.5,167.22 381.1,167.93 381.8,168.13 382.4,168.02 383.1,168.31 383.8,168.20 384.4,168.51 385.1,168.51 385.7,168.78 386.4,168.55" fill="none" stroke="#ffffff" stroke-width="0.35" opacity="0.55" stroke-linejoin="round"/>
<polyline points="295.4,147.91 296.1,147.52 296.7,148.18 297.4,148.68 298.0,147.80 298.7,148.07 299.3,148.55 300.0,149.38 300.6,149.32 301.3,149.45 301.9,149.70 302.6,150.41 303.3,150.02 303.9,149.79 304.6,150.09 305.2,150.06 305.9,150.49 306.5,150.57 307.2,150.62 307.8,150.75 308.5,151.11 309.1,151.82 309.8,151.68 310.5,151.88 311.1,151.77 311.8,152.19 312.4,152.75 313.1,153.29 313.7,153.29 314.4,153.58 315.0,153.16 315.7,153.20 316.3,154.15 317.0,153.85 317.7,153.60 318.3,154.40 319.0,154.94 319.6,154.41 320.3,154.90 320.9,155.36 321.6,155.33 322.2,155.87 322.9,155.84 323.5,155.63 324.2,156.23 324.9,156.53 325.5,155.95 326.2,155.56 326.8,155.89 327.5,156.75 328.1,156.10 328.8,157.41 329.4,157.48 330.1,157.83 330.7,157.93 331.4,157.35 332.1,157.31 332.7,157.85 333.4,157.57 334.0,158.21 334.7,157.74 335.3,158.33 336.0,158.59 336.6,159.25 337.3,159.06 337.9,159.21 338.6,158.85 339.3,159.82 339.9,159.82 340.6,159.18 341.2,160.27 341.9,159.71 342.5,160.21 343.2,159.68 343.8,159.85 344.5,160.60 345.1,159.81 345.8,160.32 346.5,160.51 347.1,159.86 347.8,160.04 348.4,160.75 349.1,160.32 349.7,161.15 350.4,160.68 351.0,161.35 351.7,160.67 352.3,160.37 353.0,160.82 353.7,161.70 354.3,161.13 355.0,161.26 355.6,161.37 356.3,161.84 356.9,161.74 357.6,161.58 358.2,162.17 358.9,161.43 359.5,162.08 360.2,162.09 360.9,162.44 361.5,162.22 362.2,161.44 362.8,162.38 363.5,162.72 364.1,162.46 364.8,161.72 365.4,162.95 366.1,162.68 366.7,162.94 367.4,162.37 368.0,162.74 368.7,163.31 369.4,162.34 370.0,163.14 370.7,162.73 371.3,163.12 372.0,162.62 372.6,163.80 373.3,163.64 373.9,163.64 374.6,163.74 375.2,163.06 375.9,163.56 376.6,163.85 377.2,163.70 377.9,163.32 378.5,163.76 379.2,164.00 379.8,163.79 380.5,163.92 381.1,164.28 381.8,164.33 382.4,164.80 383.1,164.45 383.8,163.93 384.4,164.78 385.1,164.77 385.7,164.52 386.4,164.61" fill="none" stroke="#7a9ad8" stroke-width="1.6" opacity="0.9" stroke-linejoin="round"/>
<polyline points="295.4,148.99 296.1,148.87 296.7,148.73 297.4,149.73 298.0,149.84 298.7,149.28 299.3,149.30 300.0,150.47 300.6,150.65 301.3,150.21 301.9,150.80 302.6,150.56 303.3,151.48 303.9,151.18 304.6,151.72 305.2,151.71 305.9,151.48 306.5,151.89 307.2,151.68 307.8,151.89 308.5,152.34 309.1,152.27 309.8,153.24 310.5,153.09 311.1,153.47 311.8,153.30 312.4,154.10 313.1,153.39 313.7,154.18 314.4,153.88 315.0,153.86 315.7,154.03 316.3,154.83 317.0,154.45 317.7,154.45 318.3,155.62 319.0,155.07 319.6,155.25 320.3,155.73 320.9,156.10 321.6,156.39 322.2,156.28 322.9,155.83 323.5,156.61 324.2,156.95 324.9,156.69 325.5,157.06 326.2,157.02 326.8,157.37 327.5,157.73 328.1,158.18 328.8,157.44 329.4,157.79 330.1,158.43 330.7,158.30 331.4,158.37 332.1,158.62 332.7,158.32 333.4,158.63 334.0,159.34 334.7,159.47 335.3,159.31 336.0,160.00 336.6,159.26 337.3,160.46 337.9,160.10 338.6,160.52 339.3,160.39 339.9,161.04 340.6,160.90 341.2,160.09 341.9,160.39 342.5,161.13 343.2,160.93 343.8,161.49 344.5,161.46 345.1,161.45 345.8,160.60 346.5,161.46 347.1,161.61 347.8,161.89 348.4,161.91 349.1,160.96 349.7,161.33 350.4,161.19 351.0,161.36 351.7,161.50 352.3,162.19 353.0,162.36 353.7,162.31 354.3,162.63 355.0,162.57 355.6,162.01 356.3,162.35 356.9,162.98 357.6,162.71 358.2,162.15 358.9,162.22 359.5,162.44 360.2,162.51 360.9,162.37 361.5,162.86 362.2,163.13 362.8,162.99 363.5,163.40 364.1,163.76 364.8,163.57 365.4,163.41 366.1,163.88 366.7,164.00 367.4,163.88 368.0,163.81 368.7,163.20 369.4,163.82 370.0,163.48 370.7,163.67 371.3,163.92 372.0,164.30 372.6,164.29 373.3,164.46 373.9,164.16 374.6,163.98 375.2,164.12 375.9,164.77 376.6,165.02 377.2,165.25 377.9,164.66 378.5,165.15 379.2,165.48 379.8,165.21 380.5,165.36 381.1,165.47 381.8,165.00 382.4,165.17 383.1,165.60 383.8,165.15 384.4,165.83 385.1,165.07 385.7,166.08 386.4,165.60" fill="none" stroke="#2a4aa8" stroke-width="1.1" opacity="1.0" stroke-linejoin="round"/>
<polyline points="295.4,147.87 296.1,148.04 296.7,148.43 297.4,148.32 298.0,148.70 298.7,148.85 299.3,149.52 300.0,149.63 300.6,149.60 301.3,149.74 301.9,150.28 302.6,149.97 303.3,150.47 303.9,150.56 304.6,150.72 305.2,150.67 305.9,151.28 306.5,151.27 307.2,151.43 307.8,151.59 308.5,152.05 309.1,152.27 309.8,152.31 310.5,152.40 311.1,152.56 311.8,153.15 312.4,153.10 313.1,153.21 313.7,153.69 314.4,153.94 315.0,153.46 315.7,154.33 316.3,154.12 317.0,154.44 317.7,154.81 318.3,154.79 319.0,155.04 319.6,155.01 320.3,154.78 320.9,155.59 321.6,155.54 322.2,155.44 322.9,155.66 323.5,156.29 324.2,156.29 324.9,156.41 325.5,156.10 326.2,156.62 326.8,156.92 327.5,156.91 328.1,157.07 328.8,157.50 329.4,157.26 330.1,157.38 330.7,157.73 331.4,157.85 332.1,157.83 332.7,157.85 333.4,158.28 334.0,158.89 334.7,158.69 335.3,158.73 336.0,159.15 336.6,159.04 337.3,159.45 337.9,159.42 338.6,159.59 339.3,159.71 339.9,159.60 340.6,159.84 341.2,159.91 341.9,159.99 342.5,160.43 343.2,160.20 343.8,160.27 344.5,160.78 345.1,160.32 345.8,160.80 346.5,160.67 347.1,160.71 347.8,160.63 348.4,160.67 349.1,160.98 349.7,160.68 350.4,161.14 351.0,161.12 351.7,160.86 352.3,161.45 353.0,161.23 353.7,161.11 354.3,161.86 355.0,161.40 355.6,161.57 356.3,161.73 356.9,161.61 357.6,161.62 358.2,162.25 358.9,162.06 359.5,162.03 360.2,162.04 360.9,161.91 361.5,162.11 362.2,162.16 362.8,162.83 363.5,162.62 364.1,162.32 364.8,162.36 365.4,162.58 366.1,162.98 366.7,162.72 367.4,162.98 368.0,162.95 368.7,163.04 369.4,162.94 370.0,163.13 370.7,163.00 371.3,163.45 372.0,163.52 372.6,163.47 373.3,163.61 373.9,164.08 374.6,163.45 375.2,164.02 375.9,163.95 376.6,164.38 377.2,164.34 377.9,163.84 378.5,164.42 379.2,164.48 379.8,164.15 380.5,164.67 381.1,164.41 381.8,164.56 382.4,164.38 383.1,164.78 383.8,164.97 384.4,165.09 385.1,165.09 385.7,165.44 386.4,165.42" fill="none" stroke="#ffffff" stroke-width="0.35" opacity="0.55" stroke-linejoin="round"/>
<polyline points="295.4,148.12 296.1,148.11 296.7,147.70 297.4,147.68 298.0,148.69 298.7,149.05 299.3,149.20 300.0,148.96 300.6,149.37 301.3,150.08 301.9,149.74 302.6,150.30 303.3,150.68 303.9,150.02 304.6,151.16 305.2,150.92 305.9,150.68 306.5,151.20 307.2,150.96 307.8,151.93 308.5,151.29 309.1,152.73 309.8,151.70 310.5,152.41 311.1,153.05 311.8,152.77 312.4,151.85 313.1,152.29 313.7,152.33 314.4,152.29 315.0,153.45 315.7,153.11 316.3,152.97 317.0,152.43 317.7,152.50 318.3,153.60 319.0,152.53 319.6,153.18 320.3,153.59 320.9,153.96 321.6,153.56 322.2,153.50 322.9,153.66 323.5,153.92 324.2,153.07 324.9,153.73 325.5,153.98 326.2,153.36 326.8,154.11 327.5,153.88 328.1,154.34 328.8,154.17 329.4,153.16 330.1,153.69 330.7,153.85 331.4,153.66 332.1,153.68 332.7,153.91 333.4,154.14 334.0,154.46 334.7,154.64 335.3,154.53 336.0,154.17 336.6,154.72 337.3,153.84 337.9,154.32 338.6,154.48 339.3,154.39 339.9,154.17 340.6,154.58 341.2,153.74 341.9,154.27 342.5,154.86 343.2,154.86 343.8,153.79 344.5,154.24 345.1,154.66 345.8,154.11 346.5,155.05 347.1,153.93 347.8,153.89 348.4,154.29 349.1,155.15 349.7,154.66 350.4,154.13 351.0,154.49 351.7,155.04 352.3,155.03 353.0,155.29 353.7,154.69 354.3,155.18 355.0,154.85 355.6,154.27 356.3,154.29 356.9,154.87 357.6,154.50 358.2,155.41 358.9,154.33 359.5,154.47 360.2,155.01 360.9,154.49 361.5,155.32 362.2,154.42 362.8,155.34 363.5,154.55 364.1,154.69 364.8,154.59 365.4,154.89 366.1,155.81 366.7,155.55 367.4,155.07 368.0,154.75 368.7,155.09 369.4,155.99 370.0,155.60 370.7,155.63 371.3,155.89 372.0,155.84 372.6,155.47 373.3,155.69 373.9,155.86 374.6,155.69 375.2,154.99 375.9,155.50 376.6,155.31 377.2,155.09 377.9,156.35 378.5,155.22 379.2,156.31 379.8,156.20 380.5,155.49 381.1,155.50 381.8,155.71 382.4,155.93 383.1,155.62 383.8,156.05 384.4,156.39 385.1,156.38 385.7,156.55 386.4,156.68" fill="none" stroke="#8ad08a" stroke-width="1.6" opacity="0.9" stroke-linejoin="round"/>
<polyline points="295.4,148.09 296.1,148.30 296.7,149.21 297.4,149.35 298.0,149.72 298.7,149.35 299.3,149.90 300.0,150.48 300.6,149.87 301.3,150.03 301.9,151.27 302.6,151.00 303.3,151.49 303.9,151.22 304.6,151.75 305.2,152.04 305.9,152.25 306.5,152.10 307.2,152.44 307.8,152.67 308.5,152.66 309.1,153.11 309.8,152.69 310.5,153.35 311.1,153.01 311.8,152.91 312.4,153.34 313.1,153.45 313.7,153.28 314.4,153.44 315.0,154.11 315.7,153.92 316.3,154.29 317.0,154.51 317.7,153.81 318.3,154.29 319.0,154.45 319.6,154.78 320.3,154.85 320.9,154.16 321.6,154.60 322.2,154.57 322.9,154.36 323.5,154.15 324.2,154.41 324.9,155.00 325.5,154.12 326.2,155.08 326.8,154.63 327.5,154.58 328.1,155.02 328.8,154.34 329.4,154.68 330.1,154.58 330.7,155.27 331.4,154.48 332.1,155.14 332.7,154.77 333.4,154.65 334.0,155.16 334.7,155.24 335.3,155.19 336.0,154.45 336.6,154.84 337.3,155.08 337.9,155.00 338.6,154.91 339.3,155.39 339.9,155.63 340.6,155.62 341.2,155.09 341.9,155.10 342.5,154.68 343.2,155.13 343.8,154.88 344.5,154.75 345.1,155.35 345.8,155.46 346.5,155.43 347.1,155.58 347.8,155.15 348.4,155.39 349.1,155.95 349.7,155.00 350.4,155.53 351.0,155.30 351.7,155.56 352.3,155.54 353.0,155.58 353.7,156.14 354.3,156.15 355.0,155.48 355.6,155.95 356.3,156.23 356.9,155.46 357.6,155.56 358.2,155.57 358.9,156.04 359.5,156.36 360.2,155.66 360.9,156.32 361.5,155.82 362.2,155.81 362.8,156.33 363.5,156.67 364.1,156.01 364.8,155.81 365.4,156.07 366.1,155.64 366.7,156.54 367.4,155.98 368.0,156.35 368.7,156.21 369.4,156.56 370.0,156.67 370.7,156.33 371.3,156.29 372.0,155.96 372.6,156.34 373.3,156.49 373.9,156.34 374.6,156.40 375.2,156.68 375.9,156.87 376.6,156.41 377.2,156.78 377.9,157.22 378.5,157.09 379.2,156.90 379.8,156.54 380.5,156.60 381.1,156.82 381.8,156.47 382.4,157.07 383.1,157.06 383.8,156.63 384.4,156.74 385.1,157.06 385.7,156.54 386.4,157.58" fill="none" stroke="#1e9a30" stroke-width="1.1" opacity="1.0" stroke-linejoin="round"/>
<polyline points="295.4,148.00 296.1,147.96 296.7,148.16 297.4,148.91 298.0,148.64 298.7,149.07 299.3,148.97 300.0,149.65 300.6,149.60 301.3,149.83 301.9,149.78 302.6,150.50 303.3,150.67 303.9,151.09 304.6,150.87 305.2,151.55 305.9,151.16 306.5,151.92 307.2,152.10 307.8,151.72 308.5,152.29 309.1,152.30 309.8,152.75 310.5,152.90 311.1,152.87 311.8,152.46 312.4,153.14 313.1,152.65 313.7,152.74 314.4,152.96 315.0,153.35 315.7,153.06 316.3,152.99 317.0,153.30 317.7,153.66 318.3,153.43 319.0,153.22 319.6,153.58 320.3,153.99 320.9,154.01 321.6,153.75 322.2,154.27 322.9,154.37 323.5,154.14 324.2,154.26 324.9,154.09 325.5,154.44 326.2,154.08 326.8,154.01 327.5,154.31 328.1,154.12 328.8,154.19 329.4,154.00 330.1,154.19 330.7,154.16 331.4,154.24 332.1,154.06 332.7,154.64 333.4,154.65 334.0,154.08 334.7,154.13 335.3,154.79 336.0,154.12 336.6,154.36 337.3,154.19 337.9,154.33 338.6,154.60 339.3,154.83 339.9,154.35 340.6,154.42 341.2,154.63 341.9,154.81 342.5,154.76 343.2,154.35 343.8,154.74 344.5,154.96 345.1,154.39 345.8,154.42 346.5,155.07 347.1,155.08 347.8,154.69 348.4,154.99 349.1,154.94 349.7,154.81 350.4,155.15 351.0,154.93 351.7,155.26 352.3,155.27 353.0,155.05 353.7,155.17 354.3,154.83 355.0,155.44 355.6,154.87 356.3,155.40 356.9,155.37 357.6,155.58 358.2,155.44 358.9,154.95 359.5,155.46 360.2,155.12 360.9,155.03 361.5,155.28 362.2,155.70 362.8,155.54 363.5,155.77 364.1,155.73 364.8,155.69 365.4,155.85 366.1,155.48 366.7,155.63 367.4,155.83 368.0,155.89 368.7,156.00 369.4,156.05 370.0,155.82 370.7,156.13 371.3,155.81 372.0,156.05 372.6,155.67 373.3,156.09 373.9,155.66 374.6,155.62 375.2,155.66 375.9,156.23 376.6,155.71 377.2,156.09 377.9,155.80 378.5,156.15 379.2,156.12 379.8,156.36 380.5,156.00 381.1,156.33 381.8,155.96 382.4,156.12 383.1,156.36 383.8,156.70 384.4,156.54 385.1,156.45 385.7,156.52 386.4,156.38" fill="none" stroke="#ffffff" stroke-width="0.35" opacity="0.55" stroke-linejoin="round"/>
<polyline points="295.4,148.31 296.1,147.58 296.7,146.89 297.4,146.70 298.0,146.95 298.7,146.85 299.3,146.85 300.0,146.20 300.6,146.73 301.3,147.47 301.9,147.72 302.6,147.41 303.3,148.24 303.9,148.47 304.6,149.16 305.2,148.98 305.9,149.51 306.5,149.19 307.2,149.41 307.8,149.59 308.5,149.65 309.1,150.88 309.8,150.84 310.5,150.48 311.1,149.82 311.8,150.18 312.4,150.59 313.1,150.80 313.7,150.60 314.4,150.77 315.0,150.75 315.7,149.93 316.3,150.68 317.0,150.71 317.7,150.10 318.3,150.76 319.0,149.81 319.6,150.06 320.3,149.75 320.9,149.95 321.6,149.95 322.2,150.58 322.9,150.37 323.5,150.42 324.2,150.36 324.9,149.62 325.5,150.22 326.2,149.69 326.8,149.88 327.5,150.58 328.1,150.37 328.8,149.83 329.4,149.50 330.1,150.22 330.7,150.16 331.4,149.94 332.1,149.79 332.7,149.80 333.4,149.08 334.0,149.47 334.7,149.88 335.3,149.75 336.0,149.49 336.6,149.92 337.3,149.56 337.9,149.97 338.6,149.12 339.3,148.80 339.9,148.69 340.6,149.02 341.2,149.24 341.9,148.92 342.5,148.86 343.2,149.30 343.8,148.73 344.5,148.71 345.1,149.05 345.8,148.64 346.5,148.03 347.1,148.22 347.8,148.57 348.4,148.62 349.1,148.02 349.7,148.05 350.4,148.32 351.0,148.01 351.7,148.03 352.3,147.65 353.0,147.24 353.7,147.85 354.3,147.55 355.0,147.45 355.6,147.23 356.3,147.73 356.9,147.65 357.6,146.66 358.2,147.64 358.9,146.84 359.5,147.34 360.2,146.95 360.9,146.93 361.5,147.14 362.2,147.14 362.8,145.99 363.5,147.15 364.1,146.93 364.8,146.03 365.4,146.45 366.1,146.60 366.7,145.73 367.4,145.36 368.0,146.33 368.7,145.57 369.4,145.90 370.0,145.00 370.7,145.46 371.3,144.97 372.0,145.20 372.6,145.84 373.3,145.33 373.9,144.89 374.6,145.55 375.2,145.56 375.9,144.25 376.6,144.25 377.2,144.54 377.9,145.25 378.5,144.30 379.2,143.83 379.8,144.02 380.5,144.03 381.1,144.32 381.8,143.97 382.4,143.49 383.1,143.98 383.8,144.47 384.4,144.29 385.1,143.11 385.7,143.36 386.4,142.96" fill="none" stroke="#f0a0a8" stroke-width="1.6" opacity="0.9" stroke-linejoin="round"/>
<polyline points="295.4,149.02 296.1,148.96 296.7,148.18 297.4,148.37 298.0,148.22 298.7,148.38 299.3,147.65 300.0,147.52 300.6,147.83 301.3,148.47 301.9,148.70 302.6,149.10 303.3,149.32 303.9,149.78 304.6,149.91 305.2,149.63 305.9,150.12 306.5,151.19 307.2,150.86 307.8,150.86 308.5,151.41 309.1,150.78 309.8,150.72 310.5,151.73 311.1,151.09 311.8,151.37 312.4,151.27 313.1,151.17 313.7,150.81 314.4,151.08 315.0,150.78 315.7,151.52 316.3,150.89 317.0,151.36 317.7,151.60 318.3,150.88 319.0,151.14 319.6,151.55 320.3,150.77 320.9,151.24 321.6,151.03 322.2,150.67 322.9,151.43 323.5,151.17 324.2,151.13 324.9,151.40 325.5,151.07 326.2,150.52 326.8,150.80 327.5,151.26 328.1,150.73 328.8,150.77 329.4,151.02 330.1,150.63 330.7,150.93 331.4,150.42 332.1,150.84 332.7,150.29 333.4,150.86 334.0,150.97 334.7,150.74 335.3,150.94 336.0,150.03 336.6,149.85 337.3,150.48 337.9,150.65 338.6,149.86 339.3,149.86 339.9,150.50 340.6,150.35 341.2,150.05 341.9,150.40 342.5,150.24 343.2,149.95 343.8,150.20 344.5,150.09 345.1,149.49 345.8,149.77 346.5,148.98 347.1,148.85 347.8,149.11 348.4,149.50 349.1,148.86 349.7,149.28 350.4,148.59 351.0,149.03 351.7,148.65 352.3,148.50 353.0,148.49 353.7,148.35 354.3,148.76 355.0,148.91 355.6,148.58 356.3,147.82 356.9,148.82 357.6,148.46 358.2,148.35 358.9,148.13 359.5,147.55 360.2,148.29 360.9,148.30 361.5,148.31 362.2,147.85 362.8,147.32 363.5,147.55 364.1,147.24 364.8,147.31 365.4,147.40 366.1,147.26 366.7,147.61 367.4,146.46 368.0,146.63 368.7,147.29 369.4,147.08 370.0,146.32 370.7,146.55 371.3,146.19 372.0,146.10 372.6,146.72 373.3,145.85 373.9,146.49 374.6,146.47 375.2,145.68 375.9,145.52 376.6,146.03 377.2,145.85 377.9,145.36 378.5,145.78 379.2,145.52 379.8,144.80 380.5,145.72 381.1,144.69 381.8,144.67 382.4,144.46 383.1,145.25 383.8,145.22 384.4,144.85 385.1,145.08 385.7,144.12 386.4,144.44" fill="none" stroke="#d82838" stroke-width="1.1" opacity="1.0" stroke-linejoin="round"/>
<polyline points="295.4,147.76 296.1,147.93 296.7,147.81 297.4,147.35 298.0,147.89 298.7,147.70 299.3,147.10 300.0,147.20 300.6,147.29 301.3,147.42 301.9,147.89 302.6,148.31 303.3,148.50 303.9,148.97 304.6,149.51 305.2,149.72 305.9,149.56 306.5,150.16 307.2,150.84 307.8,150.54 308.5,150.27 309.1,150.55 309.8,150.66 310.5,150.68 311.1,150.55 311.8,150.56 312.4,150.66 313.1,150.34 313.7,150.35 314.4,150.43 315.0,150.47 315.7,150.48 316.3,150.88 317.0,150.66 317.7,150.83 318.3,150.88 319.0,150.30 319.6,150.86 320.3,150.40 320.9,150.39 321.6,150.72 322.2,151.02 322.9,150.90 323.5,150.53 324.2,150.44 324.9,150.68 325.5,150.45 326.2,150.75 326.8,150.32 327.5,150.19 328.1,150.14 328.8,150.27 329.4,150.23 330.1,150.63 330.7,150.39 331.4,150.24 332.1,150.46 332.7,150.42 333.4,149.69 334.0,149.86 334.7,149.92 335.3,149.78 336.0,149.60 336.6,149.74 337.3,149.86 337.9,149.85 338.6,149.36 339.3,149.33 339.9,149.89 340.6,149.29 341.2,149.36 341.9,149.52 342.5,149.17 343.2,149.42 343.8,148.98 344.5,149.05 345.1,148.96 345.8,149.30 346.5,148.56 347.1,148.45 347.8,148.53 348.4,148.82 349.1,148.41 349.7,148.81 350.4,148.40 351.0,148.48 351.7,148.31 352.3,148.38 353.0,148.47 353.7,148.12 354.3,148.20 355.0,148.17 355.6,147.98 356.3,148.06 356.9,148.07 357.6,147.26 358.2,147.89 358.9,147.17 359.5,147.46 360.2,147.62 360.9,147.31 361.5,147.16 362.2,147.43 362.8,146.97 363.5,147.30 364.1,146.99 364.8,146.58 365.4,146.39 366.1,146.82 366.7,146.56 367.4,146.06 368.0,146.46 368.7,146.53 369.4,146.35 370.0,145.78 370.7,146.10 371.3,145.77 372.0,145.47 372.6,145.63 373.3,145.88 373.9,145.57 374.6,145.61 375.2,145.40 375.9,145.21 376.6,144.85 377.2,144.99 377.9,145.04 378.5,144.72 379.2,144.87 379.8,145.03 380.5,144.58 381.1,144.80 381.8,144.76 382.4,144.54 383.1,144.38 383.8,144.65 384.4,144.31 385.1,143.76 385.7,144.02 386.4,144.05" fill="none" stroke="#ffffff" stroke-width="0.35" opacity="0.55" stroke-linejoin="round"/>
<line x1="340.3" y1="139.6" x2="340.3" y2="169.6" stroke="#fff" stroke-width="0.5" opacity="0.8"/>
<path d="M 340.3 190.3 L 340.3 177.5" stroke="#222" stroke-width="0.5"/><path d="M 339.2 178.6 L 340.3 175.3 L 341.4 178.6 Z" fill="#222"/>
<text x="333.4" y="197.6" font-size="4.7" font-weight="normal" fill="#222" text-anchor="start" textLength="35.7" lengthAdjust="spacingAndGlyphs" stroke="#222" stroke-width="0.18" >Medium exchange</text>
<line x1="301" y1="186.1" x2="310.3" y2="186.1" stroke="#f08a28" stroke-width="1.1"/>
<text x="313.3" y="187.7" font-size="4.7" font-weight="normal" fill="#222" text-anchor="start" stroke="#222" stroke-width="0.18" >Control</text>
<line x1="301" y1="190.7" x2="310.3" y2="190.7" stroke="#2a4aa8" stroke-width="1.1"/>
<text x="313.3" y="192.29999999999998" font-size="4.7" font-weight="normal" fill="#222" text-anchor="start" stroke="#222" stroke-width="0.18" >0.1 μM</text>
<line x1="301" y1="196.0" x2="310.3" y2="196.0" stroke="#2a9a3a" stroke-width="1.1"/>
<text x="313.3" y="197.6" font-size="4.7" font-weight="normal" fill="#222" text-anchor="start" stroke="#222" stroke-width="0.18" >1 μM</text>
<line x1="301" y1="200.9" x2="310.3" y2="200.9" stroke="#d8283a" stroke-width="1.1"/>
<text x="313.3" y="202.5" font-size="4.7" font-weight="normal" fill="#222" text-anchor="start" stroke="#222" stroke-width="0.18" >10 μM</text>
<rect x="438.6" y="134.2" width="91.19999999999993" height="68.4" fill="none" stroke="#333" stroke-width="0.6"/>
<line x1="438.6" y1="202.6" x2="439.90000000000003" y2="202.6" stroke="#333" stroke-width="0.5"/><line x1="528.5" y1="202.6" x2="529.8" y2="202.6" stroke="#333" stroke-width="0.5"/>
<text x="436.90000000000003" y="204.29999999999998" font-size="4.8" font-weight="normal" fill="#333" text-anchor="end" stroke="#333" stroke-width="0.18" >0</text>
<line x1="438.6" y1="191.2" x2="439.90000000000003" y2="191.2" stroke="#333" stroke-width="0.5"/><line x1="528.5" y1="191.2" x2="529.8" y2="191.2" stroke="#333" stroke-width="0.5"/>
<text x="436.90000000000003" y="192.89999999999998" font-size="4.8" font-weight="normal" fill="#333" text-anchor="end" stroke="#333" stroke-width="0.18" >20</text>
<line x1="438.6" y1="179.8" x2="439.90000000000003" y2="179.8" stroke="#333" stroke-width="0.5"/><line x1="528.5" y1="179.8" x2="529.8" y2="179.8" stroke="#333" stroke-width="0.5"/>
<text x="436.90000000000003" y="181.49999999999997" font-size="4.8" font-weight="normal" fill="#333" text-anchor="end" stroke="#333" stroke-width="0.18" >40</text>
<line x1="438.6" y1="168.4" x2="439.90000000000003" y2="168.4" stroke="#333" stroke-width="0.5"/><line x1="528.5" y1="168.4" x2="529.8" y2="168.4" stroke="#333" stroke-width="0.5"/>
<text x="436.90000000000003" y="170.09999999999997" font-size="4.8" font-weight="normal" fill="#333" text-anchor="end" stroke="#333" stroke-width="0.18" >60</text>
<line x1="438.6" y1="157.0" x2="439.90000000000003" y2="157.0" stroke="#333" stroke-width="0.5"/><line x1="528.5" y1="157.0" x2="529.8" y2="157.0" stroke="#333" stroke-width="0.5"/>
<text x="436.90000000000003" y="158.7" font-size="4.8" font-weight="normal" fill="#333" text-anchor="end" stroke="#333" stroke-width="0.18" >80</text>
<line x1="438.6" y1="145.6" x2="439.90000000000003" y2="145.6" stroke="#333" stroke-width="0.5"/><line x1="528.5" y1="145.6" x2="529.8" y2="145.6" stroke="#333" stroke-width="0.5"/>
<text x="436.90000000000003" y="147.29999999999998" font-size="4.8" font-weight="normal" fill="#333" text-anchor="end" stroke="#333" stroke-width="0.18" >100</text>
<line x1="438.6" y1="134.2" x2="439.90000000000003" y2="134.2" stroke="#333" stroke-width="0.5"/><line x1="528.5" y1="134.2" x2="529.8" y2="134.2" stroke="#333" stroke-width="0.5"/>
<text x="436.90000000000003" y="135.89999999999998" font-size="4.8" font-weight="normal" fill="#333" text-anchor="end" stroke="#333" stroke-width="0.18" >120</text>
<rect x="446.3" y="145.60" width="16.5" height="57.00" fill="#f27e08" stroke="#222" stroke-width="0.35"/>
<path d="M 454.55 141.61 L 454.55 149.59 M 453.05 141.61 L 456.05 141.61 M 453.05 149.59 L 456.05 149.59" stroke="#222" stroke-width="0.45"/>
<text x="454.55" y="210.2" font-size="5.3" font-weight="normal" fill="#222" text-anchor="middle" stroke="#222" stroke-width="0.18" >Control</text>
<rect x="466.8" y="170.11" width="16.0" height="32.49" fill="#1f4aa8" stroke="#222" stroke-width="0.35"/>
<path d="M 474.8 166.97 L 474.8 173.25 M 473.3 166.97 L 476.3 166.97 M 473.3 173.25 L 476.3 173.25" stroke="#222" stroke-width="0.45"/>
<text x="474.8" y="210.2" font-size="5.3" font-weight="normal" fill="#222" text-anchor="middle" stroke="#222" stroke-width="0.18" >0.1 μM</text>
<rect x="486.8" y="183.79" width="16.2" height="18.81" fill="#1e8a3c" stroke="#222" stroke-width="0.35"/>
<path d="M 494.9 183.50 L 494.9 184.07 M 493.4 183.50 L 496.4 183.50 M 493.4 184.07 L 496.4 184.07" stroke="#222" stroke-width="0.45"/>
<text x="494.9" y="210.2" font-size="5.3" font-weight="normal" fill="#222" text-anchor="middle" stroke="#222" stroke-width="0.18" >1 μM</text>
<rect x="506.7" y="187.21" width="16.5" height="15.39" fill="#e81020" stroke="#222" stroke-width="0.35"/>
<path d="M 514.95 186.75 L 514.95 187.67 M 513.45 186.75 L 516.45 186.75 M 513.45 187.67 L 516.45 187.67" stroke="#222" stroke-width="0.45"/>
<text x="514.95" y="210.2" font-size="5.3" font-weight="normal" fill="#222" text-anchor="middle" stroke="#222" stroke-width="0.18" >10 μM</text>
<text x="425.0" y="174.0" font-size="4.9" font-weight="normal" fill="#222" text-anchor="middle" textLength="34" lengthAdjust="spacingAndGlyphs" stroke="#222" stroke-width="0.18" transform="rotate(-90 425.0 174.0)">Cell viability (%)</text>
<text x="6.2" y="237.2" font-size="13" font-weight="bold" fill="#000" text-anchor="start" stroke="#000" stroke-width="0.18" >F</text>
<rect x="34.6" y="261.8" width="42.7" height="29.1" fill="#fbf7d6" stroke="#dcd8c0" stroke-width="0.5"/>
<rect x="84.6" y="261.4" width="32.4" height="75.6" fill="#d8ecf8" stroke="#80a4c4" stroke-width="0.5" stroke-dasharray="1.2 0.8"/>
<rect x="162" y="232.6" width="46" height="11.3" fill="#efe2f2" stroke="#9a8aa8" stroke-width="0.5" stroke-dasharray="1.2 0.8"/>
<rect x="181.5" y="253.6" width="40.2" height="57.2" fill="#e2f4e2" stroke="#8aa88a" stroke-width="0.5" stroke-dasharray="1.2 0.8"/>
<path d="M 35.5 266.3 C 40 265.5 44 268.5 48 268.7" fill="none" stroke="#222" stroke-width="0.5"/>
<path d="M 49.2 268.7 L 46.6 267.4 L 46.6 270 Z" fill="#222"/>
<line x1="49.5" y1="268.7" x2="54" y2="268.7" stroke="#555" stroke-width="0.35"/>
<text x="54.5" y="270.2" font-size="4.0" font-weight="bold" fill="#333" text-anchor="start" textLength="19.3" lengthAdjust="spacingAndGlyphs" stroke="#333" stroke-width="0.18" >Data Cable</text>
<path d="M 35.5 274.6 C 42 274.6 47 276.6 54 276.6" fill="none" stroke="#d8b478" stroke-width="1.1"/>
<text x="54.8" y="278.1" font-size="4.0" font-weight="bold" fill="#333" text-anchor="start" textLength="21.9" lengthAdjust="spacingAndGlyphs" stroke="#333" stroke-width="0.18" >Optical Fiber</text>
<rect x="36.8" y="284" width="16.5" height="2.4" fill="#f08c74"/>
<text x="54.8" y="286.3" font-size="4.0" font-weight="bold" fill="#333" text-anchor="start" textLength="20.8" lengthAdjust="spacingAndGlyphs" stroke="#333" stroke-width="0.18" >Laser Beam</text>
<path d="M 63.3 246 C 70 246 71 252 78 251.7" fill="none" stroke="#d8b478" stroke-width="0.75"/>
<path d="M 90 251 C 96 250 100 244.1 106.5 244.1" fill="none" stroke="#d8b478" stroke-width="0.75"/>
<path d="M 112 244 C 118 243 122 238.5 129 238.3" fill="none" stroke="#d8b478" stroke-width="0.75"/>
<path d="M 88 254 C 98 256 103.5 258 103.7 265.8" fill="none" stroke="#d8b478" stroke-width="0.75"/>
<path d="M 109.3 246.7 C 112 253 124 252 127.5 259.4" fill="none" stroke="#d8b478" stroke-width="0.75"/>
<path d="M 130.5 241.6 C 130.5 248 130.2 253 130.2 259.4" fill="none" stroke="#d8b478" stroke-width="0.75"/>
<path d="M 140.4 237 C 148 234 152 232.5 162 233.2" fill="none" stroke="#d8b478" stroke-width="0.75"/>
<path d="M 140.4 239.2 C 156 240 158 243 160 252 C 163 260 170 263.5 181.5 264.2" fill="none" stroke="#d8b478" stroke-width="0.75"/>
<path d="M 103.7 275.5 C 99 278 97.5 281 98.2 285.3" fill="none" stroke="#d8b478" stroke-width="0.75"/>
<path d="M 103.7 275.5 C 108 278 109.5 281 109.5 285.3" fill="none" stroke="#d8b478" stroke-width="0.75"/>
<path d="M 98.2 293.5 C 98 297 102 299 103.7 300.6" fill="none" stroke="#d8b478" stroke-width="0.75"/>
<path d="M 109.5 293.5 C 109.5 297 106 299 103.7 300.6" fill="none" stroke="#d8b478" stroke-width="0.75"/>
<path d="M 103.7 310.1 L 104.8 317.8" fill="none" stroke="#d8b478" stroke-width="0.75"/>
<path d="M 128.9 272.2 C 130 282 138 283 140 288 C 141 291 142 293 143 294" fill="none" stroke="#222" stroke-width="0.6"/>
<path d="M 141.5 300 C 128 302 126 312 124 322 C 122 330 119 333 108.5 332.5" fill="none" stroke="#222" stroke-width="0.55"/>
<path d="M 150 305.5 C 140 308 132.5 312 132.5 320 C 132.5 326 136 330 140 330" fill="none" stroke="#222" stroke-width="0.55"/>
<circle cx="138.5" cy="285" r="0.9" fill="#222"/><circle cx="127.8" cy="312" r="0.9" fill="#222"/><circle cx="133" cy="322" r="0.9" fill="#222"/>
<rect x="38.5" y="240.6" width="22.5" height="11" fill="url(#ssl)"/>
<rect x="36" y="239.8" width="4.3" height="12.4" rx="1" fill="#2a2a2a"/><rect x="59" y="239.8" width="4.3" height="12.4" rx="1" fill="#2a2a2a"/>
<text x="44.2" y="256.8" font-size="4.6" font-weight="bold" fill="#2a2a2a" text-anchor="start" textLength="10.3" lengthAdjust="spacingAndGlyphs" stroke="#2a2a2a" stroke-width="0.15">SSL</text>
<rect x="78" y="248.7" width="12" height="6" fill="url(#fcg)"/><rect x="81" y="250.89999999999998" width="6" height="1.6" fill="#7a7a30"/><rect x="78" y="248.29999999999998" width="1.6" height="6.8" fill="#222"/><rect x="88.4" y="248.29999999999998" width="1.6" height="6.8" fill="#222"/>
<text x="80.2" y="260.6" font-size="4.8" font-weight="bold" fill="#2a2a2a" text-anchor="start" stroke="#2a2a2a" stroke-width="0.15">FC</text>
<rect x="129" y="235.1" width="11.4" height="6.5" fill="url(#fcg)"/><rect x="132" y="237.54999999999998" width="5.4" height="1.6" fill="#7a7a30"/><rect x="129" y="234.7" width="1.6" height="7.3" fill="#222"/><rect x="138.8" y="234.7" width="1.6" height="7.3" fill="#222"/>
<text x="131.4" y="246.6" font-size="4.8" font-weight="bold" fill="#2a2a2a" text-anchor="start" stroke="#2a2a2a" stroke-width="0.15">FC</text>
<rect x="101" y="265.8" width="5.4" height="9.7" fill="url(#fcv)"/><rect x="103.0" y="267.8" width="1.4" height="5.699999999999999" fill="#7a7a30"/><rect x="100.6" y="265.8" width="6.2" height="1.5" fill="#222"/><rect x="100.6" y="274.0" width="6.2" height="1.5" fill="#222"/>
<text x="93.3" y="272.6" font-size="4.8" font-weight="bold" fill="#2a2a2a" text-anchor="start" stroke="#2a2a2a" stroke-width="0.15">FC</text>
<rect x="101" y="300.6" width="5.4" height="9.5" fill="url(#fcv)"/><rect x="103.0" y="302.6" width="1.4" height="5.5" fill="#7a7a30"/><rect x="100.6" y="300.6" width="6.2" height="1.5" fill="#222"/><rect x="100.6" y="308.6" width="6.2" height="1.5" fill="#222"/>
<text x="93.3" y="307.5" font-size="4.8" font-weight="bold" fill="#2a2a2a" text-anchor="start" stroke="#2a2a2a" stroke-width="0.15">FC</text>
<rect x="95.9" y="285.3" width="4.6" height="8.2" fill="url(#pcg)"/><rect x="95.5" y="285" width="5.4" height="1.1" fill="#222"/><rect x="95.5" y="292.6" width="5.4" height="1.1" fill="#222"/>
<text x="86.4" y="290.8" font-size="4.8" font-weight="bold" fill="#2a2a2a" text-anchor="start" stroke="#2a2a2a" stroke-width="0.15">PC</text>
<path d="M 107.7 285.3 L 111.3 285.3 L 109.5 288.8 Z" fill="#6a80c8"/><path d="M 107.7 293.5 L 111.3 293.5 L 109.5 290 Z" fill="#6a80c8"/><rect x="108" y="288.7" width="3" height="1.4" fill="#e07878"/>
<text x="112" y="288.2" font-size="4.4" font-weight="bold" fill="#2a2a2a" text-anchor="start" stroke="#2a2a2a" stroke-width="0.15">C</text>
<text x="112" y="295.8" font-size="4.4" font-weight="bold" fill="#2a2a2a" text-anchor="start" stroke="#2a2a2a" stroke-width="0.15">C</text>
<text x="82.6" y="296" font-size="4.6" font-weight="bold" fill="#2a2a2a" text-anchor="middle" textLength="20.5" lengthAdjust="spacingAndGlyphs" transform="rotate(-90 82.6 296)" dx="0" dy="1.6" stroke="#2a2a2a" stroke-width="0.15">MZI Clock</text>
<rect x="101" y="317.8" width="7.7" height="15.4" rx="1" fill="url(#bdg)"/><rect x="104.35" y="318.8" width="1" height="13.4" fill="#1a2a2a"/><rect x="102.2" y="318.8" width="0.7" height="13.4" fill="#3a4a4a"/><rect x="106.8" y="318.8" width="0.7" height="13.4" fill="#3a4a4a"/><rect x="100.7" y="317.8" width="8.3" height="1.3" fill="#222"/><rect x="100.7" y="331.9" width="8.3" height="1.3" fill="#222"/>
<text x="93.3" y="326" font-size="4.8" font-weight="bold" fill="#2a2a2a" text-anchor="start" stroke="#2a2a2a" stroke-width="0.15">BD</text>
<rect x="125" y="259.4" width="7.8" height="12.8" rx="1" fill="url(#bdg)"/><rect x="128.4" y="260.4" width="1" height="10.8" fill="#1a2a2a"/><rect x="126.2" y="260.4" width="0.7" height="10.8" fill="#3a4a4a"/><rect x="130.9" y="260.4" width="0.7" height="10.8" fill="#3a4a4a"/><rect x="124.7" y="259.4" width="8.4" height="1.3" fill="#222"/><rect x="124.7" y="270.9" width="8.4" height="1.3" fill="#222"/>
<text x="133.8" y="268" font-size="4.8" font-weight="bold" fill="#2a2a2a" text-anchor="start" stroke="#2a2a2a" stroke-width="0.15">BD</text>
<circle cx="109.3" cy="244.1" r="2.7" fill="#3a3a3a" stroke="#888" stroke-width="0.5"/><circle cx="108.8" cy="243.5" r="1" fill="#777"/>
<circle cx="105.6" cy="244.1" r="0.6" fill="#666"/><circle cx="113" cy="244.1" r="0.6" fill="#666"/><circle cx="109.3" cy="247.8" r="0.6" fill="#666"/>
<text x="106.4" y="239.7" font-size="4.8" font-weight="bold" fill="#2a2a2a" text-anchor="start" stroke="#2a2a2a" stroke-width="0.15">CL</text>
<line x1="168.2" y1="233.6" x2="197.4" y2="233.6" stroke="#d82828" stroke-width="1.2"/>
<path d="M 167 233.6 L 170 232.4 L 170 234.8 Z" fill="#333"/>
<rect x="190.6" y="232" width="1.4" height="4.6" fill="#444"/><rect x="199.9" y="232" width="1.4" height="5" fill="#333"/>
<text x="166.4" y="239.6" font-size="4.8" font-weight="bold" fill="#2a2a2a" text-anchor="start" stroke="#2a2a2a" stroke-width="0.15">C</text>
<text x="189" y="241.3" font-size="4.8" font-weight="bold" fill="#2a2a2a" text-anchor="start" stroke="#2a2a2a" stroke-width="0.15">O</text>
<text x="197.8" y="241.4" font-size="4.8" font-weight="bold" fill="#2a2a2a" text-anchor="start" stroke="#2a2a2a" stroke-width="0.15">M</text>
<path d="M 187.3 264.2 L 209.8 264.2 L 209.8 284 L 204 287 L 200 289 L 200 313" fill="none" stroke="#e4968a" stroke-width="2.4"/>
<path d="M 187.3 264.2 L 209.8 264.2 L 209.8 284 L 204 287 L 200 289 L 200 313" fill="none" stroke="#c8302a" stroke-width="0.8"/>
<path d="M 184.5 264.2 L 189 261.8 L 189 266.6 Z" fill="#555"/>
<rect x="207.6" y="259.8" width="6.2" height="5.6" fill="#2a2a2a"/><rect x="207.6" y="261.4" width="6.2" height="0.8" fill="#8aa08a"/><rect x="207.6" y="263.2" width="6.2" height="0.6" fill="#8aa08a"/>
<text x="184.1" y="271.2" font-size="4.8" font-weight="bold" fill="#2a2a2a" text-anchor="start" stroke="#2a2a2a" stroke-width="0.15">C</text>
<text x="211.6" y="271.2" font-size="4.8" font-weight="bold" fill="#2a2a2a" text-anchor="start" stroke="#2a2a2a" stroke-width="0.15">M</text>
<polygon points="197.5,281 214.9,281 210.5,290.9 193,290.9" fill="#e4f0aa" stroke="#a0b060" stroke-width="0.4"/>
<path d="M 209.8 281 L 209.8 284 L 204 287 L 200 289 L 200 291" fill="none" stroke="#e4968a" stroke-width="2.4"/>
<path d="M 209.8 281 L 209.8 284 L 204 287 L 200 289 L 200 291" fill="none" stroke="#c8302a" stroke-width="0.8"/>
<path d="M 202 285 l 1.6 -1.8 M 205 287.5 l 1.6 -1.8" stroke="#333" stroke-width="0.5"/>
<text x="205.9" y="296.6" font-size="4.8" font-weight="bold" fill="#2a2a2a" text-anchor="start" stroke="#2a2a2a" stroke-width="0.15">GSM</text>
<text x="192.2" y="303.6" font-size="4.8" font-weight="bold" fill="#2a2a2a" text-anchor="start" stroke="#2a2a2a" stroke-width="0.15">O</text>
<rect x="197" y="301.2" width="9" height="1.6" fill="#999"/><rect x="198.5" y="300.4" width="3" height="3.2" fill="#bbb"/>
<text x="224.2" y="280" font-size="4.4" font-weight="bold" fill="#2a2a2a" text-anchor="middle" textLength="30" lengthAdjust="spacingAndGlyphs" transform="rotate(90 224.2 280)" dy="1.5" stroke="#2a2a2a" stroke-width="0.12">Sample Arm</text>
<polygon points="183.5,328.5 197,314.2 222.8,315.5 206,331.8" fill="#8a8a8a"/>
<polygon points="183.5,328.5 206,331.8 206,333.6 183.5,330.4" fill="#2e2e2e"/><polygon points="206,331.8 222.8,315.5 222.8,317.4 206,333.6" fill="#4a4a4a"/>
<polygon points="186.5,327.6 198,315.8 219.6,316.8 205,330" fill="#eef2f6"/>
<circle cx="198.2" cy="316.8" r="0.6" fill="#8a96aa"/>
<circle cx="200.6" cy="317.0" r="0.6" fill="#8a96aa"/>
<circle cx="203.0" cy="317.1" r="0.6" fill="#8a96aa"/>
<circle cx="205.3" cy="317.2" r="0.6" fill="#8a96aa"/>
<circle cx="207.7" cy="317.3" r="0.6" fill="#8a96aa"/>
<circle cx="210.1" cy="317.5" r="0.6" fill="#8a96aa"/>
<circle cx="212.5" cy="317.6" r="0.6" fill="#8a96aa"/>
<circle cx="214.8" cy="317.7" r="0.6" fill="#8a96aa"/>
<circle cx="217.2" cy="317.8" r="0.6" fill="#8a96aa"/>
<circle cx="196.3" cy="318.8" r="0.6" fill="#8a96aa"/>
<circle cx="198.6" cy="319.0" r="0.6" fill="#8a96aa"/>
<circle cx="200.9" cy="319.1" r="0.6" fill="#8a96aa"/>
<circle cx="203.2" cy="319.3" r="0.6" fill="#8a96aa"/>
<circle cx="205.5" cy="319.4" r="0.6" fill="#8a96aa"/>
<circle cx="207.9" cy="319.6" r="0.6" fill="#8a96aa"/>
<circle cx="210.2" cy="319.7" r="0.6" fill="#8a96aa"/>
<circle cx="212.5" cy="319.9" r="0.6" fill="#8a96aa"/>
<circle cx="214.8" cy="320.0" r="0.6" fill="#8a96aa"/>
<circle cx="194.3" cy="320.8" r="0.6" fill="#8a96aa"/>
<circle cx="196.6" cy="321.0" r="0.6" fill="#8a96aa"/>
<circle cx="198.8" cy="321.2" r="0.6" fill="#8a96aa"/>
<circle cx="201.1" cy="321.3" r="0.6" fill="#8a96aa"/>
<circle cx="203.4" cy="321.5" r="0.6" fill="#8a96aa"/>
<circle cx="205.6" cy="321.7" r="0.6" fill="#8a96aa"/>
<circle cx="207.9" cy="321.9" r="0.6" fill="#8a96aa"/>
<circle cx="210.1" cy="322.0" r="0.6" fill="#8a96aa"/>
<circle cx="212.4" cy="322.2" r="0.6" fill="#8a96aa"/>
<circle cx="192.4" cy="322.8" r="0.6" fill="#8a96aa"/>
<circle cx="194.6" cy="323.0" r="0.6" fill="#8a96aa"/>
<circle cx="196.8" cy="323.2" r="0.6" fill="#8a96aa"/>
<circle cx="199.0" cy="323.4" r="0.6" fill="#8a96aa"/>
<circle cx="201.2" cy="323.6" r="0.6" fill="#8a96aa"/>
<circle cx="203.4" cy="323.8" r="0.6" fill="#8a96aa"/>
<circle cx="205.6" cy="324.0" r="0.6" fill="#8a96aa"/>
<circle cx="207.8" cy="324.2" r="0.6" fill="#8a96aa"/>
<circle cx="210.0" cy="324.4" r="0.6" fill="#8a96aa"/>
<circle cx="190.4" cy="324.8" r="0.6" fill="#8a96aa"/>
<circle cx="192.6" cy="325.0" r="0.6" fill="#8a96aa"/>
<circle cx="194.7" cy="325.2" r="0.6" fill="#8a96aa"/>
<circle cx="196.9" cy="325.4" r="0.6" fill="#8a96aa"/>
<circle cx="199.0" cy="325.7" r="0.6" fill="#8a96aa"/>
<circle cx="201.2" cy="325.9" r="0.6" fill="#8a96aa"/>
<circle cx="203.3" cy="326.1" r="0.6" fill="#8a96aa"/>
<circle cx="205.4" cy="326.4" r="0.6" fill="#8a96aa"/>
<circle cx="207.6" cy="326.6" r="0.6" fill="#8a96aa"/>
<circle cx="188.5" cy="326.7" r="0.6" fill="#8a96aa"/>
<circle cx="190.6" cy="327.0" r="0.6" fill="#8a96aa"/>
<circle cx="192.7" cy="327.3" r="0.6" fill="#8a96aa"/>
<circle cx="194.8" cy="327.5" r="0.6" fill="#8a96aa"/>
<circle cx="196.8" cy="327.8" r="0.6" fill="#8a96aa"/>
<circle cx="198.9" cy="328.0" r="0.6" fill="#8a96aa"/>
<circle cx="201.0" cy="328.3" r="0.6" fill="#8a96aa"/>
<circle cx="203.1" cy="328.5" r="0.6" fill="#8a96aa"/>
<circle cx="205.2" cy="328.8" r="0.6" fill="#8a96aa"/>
<path d="M 141.5 292 C 138 296 138 301 141.5 304.6 L 145 304.6 C 142.5 301 142.5 296 145 292 Z" fill="#333"/>
<path d="M 156 292 C 159.5 296 159.5 301 156 304.6 L 152.5 304.6 C 155 301 155 296 152.5 292 Z" fill="#333"/>
<path d="M 144 294 C 142.5 297 142.5 300 144 303" stroke="#ccc" stroke-width="0.6" fill="none"/><path d="M 153.5 294 C 155 297 155 300 153.5 303" stroke="#ccc" stroke-width="0.6" fill="none"/>
<rect x="146" y="293" width="1.4" height="11" fill="#666"/><rect x="150.1" y="293" width="1.4" height="11" fill="#666"/>
<text x="149.2" y="312.6" font-size="4.8" font-weight="bold" fill="#2a2a2a" text-anchor="start" stroke="#2a2a2a" stroke-width="0.15">DAQ</text>
<polygon points="140,322 144,319.5 153.8,319.5 153.8,336.8 140,336.8" fill="#111"/>
<rect x="153.8" y="318.4" width="23" height="12.6" fill="#111"/><rect x="155" y="319.5" width="20.6" height="10.4" fill="#1c1c1c"/>
<rect x="163.5" y="331" width="3" height="6" fill="#111"/><rect x="159" y="337" width="12" height="2.2" fill="#111"/>
<rect x="163" y="324.5" width="4" height="0.8" fill="#888"/>
<text x="153.8" y="343.3" font-size="4.8" font-weight="bold" fill="#2a2a2a" text-anchor="start" stroke="#2a2a2a" stroke-width="0.15">CP</text>
<circle cx="248.4" cy="256.4" r="12.4" fill="#4a4a4a"/>
<circle cx="248.4" cy="256.4" r="12.2" fill="none" stroke="#8a8a8a" stroke-width="0.6" stroke-dasharray="0.8 0.8"/>
<circle cx="248.4" cy="256.4" r="10.8" fill="#a8a8a8"/>
<circle cx="248.4" cy="256.4" r="9.8" fill="#6c6a66"/>
<circle cx="248.4" cy="256.4" r="7" fill="none" stroke="#8a8884" stroke-width="0.8"/>
<rect x="245.1" y="252.6" width="6.8" height="7.2" fill="none" stroke="#e02020" stroke-width="1.2"/>
<defs><linearGradient id="sqbg" x1="0" y1="0" x2="1" y2="0"><stop offset="0" stop-color="#585080"/><stop offset="0.35" stop-color="#403e48"/><stop offset="1" stop-color="#4a4c44"/></linearGradient><clipPath id="sqclip"><rect x="229.8" y="271.9" width="38.2" height="28.9"/></clipPath></defs>
<rect x="229.8" y="271.9" width="38.2" height="28.9" fill="url(#sqbg)"/>
<g clip-path="url(#sqclip)">
<circle cx="232.6" cy="287" r="7" fill="#5a5a5c" stroke="#d4d4dc" stroke-width="1"/>
<circle cx="249" cy="285.9" r="7" fill="#5a5a5c" stroke="#d4d4dc" stroke-width="1"/>
<circle cx="264.9" cy="287" r="7" fill="#5a5a5c" stroke="#d4d4dc" stroke-width="1"/>
<circle cx="240.8" cy="272.1" r="7" fill="#5a5a5c" stroke="#d4d4dc" stroke-width="1"/>
<circle cx="257" cy="272.1" r="7" fill="#5a5a5c" stroke="#d4d4dc" stroke-width="1"/>
<circle cx="240.8" cy="299.8" r="7" fill="#5a5a5c" stroke="#d4d4dc" stroke-width="1"/>
<circle cx="257" cy="299.8" r="7" fill="#5a5a5c" stroke="#d4d4dc" stroke-width="1"/>
</g>
<rect x="244.9" y="282.9" width="7.2" height="6.6" fill="none" stroke="#e02020" stroke-width="1.2"/>
<rect x="230" y="301.5" width="37.9" height="34.3" fill="#fff" stroke="#888" stroke-width="0.4" stroke-dasharray="1 0.8"/>
<polygon points="230.5,301.8 267.5,301.8 258,313.5 240,313.5" fill="#cfe8f4"/>
<path d="M 239.8 315.5 L 239.8 323 C 239.8 337 259.2 337 259.2 323 L 259.2 315.5 Z" fill="url(#cupg)"/>
<ellipse cx="249.5" cy="315.5" rx="9.7" ry="2.8" fill="#c8e4f0" stroke="#8aa" stroke-width="0.3"/>
<ellipse cx="249.5" cy="327.5" rx="5" ry="5.5" fill="#555" opacity="0.75"/>
<rect x="248" y="304.5" width="1.5" height="10.5" fill="#e85050"/>
<text x="267.6" y="237.7" font-size="12.2" font-weight="bold" fill="#000" text-anchor="start" stroke="#000" stroke-width="0.18" >G</text>
<defs><filter id="blur1" x="-20%" y="-20%" width="140%" height="140%"><feGaussianBlur stdDeviation="0.6"/></filter><filter id="blur2"><feGaussianBlur stdDeviation="1.5"/></filter><filter id="noise" x="0" y="0" width="100%" height="100%"><feTurbulence type="fractalNoise" baseFrequency="0.9" numOctaves="2" seed="4"/><feColorMatrix type="matrix" values="0 0 0 0 1  0 0 0 0 1  0 0 0 0 1  0 0 0 1.6 -0.55"/><feComposite in2="SourceGraphic" operator="in"/></filter></defs>
<rect x="297" y="233" width="56.8" height="51.8" fill="#000"/>
<rect x="297" y="286.9" width="56.8" height="56.9" fill="#050505"/>
<rect x="355.3" y="233" width="56.3" height="51.8" fill="#000"/>
<rect x="355.3" y="286.9" width="56.3" height="56.9" fill="#050505"/>
<rect x="413.4" y="233" width="56.1" height="51.8" fill="#000"/>
<rect x="413.4" y="286.9" width="56.1" height="56.9" fill="#050505"/>
<rect x="471.3" y="233" width="56.5" height="51.8" fill="#000"/>
<rect x="471.3" y="286.9" width="56.5" height="56.9" fill="#050505"/>
<ellipse cx="327" cy="253.4" rx="15.3" ry="16.2" transform="rotate(-12 327 253.4)" fill="#0c0302"/>
<ellipse cx="326" cy="252" rx="8" ry="9" fill="#2a0804" opacity="0.8" filter="url(#blur2)"/>
<ellipse cx="327" cy="253.4" rx="15.3" ry="16.2" transform="rotate(-12 327 253.4)" fill="none" stroke="#3f8a26" stroke-width="0.9" stroke-dasharray="1.3 0.7"/>
<path d="M 312.5 250 A 15.3 16.2 -12 0 1 318 240" fill="none" stroke="#7ac040" stroke-width="0.8" stroke-dasharray="0.8 0.8"/>
<path d="M 336 267 A 15.3 16.2 -12 0 0 342 256" fill="none" stroke="#6ab03a" stroke-width="0.8" stroke-dasharray="0.8 0.8"/>
<path d="M 364 248 C 362 243 366 239 371 240 C 374 236 380 236 384 238 C 388 235 396 235 400 238 C 403 240 401 244 404 246 C 407 249 405 252 407 255 C 409 259 405 262 402 263 C 403 267 398 270 393 269 C 390 272 384 273 380 271 C 376 272 372 268 373 264 C 369 262 364 260 366 256 C 362 254 361 250 364 248 Z" fill="#0c0302"/>
<ellipse cx="386" cy="245" rx="6" ry="5" fill="#300804" opacity="0.9" filter="url(#blur2)"/><ellipse cx="378" cy="258" rx="5" ry="4" fill="#260604" opacity="0.9" filter="url(#blur2)"/>
<path d="M 364 248 C 362 243 366 239 371 240 C 374 236 380 236 384 238 C 388 235 396 235 400 238 C 403 240 401 244 404 246 C 407 249 405 252 407 255 C 409 259 405 262 402 263 C 403 267 398 270 393 269 C 390 272 384 273 380 271 C 376 272 372 268 373 264 C 369 262 364 260 366 256 C 362 254 361 250 364 248 Z" fill="none" stroke="#3f8f28" stroke-width="0.9" stroke-dasharray="1.5 0.5"/>
<circle cx="440" cy="238.5" r="3.45" fill="#6aa83a"/>
<circle cx="440" cy="238.5" r="2.55" fill="#080202"/>
<circle cx="438.6" cy="261.2" r="4.05" fill="#6aa83a"/>
<circle cx="445.8" cy="261.6" r="4.05" fill="#6aa83a"/>
<circle cx="442" cy="258.2" r="3.45" fill="#6aa83a"/>
<circle cx="440.4" cy="266.8" r="3.75" fill="#6aa83a"/>
<circle cx="446.4" cy="266.4" r="3.25" fill="#6aa83a"/>
<circle cx="438.6" cy="261.2" r="3.15" fill="#080202"/>
<circle cx="445.8" cy="261.6" r="3.15" fill="#080202"/>
<circle cx="442" cy="258.2" r="2.55" fill="#080202"/>
<circle cx="440.4" cy="266.8" r="2.8499999999999996" fill="#080202"/>
<circle cx="446.4" cy="266.4" r="2.3499999999999996" fill="#080202"/>
<circle cx="441" cy="276.2" r="3.0500000000000003" fill="#6aa83a"/>
<circle cx="441" cy="276.2" r="2.15" fill="#080202"/>
<circle cx="420.6" cy="281.3" r="2.25" fill="#6aa83a"/>
<circle cx="420.6" cy="281.3" r="1.35" fill="#080202"/>
<circle cx="444.9" cy="242.4" r="1.0" fill="#6a5a20"/>
<circle cx="451.5" cy="243" r="1.0" fill="#6a5a20"/>
<circle cx="478.6" cy="254" r="3.0500000000000003" fill="#6aa83a"/>
<circle cx="478.6" cy="254" r="2.15" fill="#080202"/>
<circle cx="480.9" cy="262.7" r="1.75" fill="#6aa83a"/>
<circle cx="480.9" cy="262.7" r="0.8500000000000001" fill="#080202"/>
<circle cx="506.7" cy="267.2" r="3.85" fill="#6aa83a"/>
<circle cx="506.7" cy="267.2" r="2.9499999999999997" fill="#080202"/>
<circle cx="516.1" cy="261.4" r="3.45" fill="#6aa83a"/>
<circle cx="516.1" cy="261.4" r="2.55" fill="#080202"/>
<circle cx="515.3" cy="249.6" r="3.35" fill="#6aa83a"/>
<circle cx="515.3" cy="252.2" r="3.35" fill="#6aa83a"/>
<circle cx="515.3" cy="249.6" r="2.4499999999999997" fill="#080202"/>
<circle cx="515.3" cy="252.2" r="2.4499999999999997" fill="#080202"/>
</g>
<rect x="294.3" y="242" width="1.7" height="26.5" fill="url(#livedead)"/>
<text x="293.1" y="238.4" font-size="4.6" font-weight="normal" fill="#333" text-anchor="middle" textLength="10.7" lengthAdjust="spacingAndGlyphs" stroke="#333" stroke-width="0.18" transform="rotate(-90 293.1 238.4)">Live</text>
<text x="293.1" y="270" font-size="4.6" font-weight="normal" fill="#333" text-anchor="middle" textLength="14.6" lengthAdjust="spacingAndGlyphs" stroke="#333" stroke-width="0.18" transform="rotate(-90 293.1 270)">Dead</text>
<text x="301.9" y="275.1" font-size="6.8" font-weight="normal" fill="#fff" text-anchor="start" textLength="23.1" lengthAdjust="spacingAndGlyphs" stroke="#fff" stroke-width="0.18" >200 μm</text>
<rect x="302.2" y="279.4" width="6.4" height="1.4" fill="#eee"/>
<defs><filter id="speck" x="0" y="0" width="100%" height="100%" color-interpolation-filters="sRGB"><feTurbulence type="fractalNoise" baseFrequency="1.1" numOctaves="2" seed="7" result="n"/><feColorMatrix in="n" type="matrix" values="0.9 0 0 0 0.3  0.9 0 0 0 0.3  0.9 0 0 0 0.3  0 0 0 0 1" result="g"/><feComposite in="g" in2="SourceGraphic" operator="in"/></filter><filter id="speckd" x="0" y="0" width="100%" height="100%" color-interpolation-filters="sRGB"><feTurbulence type="fractalNoise" baseFrequency="1.3" numOctaves="1" seed="3" result="n"/><feColorMatrix in="n" type="matrix" values="0 0 0 0 1  0 0 0 0 1  0 0 0 0 1  6 0 0 0 -4.3" result="g"/><feComposite in="g" in2="SourceGraphic" operator="in"/></filter><filter id="soft" x="-10%" y="-10%" width="120%" height="120%"><feGaussianBlur stdDeviation="0.45"/></filter></defs>
<rect x="297" y="286.9" width="56.8" height="56.9" fill="#000" filter="url(#speckd)" opacity="0.3"/>
<rect x="355.3" y="286.9" width="56.3" height="56.9" fill="#000" filter="url(#speckd)" opacity="0.3"/>
<rect x="413.4" y="286.9" width="56.1" height="56.9" fill="#000" filter="url(#speckd)" opacity="0.3"/>
<rect x="471.3" y="286.9" width="56.5" height="56.9" fill="#000" filter="url(#speckd)" opacity="0.3"/>
<rect x="297" y="287" width="56.8" height="1.4" fill="#d0d0d0" opacity="1"/>
<rect x="297" y="288.4" width="56.8" height="4.6" fill="#8c8c8c" opacity="1"/>
<rect x="297" y="288.4" width="56.8" height="4.6" fill="#000" filter="url(#speck)" opacity="0.55"/>
<rect x="297" y="323.8" width="56.8" height="1.2" fill="#f0f0f0" opacity="1"/>
<rect x="297" y="339.5" width="56.8" height="4.3" fill="#a8a8a8" opacity="1"/>
<rect x="297" y="339.5" width="56.8" height="4.3" fill="#000" filter="url(#speck)" opacity="0.55"/>
<g filter="url(#soft)"><path d="M 310.5 324 C 310 316 313 311 319 309 C 324 307 328 305 331 302 C 333 300.5 335 300.5 336 302 C 338 305 340 308 341.5 313 C 343 317 343 321 342.9 324 Z" fill="#9c9c9c"/>
<path d="M 310.5 324 C 310 316 313 311 319 309 C 324 307 328 305 331 302 C 333 300.5 335 300.5 336 302 C 338 305 340 308 341.5 313 C 343 317 343 321 342.9 324 Z" fill="#000" filter="url(#speck)" opacity="0.55"/></g>
<rect x="355.3" y="287.2" width="56.3" height="1.4" fill="#d8d8d8" opacity="1"/>
<rect x="355.3" y="288.6" width="56.3" height="5.9" fill="#969696" opacity="1"/>
<rect x="355.3" y="288.6" width="56.3" height="5.9" fill="#000" filter="url(#speck)" opacity="0.55"/>
<rect x="355.3" y="321.6" width="56.3" height="1.2" fill="#f0f0f0" opacity="1"/>
<rect x="355.3" y="338" width="56.3" height="5.8" fill="#b4b4b4" opacity="1"/>
<rect x="355.3" y="338" width="56.3" height="5.8" fill="#000" filter="url(#speck)" opacity="0.55"/>
<g filter="url(#soft)"><path d="M 360.8 321.6 C 361 315 366 311 372 309 C 378 306 384 303 390 303.2 C 396 303.5 402 306 404 311 C 406 316 406 319 406 321.6 Z" fill="#a8a8a8"/>
<path d="M 360.8 321.6 C 361 315 366 311 372 309 C 378 306 384 303 390 303.2 C 396 303.5 402 306 404 311 C 406 316 406 319 406 321.6 Z" fill="#000" filter="url(#speck)" opacity="0.55"/></g>
<rect x="413.4" y="287.2" width="56.1" height="1.8" fill="#505050" opacity="1"/>
<rect x="413.4" y="287.2" width="56.1" height="1.8" fill="#000" filter="url(#speck)" opacity="0.55"/>
<rect x="413.4" y="322.4" width="56.1" height="1.2" fill="#f0f0f0" opacity="1"/>
<rect x="413.4" y="323.6" width="56.1" height="11.4" fill="#262626" opacity="1"/>
<rect x="413.4" y="323.6" width="56.1" height="11.4" fill="#000" filter="url(#speck)" opacity="0.55"/>
<rect x="413.4" y="338" width="56.1" height="4.4" fill="#cfcfcf" opacity="1"/>
<rect x="413.4" y="338" width="56.1" height="4.4" fill="#000" filter="url(#speck)" opacity="0.55"/>
<g filter="url(#soft)"><path d="M 414 322.4 C 414 316 418 314 424 314.5 C 430 313 436 313.5 440 312.5 C 442 309.5 446 309 447.5 312 C 450 313 452 314 455 314.5 C 457 312 460 312.5 461 315 C 465 315 467 317 468.5 322.4 Z" fill="#9a9a9a"/>
<path d="M 414 322.4 C 414 316 418 314 424 314.5 C 430 313 436 313.5 440 312.5 C 442 309.5 446 309 447.5 312 C 450 313 452 314 455 314.5 C 457 312 460 312.5 461 315 C 465 315 467 317 468.5 322.4 Z" fill="#000" filter="url(#speck)" opacity="0.55"/></g>
<rect x="471.3" y="317" width="56.5" height="1.2" fill="#e8e8e8" opacity="1"/>
<rect x="471.3" y="318.2" width="56.5" height="9.0" fill="#5a5a5a" opacity="1"/>
<rect x="471.3" y="318.2" width="56.5" height="9.0" fill="#000" filter="url(#speck)" opacity="0.55"/>
<path d="M 471.3 334.8 C 490 333 510 332.5 527.8 333 L 527.8 336.8 C 510 336.5 490 337 471.3 338.5 Z" fill="#c8c8c8"/>
<rect x="471.3" y="339" width="56.5" height="4.8" fill="#6a6a6a" opacity="1"/>
<rect x="471.3" y="339" width="56.5" height="4.8" fill="#000" filter="url(#speck)" opacity="0.55"/>
<g filter="url(#soft)"><path d="M 482.7 317 C 483 311 487 307 492 306 C 497 305 503 305.5 506 308 C 509 311 509.2 314 509.2 317 Z" fill="#a8a8a8"/>
<path d="M 482.7 317 C 483 311 487 307 492 306 C 497 305 503 305.5 506 308 C 509 311 509.2 314 509.2 317 Z" fill="#000" filter="url(#speck)" opacity="0.55"/></g>
<g filter="url(#soft)"><path d="M 510.2 317 C 510.5 310 512 305 515 301 C 518 300 520 303 520.5 307 C 521 311 521 314 521 317 Z" fill="#a8a8a8"/>
<path d="M 510.2 317 C 510.5 310 512 305 515 301 C 518 300 520 303 520.5 307 C 521 311 521 314 521 317 Z" fill="#000" filter="url(#speck)" opacity="0.55"/></g>
<rect x="293.4" y="300.8" width="1.6" height="32.8" fill="url(#dbbar)"/>
<text x="293.3" y="303.5" font-size="5.6" font-weight="bold" fill="#111" text-anchor="middle" textLength="5.3" lengthAdjust="spacingAndGlyphs" stroke="#111" stroke-width="0.25" transform="rotate(-90 293.3 303.5)">40</text>
<text x="293.3" y="314.5" font-size="5.6" font-weight="bold" fill="#111" text-anchor="middle" textLength="11.5" lengthAdjust="spacingAndGlyphs" stroke="#111" stroke-width="0.25" transform="rotate(-90 293.3 314.5)">[dB]</text>
<text x="293.3" y="330.9" font-size="5.6" font-weight="bold" fill="#111" text-anchor="middle" textLength="3.8" lengthAdjust="spacingAndGlyphs" stroke="#111" stroke-width="0.25" transform="rotate(-90 293.3 330.9)">-5</text>
<path d="M 301.7 324.4 L 301.7 337.1 L 316.7 337.1" fill="none" stroke="#fff" stroke-width="0.9"/>
<text x="304.9" y="334.4" font-size="6.9" font-weight="normal" fill="#fff" text-anchor="start" textLength="23.3" lengthAdjust="spacingAndGlyphs" stroke="#fff" stroke-width="0.18" >250 μm</text>
</svg></body></html>
